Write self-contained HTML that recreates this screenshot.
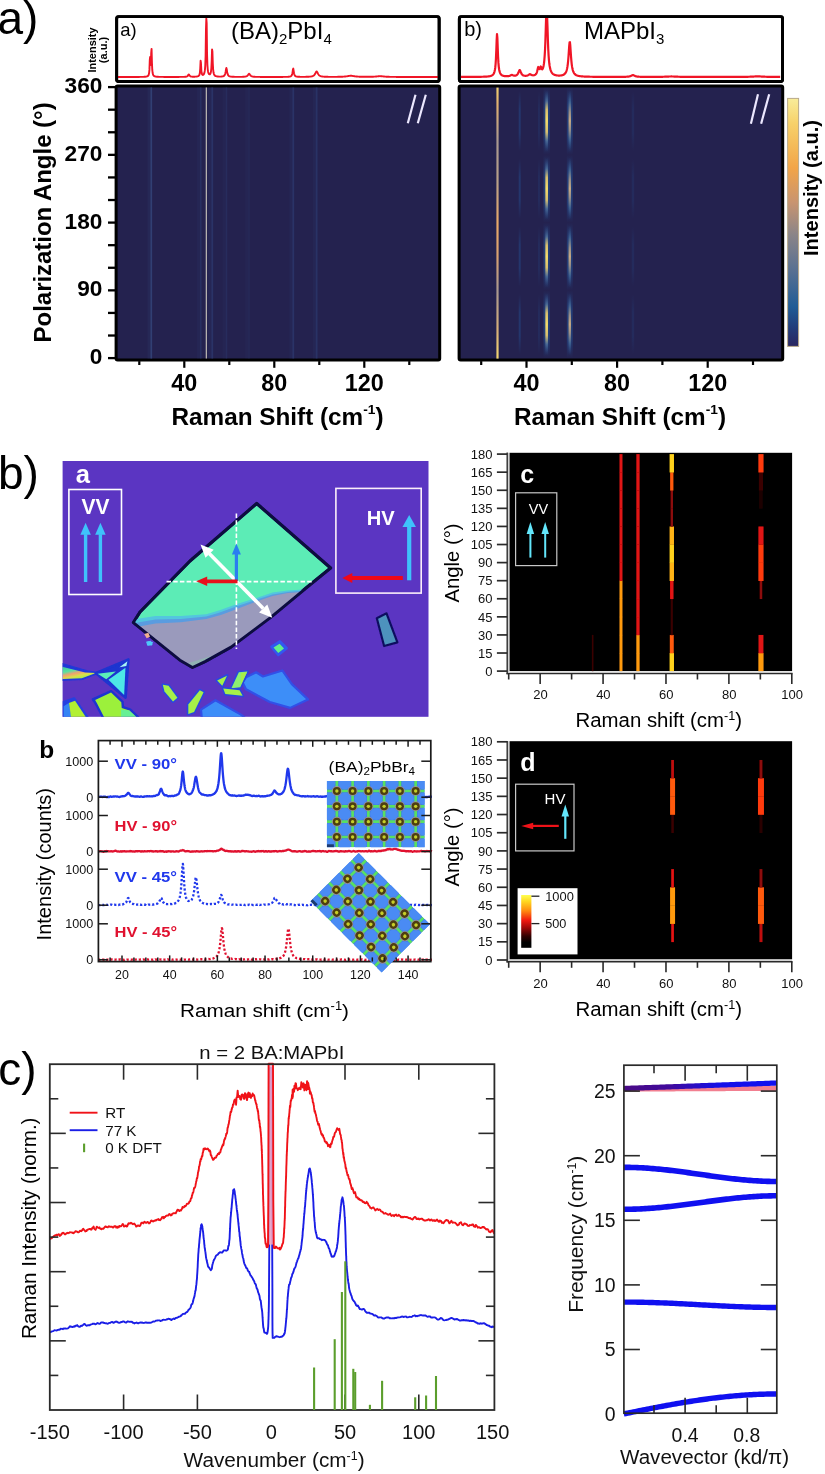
<!DOCTYPE html>
<html lang="en"><head><meta charset="utf-8"><title>Raman figure</title>
<style>
html,body{margin:0;padding:0;background:#fff;}
body{width:825px;height:1474px;overflow:hidden;}
svg{display:block;font-family:"Liberation Sans",sans-serif;}
</style></head><body>
<svg width="825" height="1474" viewBox="0 0 825 1474">
<rect x="0" y="0" width="825" height="1474" fill="#ffffff"/>
<defs>
<linearGradient id="cbA" x1="0" y1="0" x2="0" y2="1"><stop offset="0" stop-color="#f8ec9a"/><stop offset="0.10" stop-color="#f7d16a"/><stop offset="0.28" stop-color="#f2a548"/><stop offset="0.42" stop-color="#c89470"/><stop offset="0.55" stop-color="#8a8488"/><stop offset="0.70" stop-color="#566f92"/><stop offset="0.84" stop-color="#205c96"/><stop offset="0.93" stop-color="#233b78"/><stop offset="1" stop-color="#2a2560"/></linearGradient>
<linearGradient id="segY" x1="0" y1="0" x2="0" y2="1"><stop offset="0" stop-color="#2a4a86" stop-opacity="0"/><stop offset="0.18" stop-color="#4a6a96"/><stop offset="0.32" stop-color="#d8c070"/><stop offset="0.5" stop-color="#f4dc6c"/><stop offset="0.68" stop-color="#d8c070"/><stop offset="0.82" stop-color="#4a6a96"/><stop offset="1" stop-color="#2a4a86" stop-opacity="0"/></linearGradient>
<linearGradient id="segT" x1="0" y1="0" x2="0" y2="1"><stop offset="0" stop-color="#2a4a86" stop-opacity="0"/><stop offset="0.2" stop-color="#3f6392"/><stop offset="0.36" stop-color="#9a9088"/><stop offset="0.5" stop-color="#c8aa84"/><stop offset="0.64" stop-color="#9a9088"/><stop offset="0.8" stop-color="#3f6392"/><stop offset="1" stop-color="#2a4a86" stop-opacity="0"/></linearGradient>
<linearGradient id="segH" x1="0" y1="0" x2="0" y2="1"><stop offset="0" stop-color="#234a8a" stop-opacity="0"/><stop offset="0.3" stop-color="#234a8a" stop-opacity="0.9"/><stop offset="0.7" stop-color="#234a8a" stop-opacity="0.9"/><stop offset="1" stop-color="#234a8a" stop-opacity="0"/></linearGradient>
<linearGradient id="lineA" x1="0" y1="0" x2="0" y2="1"><stop offset="0" stop-color="#f0d070"/><stop offset="0.06" stop-color="#e0b070"/><stop offset="0.2" stop-color="#a89890"/><stop offset="0.35" stop-color="#b8a088"/><stop offset="0.5" stop-color="#e8a868"/><stop offset="0.62" stop-color="#d8a070"/><stop offset="0.75" stop-color="#a89890"/><stop offset="0.9" stop-color="#d8b078"/><stop offset="1" stop-color="#f4d870"/></linearGradient>
</defs>
<text x="-2.5" y="33.8" font-size="46" font-weight="normal" text-anchor="start" fill="#000">a)</text>
<rect x="116.1" y="86.1" width="323.6" height="274" fill="#24224f" stroke="#000" stroke-width="3" rx="1.5"/>
<line x1="150.03" y1="87.6" x2="150.03" y2="358.6" stroke="#2b3466" stroke-width="5" opacity="0.3375"/>
<line x1="151.23" y1="87.6" x2="151.23" y2="358.6" stroke="#364a80" stroke-width="1.4" opacity="0.75"/>
<line x1="199.53" y1="87.6" x2="199.53" y2="358.6" stroke="#2b3466" stroke-width="5" opacity="0.225"/>
<line x1="200.72" y1="87.6" x2="200.72" y2="358.6" stroke="#2c3c74" stroke-width="1.2" opacity="0.5"/>
<line x1="211" y1="87.6" x2="211" y2="358.6" stroke="#2b3466" stroke-width="5" opacity="0.27"/>
<line x1="212.2" y1="87.6" x2="212.2" y2="358.6" stroke="#303f78" stroke-width="1.4" opacity="0.6"/>
<line x1="225.18" y1="87.6" x2="225.18" y2="358.6" stroke="#2b3466" stroke-width="5" opacity="0.2025"/>
<line x1="226.38" y1="87.6" x2="226.38" y2="358.6" stroke="#2a376c" stroke-width="1.2" opacity="0.45"/>
<line x1="247.68" y1="87.6" x2="247.68" y2="358.6" stroke="#2b3466" stroke-width="5" opacity="0.18000000000000002"/>
<line x1="248.88" y1="87.6" x2="248.88" y2="358.6" stroke="#28305f" stroke-width="1.2" opacity="0.4"/>
<line x1="292" y1="87.6" x2="292" y2="358.6" stroke="#2b3466" stroke-width="5" opacity="0.27"/>
<line x1="293.2" y1="87.6" x2="293.2" y2="358.6" stroke="#303f78" stroke-width="1.4" opacity="0.6"/>
<line x1="315.4" y1="87.6" x2="315.4" y2="358.6" stroke="#2b3466" stroke-width="5" opacity="0.24750000000000003"/>
<line x1="316.6" y1="87.6" x2="316.6" y2="358.6" stroke="#2e3c74" stroke-width="1.6" opacity="0.55"/>
<line x1="206.35" y1="87.6" x2="206.35" y2="358.6" stroke="#b4b0ae" stroke-width="1.3"/>
<line x1="415.5" y1="94.8" x2="407.8" y2="123.3" stroke="#ece8ff" stroke-width="2.2"/>
<line x1="425.8" y1="94.8" x2="417.8" y2="123.3" stroke="#ece8ff" stroke-width="2.2"/>
<rect x="116.65" y="16.65" width="322.5" height="64.9" fill="#fff" stroke="#000" stroke-width="2.9" rx="2"/>
<polyline points="117.93,76.99 118.28,76.99 118.64,76.99 119,76.99 119.36,76.99 119.71,76.99 120.07,76.99 120.43,76.98 120.79,76.98 121.15,76.98 121.5,76.98 121.86,76.98 122.22,76.98 122.58,76.98 122.94,76.98 123.29,76.98 123.65,76.98 124.01,76.98 124.37,76.98 124.73,76.98 125.08,76.98 125.44,76.98 125.8,76.98 126.16,76.98 126.51,76.98 126.87,76.98 127.23,76.98 127.59,76.98 127.95,76.98 128.3,76.98 128.66,76.98 129.02,76.98 129.38,76.97 129.74,76.97 130.09,76.97 130.45,76.97 130.81,76.97 131.17,76.97 131.53,76.97 131.88,76.97 132.24,76.97 132.6,76.97 132.96,76.97 133.31,76.96 133.67,76.96 134.03,76.96 134.39,76.96 134.75,76.96 135.1,76.96 135.46,76.96 135.82,76.95 136.18,76.95 136.54,76.95 136.89,76.95 137.25,76.95 137.61,76.94 137.97,76.94 138.33,76.94 138.68,76.93 139.04,76.93 139.4,76.93 139.76,76.92 140.11,76.92 140.47,76.91 140.83,76.91 141.19,76.9 141.55,76.89 141.9,76.89 142.26,76.88 142.62,76.87 142.98,76.86 143.34,76.84 143.69,76.83 144.05,76.81 144.41,76.79 144.77,76.76 145.13,76.73 145.48,76.7 145.84,76.65 146.2,76.6 146.56,76.53 146.91,76.43 147.27,76.31 147.63,76.14 147.99,75.88 148.35,75.47 148.7,74.77 149.06,73.36 149.42,69.89 149.78,60.09 150.14,56.84 150.49,65.01 150.85,63.55 151.21,52.83 151.57,48.85 151.93,62.61 152.28,69.96 152.64,73 153,74.45 153.36,75.23 153.71,75.7 154.07,76 154.43,76.21 154.79,76.36 155.15,76.46 155.5,76.55 155.86,76.61 156.22,76.66 156.58,76.7 156.94,76.74 157.29,76.76 157.65,76.79 158.01,76.81 158.37,76.82 158.73,76.84 159.08,76.85 159.44,76.86 159.8,76.87 160.16,76.88 160.51,76.89 160.87,76.89 161.23,76.9 161.59,76.9 161.95,76.91 162.3,76.91 162.66,76.92 163.02,76.92 163.38,76.92 163.74,76.93 164.09,76.93 164.45,76.93 164.81,76.93 165.17,76.93 165.53,76.94 165.88,76.94 166.24,76.94 166.6,76.94 166.96,76.94 167.31,76.94 167.67,76.94 168.03,76.94 168.39,76.94 168.75,76.94 169.1,76.95 169.46,76.95 169.82,76.95 170.18,76.95 170.54,76.95 170.89,76.95 171.25,76.95 171.61,76.95 171.97,76.95 172.33,76.95 172.68,76.95 173.04,76.95 173.4,76.95 173.76,76.94 174.11,76.94 174.47,76.94 174.83,76.94 175.19,76.94 175.55,76.94 175.9,76.94 176.26,76.94 176.62,76.94 176.98,76.94 177.34,76.94 177.69,76.93 178.05,76.93 178.41,76.93 178.77,76.93 179.13,76.93 179.48,76.92 179.84,76.92 180.2,76.92 180.56,76.91 180.91,76.91 181.27,76.91 181.63,76.9 181.99,76.9 182.35,76.89 182.7,76.88 183.06,76.88 183.42,76.87 183.78,76.86 184.14,76.84 184.49,76.83 184.85,76.8 185.21,76.78 185.57,76.74 185.93,76.7 186.28,76.64 186.64,76.55 187,76.41 187.36,76.21 187.72,75.89 188.07,75.39 188.43,74.76 188.79,74.4 189.15,74.72 189.5,75.34 189.86,75.84 190.22,76.16 190.58,76.36 190.94,76.49 191.29,76.57 191.65,76.63 192.01,76.66 192.37,76.69 192.73,76.7 193.08,76.71 193.44,76.72 193.8,76.72 194.16,76.71 194.52,76.7 194.87,76.69 195.23,76.67 195.59,76.65 195.95,76.63 196.3,76.59 196.66,76.55 197.02,76.5 197.38,76.43 197.74,76.34 198.09,76.22 198.45,76.04 198.81,75.77 199.17,75.32 199.53,74.5 199.88,72.78 200.24,68.62 200.6,60.69 200.96,62.97 201.32,70.07 201.67,73.1 202.03,74.3 202.39,74.79 202.75,74.95 203.1,74.9 203.46,74.67 203.82,74.25 204.18,73.53 204.54,72.32 204.89,70.15 205.25,65.85 205.61,55.89 205.97,29.02 206.33,18.5 206.68,22.98 207.04,53.58 207.4,64.86 207.76,69.59 208.12,71.9 208.47,73.15 208.83,73.85 209.19,74.22 209.55,74.34 209.9,74.25 210.26,73.88 210.62,73.09 210.98,71.5 211.34,68.19 211.69,60.97 212.05,49.5 212.41,51.34 212.77,62.8 213.13,69.24 213.48,72.28 213.84,73.83 214.2,74.71 214.56,75.26 214.92,75.61 215.27,75.86 215.63,76.04 215.99,76.17 216.35,76.28 216.7,76.35 217.06,76.42 217.42,76.46 217.78,76.5 218.14,76.53 218.49,76.56 218.85,76.58 219.21,76.59 219.57,76.6 219.93,76.6 220.28,76.6 220.64,76.59 221,76.58 221.36,76.56 221.72,76.53 222.07,76.49 222.43,76.43 222.79,76.36 223.15,76.26 223.5,76.13 223.86,75.93 224.22,75.65 224.58,75.21 224.94,74.53 225.29,73.42 225.65,71.64 226.01,69.28 226.37,67.9 226.73,69.2 227.08,71.57 227.44,73.38 227.8,74.52 228.16,75.23 228.52,75.67 228.87,75.97 229.23,76.18 229.59,76.32 229.95,76.43 230.3,76.51 230.66,76.58 231.02,76.63 231.38,76.67 231.74,76.7 232.09,76.73 232.45,76.75 232.81,76.77 233.17,76.79 233.53,76.8 233.88,76.81 234.24,76.82 234.6,76.83 234.96,76.84 235.32,76.84 235.67,76.85 236.03,76.85 236.39,76.86 236.75,76.86 237.1,76.86 237.46,76.86 237.82,76.87 238.18,76.87 238.54,76.87 238.89,76.87 239.25,76.87 239.61,76.86 239.97,76.86 240.33,76.86 240.68,76.85 241.04,76.85 241.4,76.84 241.76,76.84 242.12,76.83 242.47,76.82 242.83,76.8 243.19,76.79 243.55,76.77 243.9,76.75 244.26,76.72 244.62,76.68 244.98,76.64 245.34,76.59 245.69,76.52 246.05,76.43 246.41,76.31 246.77,76.15 247.13,75.94 247.48,75.64 247.84,75.25 248.2,74.74 248.56,74.2 248.92,73.82 249.27,73.81 249.63,74.19 249.99,74.73 250.35,75.24 250.71,75.64 251.06,75.94 251.42,76.16 251.78,76.32 252.14,76.44 252.49,76.53 252.85,76.6 253.21,76.65 253.57,76.7 253.93,76.73 254.28,76.76 254.64,76.79 255,76.81 255.36,76.83 255.72,76.84 256.07,76.85 256.43,76.86 256.79,76.87 257.15,76.88 257.51,76.89 257.86,76.9 258.22,76.9 258.58,76.91 258.94,76.91 259.29,76.91 259.65,76.92 260.01,76.92 260.37,76.93 260.73,76.93 261.08,76.93 261.44,76.93 261.8,76.93 262.16,76.94 262.52,76.94 262.87,76.94 263.23,76.94 263.59,76.94 263.95,76.94 264.31,76.95 264.66,76.95 265.02,76.95 265.38,76.95 265.74,76.95 266.09,76.95 266.45,76.95 266.81,76.95 267.17,76.95 267.53,76.95 267.88,76.95 268.24,76.95 268.6,76.95 268.96,76.95 269.32,76.95 269.67,76.95 270.03,76.96 270.39,76.96 270.75,76.96 271.11,76.96 271.46,76.96 271.82,76.96 272.18,76.96 272.54,76.96 272.89,76.96 273.25,76.96 273.61,76.95 273.97,76.95 274.33,76.95 274.68,76.95 275.04,76.95 275.4,76.95 275.76,76.95 276.12,76.95 276.47,76.95 276.83,76.95 277.19,76.95 277.55,76.95 277.91,76.95 278.26,76.95 278.62,76.95 278.98,76.95 279.34,76.94 279.69,76.94 280.05,76.94 280.41,76.94 280.77,76.94 281.13,76.94 281.48,76.94 281.84,76.93 282.2,76.93 282.56,76.93 282.92,76.93 283.27,76.92 283.63,76.92 283.99,76.91 284.35,76.91 284.71,76.9 285.06,76.9 285.42,76.89 285.78,76.89 286.14,76.88 286.49,76.87 286.85,76.86 287.21,76.84 287.57,76.83 287.93,76.81 288.28,76.78 288.64,76.75 289,76.72 289.36,76.67 289.72,76.61 290.07,76.53 290.43,76.42 290.79,76.26 291.15,76.03 291.51,75.66 291.86,75.04 292.22,73.97 292.58,72.08 292.94,69.45 293.29,68.6 293.65,70.86 294.01,73.2 294.37,74.61 294.73,75.4 295.08,75.87 295.44,76.15 295.8,76.34 296.16,76.47 296.52,76.56 296.87,76.63 297.23,76.68 297.59,76.72 297.95,76.75 298.31,76.77 298.66,76.79 299.02,76.8 299.38,76.81 299.74,76.82 300.09,76.83 300.45,76.84 300.81,76.84 301.17,76.85 301.53,76.85 301.88,76.85 302.24,76.85 302.6,76.85 302.96,76.85 303.32,76.85 303.67,76.85 304.03,76.85 304.39,76.84 304.75,76.84 305.11,76.83 305.46,76.83 305.82,76.82 306.18,76.81 306.54,76.8 306.89,76.79 307.25,76.78 307.61,76.77 307.97,76.76 308.33,76.74 308.68,76.72 309.04,76.7 309.4,76.67 309.76,76.65 310.12,76.61 310.47,76.57 310.83,76.53 311.19,76.47 311.55,76.41 311.91,76.33 312.26,76.24 312.62,76.12 312.98,75.98 313.34,75.8 313.7,75.58 314.05,75.29 314.41,74.91 314.77,74.44 315.13,73.84 315.48,73.14 315.84,72.39 316.2,71.76 316.56,71.47 316.92,71.65 317.27,72.22 317.63,72.96 317.99,73.68 318.35,74.31 318.71,74.81 319.06,75.2 319.42,75.51 319.78,75.75 320.14,75.94 320.5,76.09 320.85,76.21 321.21,76.31 321.57,76.39 321.93,76.46 322.28,76.51 322.64,76.56 323,76.6 323.36,76.63 323.72,76.66 324.07,76.69 324.43,76.71 324.79,76.73 325.15,76.74 325.51,76.76 325.86,76.77 326.22,76.78 326.58,76.79 326.94,76.8 327.3,76.81 327.65,76.82 328.01,76.82 328.37,76.83 328.73,76.83 329.08,76.84 329.44,76.84 329.8,76.85 330.16,76.85 330.52,76.85 330.87,76.85 331.23,76.85 331.59,76.86 331.95,76.86 332.31,76.86 332.66,76.86 333.02,76.86 333.38,76.86 333.74,76.86 334.1,76.85 334.45,76.85 334.81,76.85 335.17,76.85 335.53,76.85 335.88,76.84 336.24,76.84 336.6,76.84 336.96,76.83 337.32,76.83 337.67,76.82 338.03,76.82 338.39,76.81 338.75,76.81 339.11,76.8 339.46,76.79 339.82,76.78 340.18,76.77 340.54,76.76 340.9,76.75 341.25,76.74 341.61,76.73 341.97,76.71 342.33,76.7 342.68,76.68 343.04,76.66 343.4,76.64 343.76,76.61 344.12,76.59 344.47,76.56 344.83,76.53 345.19,76.49 345.55,76.46 345.91,76.41 346.26,76.37 346.62,76.32 346.98,76.27 347.34,76.21 347.7,76.15 348.05,76.09 348.41,76.03 348.77,75.97 349.13,75.91 349.48,75.86 349.84,75.82 350.2,75.79 350.56,75.77 350.92,75.76 351.27,75.78 351.63,75.8 351.99,75.84 352.35,75.89 352.71,75.95 353.06,76.01 353.42,76.07 353.78,76.13 354.14,76.19 354.5,76.24 354.85,76.3 355.21,76.35 355.57,76.39 355.93,76.44 356.28,76.48 356.64,76.51 357,76.54 357.36,76.57 357.72,76.6 358.07,76.62 358.43,76.64 358.79,76.66 359.15,76.68 359.51,76.7 359.86,76.71 360.22,76.73 360.58,76.74 360.94,76.75 361.3,76.76 361.65,76.77 362.01,76.78 362.37,76.78 362.73,76.79 363.08,76.8 363.44,76.8 363.8,76.8 364.16,76.81 364.52,76.81 364.87,76.81 365.23,76.82 365.59,76.82 365.95,76.82 366.31,76.82 366.66,76.82 367.02,76.82 367.38,76.82 367.74,76.82 368.1,76.82 368.45,76.81 368.81,76.81 369.17,76.81 369.53,76.8 369.88,76.8 370.24,76.79 370.6,76.79 370.96,76.78 371.32,76.77 371.67,76.76 372.03,76.75 372.39,76.74 372.75,76.72 373.11,76.71 373.46,76.69 373.82,76.67 374.18,76.65 374.54,76.63 374.9,76.61 375.25,76.58 375.61,76.55 375.97,76.52 376.33,76.48 376.69,76.44 377.04,76.41 377.4,76.37 377.76,76.33 378.12,76.29 378.47,76.25 378.83,76.22 379.19,76.19 379.55,76.17 379.91,76.17 380.26,76.17 380.62,76.18 380.98,76.2 381.34,76.23 381.7,76.26 382.05,76.3 382.41,76.34 382.77,76.38 383.13,76.43 383.49,76.47 383.84,76.5 384.2,76.54 384.56,76.57 384.92,76.61 385.27,76.63 385.63,76.66 385.99,76.68 386.35,76.71 386.71,76.73 387.06,76.74 387.42,76.76 387.78,76.77 388.14,76.79 388.5,76.8 388.85,76.81 389.21,76.82 389.57,76.83 389.93,76.84 390.29,76.85 390.64,76.86 391,76.86 391.36,76.87 391.72,76.88 392.07,76.88 392.43,76.89 392.79,76.89 393.15,76.9 393.51,76.9 393.86,76.91 394.22,76.91 394.58,76.91 394.94,76.92 395.3,76.92 395.65,76.92 396.01,76.92 396.37,76.93 396.73,76.93 397.09,76.93 397.44,76.93 397.8,76.94 398.16,76.94 398.52,76.94 398.87,76.94 399.23,76.94 399.59,76.95 399.95,76.95 400.31,76.95 400.66,76.95 401.02,76.95 401.38,76.95 401.74,76.95 402.1,76.95 402.45,76.96 402.81,76.96 403.17,76.96 403.53,76.96 403.89,76.96 404.24,76.96 404.6,76.96 404.96,76.96 405.32,76.96 405.67,76.96 406.03,76.97 406.39,76.97 406.75,76.97 407.11,76.97 407.46,76.97 407.82,76.97 408.18,76.97 408.54,76.97 408.9,76.97 409.25,76.97 409.61,76.97 409.97,76.97 410.33,76.97 410.69,76.97 411.04,76.97 411.4,76.97 411.76,76.97 412.12,76.97 412.47,76.98 412.83,76.98 413.19,76.98 413.55,76.98 413.91,76.98 414.26,76.98 414.62,76.98 414.98,76.98 415.34,76.98 415.7,76.98 416.05,76.98 416.41,76.98 416.77,76.98 417.13,76.98 417.49,76.98 417.84,76.98 418.2,76.98 418.56,76.98 418.92,76.98 419.27,76.98 419.63,76.98 419.99,76.98 420.35,76.98 420.71,76.98 421.06,76.98 421.42,76.98 421.78,76.98 422.14,76.98 422.5,76.98 422.85,76.98 423.21,76.98 423.57,76.98 423.93,76.98 424.29,76.98 424.64,76.98 425,76.99 425.36,76.99 425.72,76.99 426.07,76.99 426.43,76.99 426.79,76.99 427.15,76.99 427.51,76.99 427.86,76.99 428.22,76.99 428.58,76.99 428.94,76.99 429.3,76.99 429.65,76.99 430.01,76.99 430.37,76.99 430.73,76.99 431.09,76.99 431.44,76.99 431.8,76.99 432.16,76.99 432.52,76.99 432.87,76.99 433.23,76.99 433.59,76.99 433.95,76.99 434.31,76.99 434.66,76.99 435.02,76.99 435.38,76.99 435.74,76.99 436.1,76.99 436.45,76.99 436.81,76.99 437.17,76.99 437.53,76.99 437.89,76.99 438.24,76.99 438.6,76.99 438.96,76.99 439.32,76.99 439.68,76.99" fill="none" stroke="#f01526" stroke-width="1.9" stroke-linejoin="round"/>
<rect x="116.65" y="16.65" width="322.5" height="64.9" fill="none" stroke="#000" stroke-width="2.9" rx="2"/>
<text x="120.3" y="36" font-size="18.5" font-weight="normal" text-anchor="start" fill="#000">a)</text>
<text x="231" y="39.2" font-size="24">(BA)<tspan font-size="15" dy="4.8">2</tspan><tspan dy="-4.8">PbI</tspan><tspan font-size="15" dy="4.8">4</tspan></text>
<text transform="translate(95.8 50) rotate(-90)" font-size="11" font-weight="bold" text-anchor="middle">Intensity</text>
<text transform="translate(106.6 50) rotate(-90)" font-size="11" font-weight="bold" text-anchor="middle">(a.u.)</text>
<line x1="108" y1="358.1" x2="115.1" y2="358.1" stroke="#000" stroke-width="2.3"/>
<line x1="108" y1="335.52" x2="115.1" y2="335.52" stroke="#000" stroke-width="2.3"/>
<line x1="108" y1="312.93" x2="115.1" y2="312.93" stroke="#000" stroke-width="2.3"/>
<line x1="108" y1="290.35" x2="115.1" y2="290.35" stroke="#000" stroke-width="2.3"/>
<line x1="108" y1="267.77" x2="115.1" y2="267.77" stroke="#000" stroke-width="2.3"/>
<line x1="108" y1="245.18" x2="115.1" y2="245.18" stroke="#000" stroke-width="2.3"/>
<line x1="108" y1="222.6" x2="115.1" y2="222.6" stroke="#000" stroke-width="2.3"/>
<line x1="108" y1="200.02" x2="115.1" y2="200.02" stroke="#000" stroke-width="2.3"/>
<line x1="108" y1="177.43" x2="115.1" y2="177.43" stroke="#000" stroke-width="2.3"/>
<line x1="108" y1="154.85" x2="115.1" y2="154.85" stroke="#000" stroke-width="2.3"/>
<line x1="108" y1="132.27" x2="115.1" y2="132.27" stroke="#000" stroke-width="2.3"/>
<line x1="108" y1="109.68" x2="115.1" y2="109.68" stroke="#000" stroke-width="2.3"/>
<line x1="108" y1="87.1" x2="115.1" y2="87.1" stroke="#000" stroke-width="2.3"/>
<text x="102.4" y="364.1" font-size="22.5" font-weight="bold" text-anchor="end" fill="#000" textLength="12.6" lengthAdjust="spacingAndGlyphs">0</text>
<text x="102.4" y="296.35" font-size="22.5" font-weight="bold" text-anchor="end" fill="#000" textLength="25.2" lengthAdjust="spacingAndGlyphs">90</text>
<text x="102.4" y="228.6" font-size="22.5" font-weight="bold" text-anchor="end" fill="#000" textLength="37.8" lengthAdjust="spacingAndGlyphs">180</text>
<text x="102.4" y="160.85" font-size="22.5" font-weight="bold" text-anchor="end" fill="#000" textLength="37.8" lengthAdjust="spacingAndGlyphs">270</text>
<text x="102.4" y="93.1" font-size="22.5" font-weight="bold" text-anchor="end" fill="#000" textLength="37.8" lengthAdjust="spacingAndGlyphs">360</text>
<text transform="translate(50.8 222.4) rotate(-90)" font-size="23" font-weight="bold" text-anchor="middle" fill="#000" textLength="240" lengthAdjust="spacingAndGlyphs">Polarization Angle (°)</text>
<line x1="139.3" y1="361.1" x2="139.3" y2="365" stroke="#000" stroke-width="2.2"/>
<line x1="184.3" y1="361.1" x2="184.3" y2="367.8" stroke="#000" stroke-width="2.2"/>
<line x1="229.3" y1="361.1" x2="229.3" y2="365" stroke="#000" stroke-width="2.2"/>
<line x1="274.3" y1="361.1" x2="274.3" y2="367.8" stroke="#000" stroke-width="2.2"/>
<line x1="319.3" y1="361.1" x2="319.3" y2="365" stroke="#000" stroke-width="2.2"/>
<line x1="364.3" y1="361.1" x2="364.3" y2="367.8" stroke="#000" stroke-width="2.2"/>
<line x1="409.3" y1="361.1" x2="409.3" y2="365" stroke="#000" stroke-width="2.2"/>
<text x="184.3" y="391.4" font-size="23" font-weight="bold" text-anchor="middle" fill="#000" textLength="26" lengthAdjust="spacingAndGlyphs">40</text>
<text x="274.3" y="391.4" font-size="23" font-weight="bold" text-anchor="middle" fill="#000" textLength="26" lengthAdjust="spacingAndGlyphs">80</text>
<text x="364.3" y="391.4" font-size="23" font-weight="bold" text-anchor="middle" fill="#000" textLength="39" lengthAdjust="spacingAndGlyphs">120</text>
<text x="171.5" y="425.3" font-size="23" font-weight="bold" textLength="212" lengthAdjust="spacingAndGlyphs">Raman Shift (cm<tspan font-size="13" dy="-11">-1</tspan><tspan dy="11">)</tspan></text>
<rect x="459.1" y="86.1" width="323.6" height="274" fill="#24224f" stroke="#000" stroke-width="3" rx="1.5"/>
<rect x="496.41" y="87.6" width="2.2" height="271" fill="url(#lineA)" stroke="none" stroke-width="1"/>
<rect x="518.71" y="294.23" width="2" height="60" fill="url(#segH)" stroke="none" stroke-width="1" opacity="0.55"/>
<rect x="518.71" y="226.48" width="2" height="60" fill="url(#segH)" stroke="none" stroke-width="1" opacity="0.55"/>
<rect x="518.71" y="158.73" width="2" height="60" fill="url(#segH)" stroke="none" stroke-width="1" opacity="0.55"/>
<rect x="518.71" y="90.98" width="2" height="60" fill="url(#segH)" stroke="none" stroke-width="1" opacity="0.55"/>
<rect x="631.75" y="294.23" width="2.4" height="60" fill="url(#segH)" stroke="none" stroke-width="1" opacity="0.25"/>
<rect x="631.75" y="226.48" width="2.4" height="60" fill="url(#segH)" stroke="none" stroke-width="1" opacity="0.25"/>
<rect x="631.75" y="158.73" width="2.4" height="60" fill="url(#segH)" stroke="none" stroke-width="1" opacity="0.25"/>
<rect x="631.75" y="90.98" width="2.4" height="60" fill="url(#segH)" stroke="none" stroke-width="1" opacity="0.25"/>
<rect x="538.16" y="294.23" width="1.6" height="60" fill="url(#segH)" stroke="none" stroke-width="1" opacity="0.3"/>
<rect x="538.16" y="226.48" width="1.6" height="60" fill="url(#segH)" stroke="none" stroke-width="1" opacity="0.3"/>
<rect x="538.16" y="158.73" width="1.6" height="60" fill="url(#segH)" stroke="none" stroke-width="1" opacity="0.3"/>
<rect x="538.16" y="90.98" width="1.6" height="60" fill="url(#segH)" stroke="none" stroke-width="1" opacity="0.3"/>
<rect x="543.56" y="290.23" width="6.2" height="68" fill="url(#segH)" stroke="none" stroke-width="1" opacity="0.8"/>
<rect x="545.36" y="293.23" width="2.6" height="62" fill="url(#segY)" stroke="none" stroke-width="1"/>
<rect x="566.86" y="290.23" width="5.8" height="68" fill="url(#segH)" stroke="none" stroke-width="1" opacity="0.75"/>
<rect x="568.56" y="293.23" width="2.4" height="62" fill="url(#segT)" stroke="none" stroke-width="1"/>
<rect x="543.56" y="222.48" width="6.2" height="68" fill="url(#segH)" stroke="none" stroke-width="1" opacity="0.8"/>
<rect x="545.36" y="225.48" width="2.6" height="62" fill="url(#segY)" stroke="none" stroke-width="1"/>
<rect x="566.86" y="222.48" width="5.8" height="68" fill="url(#segH)" stroke="none" stroke-width="1" opacity="0.75"/>
<rect x="568.56" y="225.48" width="2.4" height="62" fill="url(#segT)" stroke="none" stroke-width="1"/>
<rect x="543.56" y="154.73" width="6.2" height="68" fill="url(#segH)" stroke="none" stroke-width="1" opacity="0.8"/>
<rect x="545.36" y="157.73" width="2.6" height="62" fill="url(#segY)" stroke="none" stroke-width="1"/>
<rect x="566.86" y="154.73" width="5.8" height="68" fill="url(#segH)" stroke="none" stroke-width="1" opacity="0.75"/>
<rect x="568.56" y="157.73" width="2.4" height="62" fill="url(#segT)" stroke="none" stroke-width="1"/>
<rect x="543.56" y="86.98" width="6.2" height="68" fill="url(#segH)" stroke="none" stroke-width="1" opacity="0.8"/>
<rect x="545.36" y="89.98" width="2.6" height="62" fill="url(#segY)" stroke="none" stroke-width="1"/>
<rect x="566.86" y="86.98" width="5.8" height="68" fill="url(#segH)" stroke="none" stroke-width="1" opacity="0.75"/>
<rect x="568.56" y="89.98" width="2.4" height="62" fill="url(#segT)" stroke="none" stroke-width="1"/>
<line x1="758" y1="94.3" x2="750.9" y2="123.8" stroke="#ece8ff" stroke-width="2.2"/>
<line x1="769.2" y1="94.3" x2="761.1" y2="123.8" stroke="#ece8ff" stroke-width="2.2"/>
<rect x="459.35" y="16.65" width="323.2" height="64.9" fill="#fff" stroke="#000" stroke-width="2.9" rx="2"/>
<polyline points="460.36,76.94 460.72,76.94 461.07,76.94 461.43,76.94 461.78,76.93 462.14,76.93 462.5,76.93 462.85,76.93 463.21,76.93 463.56,76.93 463.92,76.93 464.28,76.93 464.63,76.93 464.99,76.93 465.34,76.92 465.7,76.92 466.05,76.92 466.41,76.92 466.77,76.92 467.12,76.92 467.48,76.92 467.83,76.91 468.19,76.91 468.54,76.91 468.9,76.91 469.26,76.91 469.61,76.91 469.97,76.9 470.32,76.9 470.68,76.9 471.03,76.9 471.39,76.9 471.75,76.89 472.1,76.89 472.46,76.89 472.81,76.89 473.17,76.89 473.52,76.88 473.88,76.88 474.24,76.88 474.59,76.87 474.95,76.87 475.3,76.87 475.66,76.87 476.01,76.86 476.37,76.86 476.73,76.85 477.08,76.85 477.44,76.85 477.79,76.84 478.15,76.84 478.51,76.83 478.86,76.83 479.22,76.82 479.57,76.82 479.93,76.81 480.28,76.8 480.64,76.8 481,76.79 481.35,76.78 481.71,76.77 482.06,76.77 482.42,76.76 482.77,76.75 483.13,76.74 483.49,76.72 483.84,76.71 484.2,76.7 484.55,76.68 484.91,76.67 485.26,76.65 485.62,76.63 485.98,76.61 486.33,76.59 486.69,76.57 487.04,76.54 487.4,76.51 487.75,76.48 488.11,76.44 488.47,76.4 488.82,76.35 489.18,76.3 489.53,76.24 489.89,76.17 490.24,76.09 490.6,76 490.96,75.89 491.31,75.76 491.67,75.6 492.02,75.42 492.38,75.19 492.74,74.91 493.09,74.56 493.45,74.1 493.8,73.51 494.16,72.71 494.51,71.6 494.87,70.04 495.23,67.73 495.58,64.24 495.94,58.82 496.29,50.69 496.65,40.52 497,33.99 497.36,37.87 497.72,47.85 498.07,56.78 498.43,62.9 498.78,66.85 499.14,69.43 499.49,71.17 499.85,72.38 500.21,73.24 500.56,73.88 500.92,74.37 501.27,74.74 501.63,75.03 501.98,75.26 502.34,75.45 502.7,75.6 503.05,75.73 503.41,75.83 503.76,75.91 504.12,75.99 504.47,76.04 504.83,76.09 505.19,76.13 505.54,76.16 505.9,76.18 506.25,76.2 506.61,76.2 506.97,76.2 507.32,76.2 507.68,76.18 508.03,76.15 508.39,76.11 508.74,76.06 509.1,75.99 509.46,75.89 509.81,75.77 510.17,75.62 510.52,75.44 510.88,75.24 511.23,75.06 511.59,74.94 511.95,74.92 512.3,75 512.66,75.15 513.01,75.31 513.37,75.45 513.72,75.56 514.08,75.63 514.44,75.67 514.79,75.68 515.15,75.65 515.5,75.59 515.86,75.49 516.21,75.36 516.57,75.17 516.93,74.92 517.28,74.58 517.64,74.13 517.99,73.55 518.35,72.8 518.7,71.91 519.06,70.99 519.42,70.27 519.77,70.08 520.13,70.49 520.48,71.32 520.84,72.25 521.2,73.09 521.55,73.78 521.91,74.31 522.26,74.71 522.62,75.01 522.97,75.25 523.33,75.42 523.69,75.55 524.04,75.65 524.4,75.72 524.75,75.77 525.11,75.8 525.46,75.81 525.82,75.81 526.18,75.78 526.53,75.74 526.89,75.67 527.24,75.58 527.6,75.46 527.95,75.3 528.31,75.09 528.67,74.85 529.02,74.59 529.38,74.35 529.73,74.2 530.09,74.18 530.44,74.31 530.8,74.51 531.16,74.73 531.51,74.93 531.87,75.08 532.22,75.19 532.58,75.26 532.93,75.29 533.29,75.29 533.65,75.27 534,75.21 534.36,75.11 534.71,74.99 535.07,74.81 535.42,74.58 535.78,74.26 536.14,73.83 536.49,73.22 536.85,72.38 537.2,71.19 537.56,69.62 537.92,67.96 538.27,67 538.63,67.31 538.98,68.29 539.34,69.03 539.69,69.13 540.05,68.46 540.41,67.22 540.76,66.42 541.12,67.07 541.47,68.29 541.83,69.08 542.18,69.29 542.54,69.02 542.9,68.34 543.25,67.23 543.61,65.64 543.96,63.4 544.32,60.28 544.67,55.91 545.03,49.75 545.39,41.16 545.74,29.73 546.1,18 546.45,18 546.81,18 547.16,18 547.52,27.87 547.88,39.76 548.23,48.85 548.59,55.41 548.94,60.11 549.3,63.51 549.65,66.01 550.01,67.89 550.37,69.32 550.72,70.44 551.08,71.33 551.43,72.04 551.79,72.62 552.15,73.09 552.5,73.49 552.86,73.82 553.21,74.09 553.57,74.33 553.92,74.53 554.28,74.71 554.64,74.85 554.99,74.98 555.35,75.09 555.7,75.19 556.06,75.27 556.41,75.34 556.77,75.39 557.13,75.44 557.48,75.48 557.84,75.51 558.19,75.54 558.55,75.55 558.9,75.56 559.26,75.56 559.62,75.55 559.97,75.53 560.33,75.51 560.68,75.48 561.04,75.43 561.39,75.38 561.75,75.31 562.11,75.23 562.46,75.13 562.82,75.01 563.17,74.87 563.53,74.71 563.88,74.51 564.24,74.26 564.6,73.97 564.95,73.62 565.31,73.18 565.66,72.64 566.02,71.96 566.38,71.1 566.73,70 567.09,68.55 567.44,66.64 567.8,64.11 568.15,60.75 568.51,56.41 568.87,51.19 569.22,45.9 569.58,42.29 569.93,42.22 570.29,45.73 570.64,51.02 571,56.28 571.36,60.67 571.71,64.08 572.07,66.65 572.42,68.59 572.78,70.07 573.13,71.2 573.49,72.09 573.85,72.79 574.2,73.35 574.56,73.81 574.91,74.18 575.27,74.5 575.62,74.76 575.98,74.98 576.34,75.17 576.69,75.33 577.05,75.47 577.4,75.6 577.76,75.71 578.11,75.8 578.47,75.89 578.83,75.96 579.18,76.03 579.54,76.09 579.89,76.15 580.25,76.2 580.61,76.24 580.96,76.28 581.32,76.32 581.67,76.35 582.03,76.39 582.38,76.41 582.74,76.44 583.1,76.47 583.45,76.49 583.81,76.51 584.16,76.53 584.52,76.55 584.87,76.57 585.23,76.58 585.59,76.6 585.94,76.61 586.3,76.63 586.65,76.64 587.01,76.65 587.36,76.66 587.72,76.67 588.08,76.68 588.43,76.69 588.79,76.7 589.14,76.71 589.5,76.72 589.85,76.73 590.21,76.74 590.57,76.74 590.92,76.75 591.28,76.76 591.63,76.76 591.99,76.77 592.34,76.77 592.7,76.78 593.06,76.78 593.41,76.79 593.77,76.79 594.12,76.8 594.48,76.8 594.83,76.81 595.19,76.81 595.55,76.81 595.9,76.82 596.26,76.82 596.61,76.82 596.97,76.83 597.33,76.83 597.68,76.83 598.04,76.84 598.39,76.84 598.75,76.84 599.1,76.85 599.46,76.85 599.82,76.85 600.17,76.85 600.53,76.86 600.88,76.86 601.24,76.86 601.59,76.86 601.95,76.86 602.31,76.87 602.66,76.87 603.02,76.87 603.37,76.87 603.73,76.87 604.08,76.87 604.44,76.88 604.8,76.88 605.15,76.88 605.51,76.88 605.86,76.88 606.22,76.88 606.57,76.88 606.93,76.88 607.29,76.89 607.64,76.89 608,76.89 608.35,76.89 608.71,76.89 609.06,76.89 609.42,76.89 609.78,76.89 610.13,76.89 610.49,76.89 610.84,76.89 611.2,76.89 611.56,76.89 611.91,76.89 612.27,76.89 612.62,76.89 612.98,76.89 613.33,76.89 613.69,76.89 614.05,76.89 614.4,76.89 614.76,76.89 615.11,76.89 615.47,76.89 615.82,76.89 616.18,76.89 616.54,76.89 616.89,76.89 617.25,76.89 617.6,76.89 617.96,76.89 618.31,76.89 618.67,76.89 619.03,76.88 619.38,76.88 619.74,76.88 620.09,76.88 620.45,76.88 620.8,76.87 621.16,76.87 621.52,76.87 621.87,76.86 622.23,76.86 622.58,76.85 622.94,76.85 623.29,76.84 623.65,76.84 624.01,76.83 624.36,76.82 624.72,76.81 625.07,76.8 625.43,76.79 625.79,76.78 626.14,76.76 626.5,76.74 626.85,76.72 627.21,76.7 627.56,76.67 627.92,76.64 628.28,76.6 628.63,76.55 628.99,76.5 629.34,76.43 629.7,76.35 630.05,76.26 630.41,76.15 630.77,76.01 631.12,75.86 631.48,75.68 631.83,75.5 632.19,75.33 632.54,75.2 632.9,75.14 633.26,75.17 633.61,75.28 633.97,75.44 634.32,75.62 634.68,75.8 635.03,75.97 635.39,76.11 635.75,76.23 636.1,76.33 636.46,76.41 636.81,76.48 637.17,76.54 637.52,76.59 637.88,76.63 638.24,76.66 638.59,76.69 638.95,76.72 639.3,76.74 639.66,76.76 640.02,76.77 640.37,76.79 640.73,76.8 641.08,76.81 641.44,76.82 641.79,76.83 642.15,76.84 642.51,76.84 642.86,76.85 643.22,76.86 643.57,76.86 643.93,76.87 644.28,76.87 644.64,76.87 645,76.88 645.35,76.88 645.71,76.88 646.06,76.88 646.42,76.89 646.77,76.89 647.13,76.89 647.49,76.89 647.84,76.89 648.2,76.89 648.55,76.89 648.91,76.89 649.26,76.89 649.62,76.89 649.98,76.89 650.33,76.89 650.69,76.89 651.04,76.89 651.4,76.89 651.75,76.89 652.11,76.89 652.47,76.89 652.82,76.89 653.18,76.89 653.53,76.89 653.89,76.89 654.24,76.89 654.6,76.88 654.96,76.88 655.31,76.88 655.67,76.88 656.02,76.88 656.38,76.87 656.74,76.87 657.09,76.87 657.45,76.86 657.8,76.86 658.16,76.86 658.51,76.85 658.87,76.85 659.23,76.84 659.58,76.84 659.94,76.83 660.29,76.83 660.65,76.82 661,76.82 661.36,76.81 661.72,76.8 662.07,76.79 662.43,76.78 662.78,76.78 663.14,76.77 663.49,76.76 663.85,76.75 664.21,76.73 664.56,76.72 664.92,76.71 665.27,76.69 665.63,76.68 665.98,76.67 666.34,76.65 666.7,76.63 667.05,76.62 667.41,76.6 667.76,76.58 668.12,76.57 668.47,76.55 668.83,76.54 669.19,76.52 669.54,76.51 669.9,76.5 670.25,76.49 670.61,76.48 670.97,76.47 671.32,76.47 671.68,76.47 672.03,76.48 672.39,76.48 672.74,76.49 673.1,76.5 673.46,76.51 673.81,76.53 674.17,76.54 674.52,76.56 674.88,76.57 675.23,76.59 675.59,76.61 675.95,76.63 676.3,76.64 676.66,76.66 677.01,76.67 677.37,76.69 677.72,76.7 678.08,76.72 678.44,76.73 678.79,76.74 679.15,76.76 679.5,76.77 679.86,76.78 680.21,76.79 680.57,76.8 680.93,76.81 681.28,76.81 681.64,76.82 681.99,76.83 682.35,76.84 682.7,76.84 683.06,76.85 683.42,76.85 683.77,76.86 684.13,76.87 684.48,76.87 684.84,76.87 685.2,76.88 685.55,76.88 685.91,76.89 686.26,76.89 686.62,76.89 686.97,76.9 687.33,76.9 687.69,76.9 688.04,76.91 688.4,76.91 688.75,76.91 689.11,76.91 689.46,76.92 689.82,76.92 690.18,76.92 690.53,76.92 690.89,76.92 691.24,76.93 691.6,76.93 691.95,76.93 692.31,76.93 692.67,76.93 693.02,76.93 693.38,76.93 693.73,76.94 694.09,76.94 694.44,76.94 694.8,76.94 695.16,76.94 695.51,76.94 695.87,76.94 696.22,76.94 696.58,76.94 696.93,76.94 697.29,76.95 697.65,76.95 698,76.95 698.36,76.95 698.71,76.95 699.07,76.95 699.43,76.95 699.78,76.95 700.14,76.95 700.49,76.95 700.85,76.95 701.2,76.95 701.56,76.95 701.92,76.95 702.27,76.95 702.63,76.96 702.98,76.96 703.34,76.96 703.69,76.96 704.05,76.96 704.41,76.96 704.76,76.96 705.12,76.96 705.47,76.96 705.83,76.96 706.18,76.96 706.54,76.96 706.9,76.96 707.25,76.96 707.61,76.96 707.96,76.96 708.32,76.96 708.67,76.96 709.03,76.96 709.39,76.96 709.74,76.96 710.1,76.96 710.45,76.96 710.81,76.96 711.16,76.96 711.52,76.96 711.88,76.96 712.23,76.96 712.59,76.96 712.94,76.96 713.3,76.96 713.66,76.96 714.01,76.96 714.37,76.96 714.72,76.96 715.08,76.96 715.43,76.96 715.79,76.96 716.15,76.96 716.5,76.96 716.86,76.96 717.21,76.96 717.57,76.96 717.92,76.96 718.28,76.96 718.64,76.96 718.99,76.96 719.35,76.96 719.7,76.96 720.06,76.96 720.41,76.96 720.77,76.96 721.13,76.96 721.48,76.96 721.84,76.96 722.19,76.96 722.55,76.96 722.9,76.96 723.26,76.96 723.62,76.96 723.97,76.96 724.33,76.96 724.68,76.96 725.04,76.96 725.39,76.96 725.75,76.96 726.11,76.96 726.46,76.96 726.82,76.96 727.17,76.95 727.53,76.95 727.88,76.95 728.24,76.95 728.6,76.95 728.95,76.95 729.31,76.95 729.66,76.95 730.02,76.95 730.38,76.95 730.73,76.95 731.09,76.95 731.44,76.95 731.8,76.95 732.15,76.94 732.51,76.94 732.87,76.94 733.22,76.94 733.58,76.94 733.93,76.94 734.29,76.94 734.64,76.94 735,76.94 735.36,76.93 735.71,76.93 736.07,76.93 736.42,76.93 736.78,76.93 737.13,76.93 737.49,76.92 737.85,76.92 738.2,76.92 738.56,76.92 738.91,76.92 739.27,76.91 739.62,76.91 739.98,76.91 740.34,76.91 740.69,76.9 741.05,76.9 741.4,76.9 741.76,76.89 742.11,76.89 742.47,76.89 742.83,76.88 743.18,76.88 743.54,76.87 743.89,76.87 744.25,76.86 744.61,76.86 744.96,76.85 745.32,76.85 745.67,76.84 746.03,76.83 746.38,76.83 746.74,76.82 747.1,76.81 747.45,76.8 747.81,76.79 748.16,76.78 748.52,76.77 748.87,76.76 749.23,76.75 749.59,76.74 749.94,76.72 750.3,76.71 750.65,76.69 751.01,76.68 751.36,76.66 751.72,76.64 752.08,76.62 752.43,76.61 752.79,76.59 753.14,76.57 753.5,76.55 753.85,76.53 754.21,76.51 754.57,76.49 754.92,76.47 755.28,76.45 755.63,76.43 755.99,76.42 756.34,76.41 756.7,76.4 757.06,76.39 757.41,76.39 757.77,76.39 758.12,76.39 758.48,76.4 758.84,76.41 759.19,76.42 759.55,76.44 759.9,76.46 760.26,76.47 760.61,76.49 760.97,76.51 761.33,76.53 761.68,76.55 762.04,76.57 762.39,76.59 762.75,76.61 763.1,76.63 763.46,76.65 763.82,76.67 764.17,76.68 764.53,76.7 764.88,76.71 765.24,76.73 765.59,76.74 765.95,76.75 766.31,76.77 766.66,76.78 767.02,76.79 767.37,76.8 767.73,76.81 768.08,76.82 768.44,76.82 768.8,76.83 769.15,76.84 769.51,76.85 769.86,76.85 770.22,76.86 770.57,76.86 770.93,76.87 771.29,76.87 771.64,76.88 772,76.88 772.35,76.89 772.71,76.89 773.07,76.9 773.42,76.9 773.78,76.9 774.13,76.91 774.49,76.91 774.84,76.91 775.2,76.91 775.56,76.92 775.91,76.92 776.27,76.92 776.62,76.92 776.98,76.93 777.33,76.93 777.69,76.93 778.05,76.93 778.4,76.94 778.76,76.94 779.11,76.94 779.47,76.94 779.82,76.94 780.18,76.94" fill="none" stroke="#f01526" stroke-width="2.2" stroke-linejoin="round"/>
<rect x="459.35" y="16.65" width="323.2" height="64.9" fill="none" stroke="#000" stroke-width="2.9" rx="2"/>
<text x="464.2" y="36" font-size="20" font-weight="normal" text-anchor="start" fill="#000">b)</text>
<text x="584" y="39.2" font-size="24">MAPbI<tspan font-size="15" dy="4.8">3</tspan></text>
<line x1="481.2" y1="361.1" x2="481.2" y2="365" stroke="#000" stroke-width="2.2"/>
<line x1="526.5" y1="361.1" x2="526.5" y2="367.8" stroke="#000" stroke-width="2.2"/>
<line x1="571.8" y1="361.1" x2="571.8" y2="365" stroke="#000" stroke-width="2.2"/>
<line x1="617.1" y1="361.1" x2="617.1" y2="367.8" stroke="#000" stroke-width="2.2"/>
<line x1="662.4" y1="361.1" x2="662.4" y2="365" stroke="#000" stroke-width="2.2"/>
<line x1="707.7" y1="361.1" x2="707.7" y2="367.8" stroke="#000" stroke-width="2.2"/>
<line x1="753" y1="361.1" x2="753" y2="365" stroke="#000" stroke-width="2.2"/>
<text x="526.5" y="391.4" font-size="23" font-weight="bold" text-anchor="middle" fill="#000" textLength="26" lengthAdjust="spacingAndGlyphs">40</text>
<text x="617.1" y="391.4" font-size="23" font-weight="bold" text-anchor="middle" fill="#000" textLength="26" lengthAdjust="spacingAndGlyphs">80</text>
<text x="707.7" y="391.4" font-size="23" font-weight="bold" text-anchor="middle" fill="#000" textLength="39" lengthAdjust="spacingAndGlyphs">120</text>
<text x="514" y="425.3" font-size="23" font-weight="bold" textLength="212" lengthAdjust="spacingAndGlyphs">Raman Shift (cm<tspan font-size="13" dy="-11">-1</tspan><tspan dy="11">)</tspan></text>
<rect x="787.6" y="98.4" width="11" height="248" fill="url(#cbA)" stroke="#b9a98a" stroke-width="1"/>
<text transform="translate(818.2 188) rotate(-90)" font-size="19.5" font-weight="bold" text-anchor="middle" fill="#000" textLength="136" lengthAdjust="spacingAndGlyphs">Intensity (a.u.)</text>
<text x="-2" y="489.4" font-size="46" font-weight="normal" text-anchor="start" fill="#000">b)</text>
<defs><clipPath id="clipPhoto"><rect x="62.6" y="461" width="365.9" height="255.8"/></clipPath>
<linearGradient id="flakeG" x1="0" y1="0" x2="1" y2="0"><stop offset="0" stop-color="#62f0b4"/><stop offset="1" stop-color="#5ae6bc"/></linearGradient>
<clipPath id="clipFlake"><polygon points="256.7,503.5 330.6,568 306,588 271,617 231,647 205,661.5 192.5,667.4 180,660 133.4,622.5 140,612 190,561"/></clipPath>
<linearGradient id="streak" x1="0" y1="0" x2="0.6" y2="1"><stop offset="0" stop-color="#40c8a0"/><stop offset="0.35" stop-color="#58e0a0"/><stop offset="0.55" stop-color="#f0a070"/><stop offset="0.75" stop-color="#d8e048"/><stop offset="1" stop-color="#90f050"/></linearGradient>
<filter id="soft" x="-5%" y="-5%" width="110%" height="110%"><feGaussianBlur stdDeviation="0.7"/></filter>
</defs>
<rect x="62.6" y="461" width="365.9" height="255.8" fill="#5b35c2" stroke="none" stroke-width="1"/>
<g clip-path="url(#clipPhoto)"><g filter="url(#soft)">
<polygon points="256.7,503.5 330.6,568 306,588 271,617 231,647 205,661.5 192.5,667.4 180,660 133.4,622.5 140,612 190,561" fill="#5cecb6" stroke="#0c0c40" stroke-width="3.2" stroke-linejoin="round"/>
<g clip-path="url(#clipFlake)">
<polygon points="120,621 135,619.3 155.4,616 180.9,616 206.3,614.2 219,610.4 236.9,604 257.2,597.7 272.5,592.6 287.8,590.5 303,589.5 340,588 340,700 120,700" fill="#52c6de" stroke="none" stroke-width="0" stroke-linejoin="round"/>
<polygon points="120,625 135,623 155.4,619.6 180.9,619 206.3,616.6 219,612.8 236.9,606.3 257.2,599.5 272.5,594.4 287.8,591.9 303,590.8 340,589.5 340,700 120,700" fill="#5a9ce0" stroke="none" stroke-width="0" stroke-linejoin="round"/>
<polygon points="120,630 137.6,626.7 155.4,623.6 180.9,622.3 206.3,619 221.6,614.7 236.9,608.9 257.2,601.2 272.5,596.1 287.8,593.1 305.6,591.8 340,590.5 340,700 120,700" fill="#9a9abc" stroke="none" stroke-width="0" stroke-linejoin="round"/>
<polygon points="178.18,666.18 216,654.55 242.18,642.91 242.18,654.55 195.64,672" fill="#8fb8b0" stroke="none" stroke-width="0" stroke-linejoin="round" opacity="0.8"/>
</g>
<polygon points="256.7,503.5 330.6,568 306,588 271,617 231,647 205,661.5 192.5,667.4 180,660 133.4,622.5 140,612 190,561" fill="none" stroke="#0c0c40" stroke-width="2.6" stroke-linejoin="round"/>
<polygon points="144.21,633.94 148.33,632.73 150.03,636.85 146.64,638.3" fill="#f0b090" stroke="none" stroke-width="0" stroke-linejoin="round"/>
<polygon points="145.91,641.7 150.76,640.73 152.45,644.85 147.61,646.06" fill="#50b8f8" stroke="none" stroke-width="0" stroke-linejoin="round"/>
<polygon points="376.82,618.18 386.52,613.33 397.42,642.42 384.09,646.06" fill="#4d92bd" stroke="#101060" stroke-width="2.2" stroke-linejoin="round"/>
<polygon points="271.45,646.79 279.94,641.36 286.72,648.15 278.24,654.93" fill="#3058f0" stroke="#3058f0" stroke-width="2.5" stroke-linejoin="round"/>
<polygon points="273.49,647.47 279.6,643.73 284.01,648.48 278.24,652.9" fill="#64f088" stroke="none" stroke-width="0" stroke-linejoin="round"/>
<polygon points="246,677.33 256.18,672.24 262.97,676.48 282.48,670.54 291.82,684.12 307.94,699.39 290.12,707.88 269.76,701.94 246,689.21 242.6,682.42" fill="#3e8ef8" stroke="#3050e8" stroke-width="2.2" stroke-linejoin="round"/>
<polygon points="201.03,709.57 215.45,700.24 240.91,714.66 247.7,719.76 201.88,719.76" fill="#3e8ef8" stroke="#3050e8" stroke-width="2.2" stroke-linejoin="round"/>
<polygon points="217.15,680.39 226.99,675.64 222.24,685.82" fill="#a6f048" stroke="#2848e0" stroke-width="3" stroke-linejoin="round" paint-order="stroke"/>
<polygon points="238.87,672.24 247.36,671.56 240.23,687.17 231.41,688.19" fill="#8cf070" stroke="#2848e0" stroke-width="3" stroke-linejoin="round" paint-order="stroke"/>
<polygon points="240.91,673.26 247.02,672.24 240.91,684.46" fill="#a6f048" stroke="none" stroke-width="0" stroke-linejoin="round"/>
<polygon points="223.26,688.53 239.55,690.23 242.6,695.66 225.3,693.96" fill="#a6f048" stroke="#2848e0" stroke-width="3" stroke-linejoin="round" paint-order="stroke"/>
<polygon points="188.3,704.48 199.84,690.23 203.58,692.27 194.07,711.95 188.3,713.99" fill="#a6f048" stroke="#2848e0" stroke-width="3" stroke-linejoin="round" paint-order="stroke"/>
<polygon points="162.83,684.8 168.6,685.82 177.43,697.7 173.02,701.43 164.53,691.59" fill="#a6f048" stroke="#2848e0" stroke-width="3" stroke-linejoin="round" paint-order="stroke"/>
<polygon points="147.56,641.36 152.99,642.04 151.97,645.43 146.88,645.09" fill="#50c8f8" stroke="none" stroke-width="0" stroke-linejoin="round"/>
<polygon points="62.18,663.73 87.27,670.93 96.54,672.45 96.54,673.76 82.36,679.22 62.18,680.31" fill="#2038d8" stroke="#2038d8" stroke-width="1.5" stroke-linejoin="round"/>
<polygon points="62.18,666.78 85.09,672.45 96,673.11 81.82,678.13 62.18,679" fill="url(#streak)" stroke="none" stroke-width="0" stroke-linejoin="round"/>
<polygon points="95.56,673.11 128.51,659.36 125.67,697.76" fill="#1c34d0" stroke="#1c34d0" stroke-width="2.4" stroke-linejoin="round"/>
<polygon points="97.63,673.76 115.85,671.58 106.25,679.22" fill="#5cf0b8" stroke="none" stroke-width="0" stroke-linejoin="round"/>
<polygon points="108.43,679.65 125.45,667.65 124.14,694.93" fill="#4ee8e6" stroke="none" stroke-width="0" stroke-linejoin="round"/>
<polygon points="119.45,667.22 127.42,661.33 126.32,665.91" fill="#a8f4f4" stroke="none" stroke-width="0" stroke-linejoin="round"/>
<polygon points="92.73,699.29 111.27,691 122.62,701.69 123.05,707.14 130.03,709.33 140.72,719.36 103.85,719.36 95.56,703.43" fill="#1c34d0" stroke="#1c34d0" stroke-width="2.2" stroke-linejoin="round"/>
<polygon points="95.13,699.94 111.05,692.53 121.31,702.34 121.74,708.02 129.38,710.42 138.54,719.36 105.16,719.36 97.09,703.43" fill="#9cf03a" stroke="none" stroke-width="0" stroke-linejoin="round"/>
<polygon points="121.09,709.54 129.38,710.42 138.54,719.36 121.09,719.36" fill="#66f094" stroke="none" stroke-width="0" stroke-linejoin="round"/>
<polygon points="63.27,701.91 74.18,698.2 89.24,719.36 63.27,719.36" fill="#2840e0" stroke="#2840e0" stroke-width="2" stroke-linejoin="round"/>
<polygon points="63.71,706.27 68.73,703 72,719.36 63.71,719.36" fill="#3484f4" stroke="none" stroke-width="0" stroke-linejoin="round"/>
<polygon points="68.95,703 75.05,700.82 87.27,719.36 71.35,719.36" fill="#b2f030" stroke="none" stroke-width="0" stroke-linejoin="round"/>
</g>
<line x1="236.4" y1="513.5" x2="236.4" y2="649" stroke="#fff" stroke-width="1.6" stroke-dasharray="4.5 2.2"/>
<line x1="166.5" y1="581.6" x2="312" y2="581.6" stroke="#fff" stroke-width="1.6" stroke-dasharray="4.5 2.2"/>
<line x1="263.2" y1="608.42" x2="209.25" y2="553.42" stroke="#fff" stroke-width="3.6"/>
<polygon points="200.5,544.5 213.71,549.75 205.5,557.81" fill="#fff"/>
<polygon points="272.3,617.7 267.3,604.39 259.09,612.45" fill="#fff"/>
<line x1="236.4" y1="581" x2="236.4" y2="554" stroke="#2a7ef0" stroke-width="3.2"/>
<polygon points="236.4,543.5 240.9,554.5 231.9,554.5" fill="#2a7ef0"/>
<line x1="237.5" y1="581.3" x2="206.7" y2="581.3" stroke="#e8101c" stroke-width="3.8"/>
<polygon points="196.2,581.3 207.2,576.55 207.2,586.05" fill="#e8101c"/>
</g>
<rect x="68.9" y="489.5" width="52.6" height="105" fill="none" stroke="#fff" stroke-width="1.6"/>
<text x="95.5" y="514.2" font-size="21.5" font-weight="bold" text-anchor="middle" fill="#fff" textLength="28" lengthAdjust="spacingAndGlyphs">VV</text>
<line x1="85.6" y1="582" x2="85.6" y2="534.2" stroke="#3fc2fb" stroke-width="3.4"/>
<polygon points="85.6,522.7 90.85,534.7 80.35,534.7" fill="#3fc2fb"/>
<line x1="100.4" y1="582" x2="100.4" y2="534.2" stroke="#3fc2fb" stroke-width="3.4"/>
<polygon points="100.4,522.7 105.65,534.7 95.15,534.7" fill="#3fc2fb"/>
<text x="75.7" y="482.7" font-size="25.5" font-weight="bold" text-anchor="start" fill="#fff">a</text>
<rect x="335.9" y="488.4" width="85.3" height="104.7" fill="none" stroke="#fbeefa" stroke-width="1.6"/>
<text x="380.7" y="525.3" font-size="21" font-weight="bold" text-anchor="middle" fill="#fff" textLength="28" lengthAdjust="spacingAndGlyphs">HV</text>
<line x1="409.2" y1="580.3" x2="409.2" y2="526.5" stroke="#3fc2fb" stroke-width="4.2"/>
<polygon points="409.2,515 415.95,527 402.45,527" fill="#3fc2fb"/>
<line x1="402.8" y1="578" x2="351.8" y2="578" stroke="#f00818" stroke-width="3.9"/>
<polygon points="342.3,578 352.3,573 352.3,583" fill="#f00818"/>
<polyline points="98.16,796.67 98.4,796.69 98.64,796.72 98.88,796.72 99.11,796.9 99.35,796.93 99.59,796.97 99.83,796.93 100.07,796.85 100.31,796.76 100.55,796.63 100.78,796.58 101.02,796.6 101.26,796.61 101.5,796.63 101.74,796.62 101.98,796.76 102.22,796.97 102.45,796.99 102.69,796.85 102.93,796.79 103.17,796.75 103.41,796.88 103.65,796.75 103.89,796.68 104.12,796.72 104.36,796.84 104.6,796.8 104.84,796.59 105.08,796.62 105.32,796.71 105.56,796.76 105.79,796.88 106.03,796.93 106.27,797.05 106.51,797.11 106.75,797.03 106.99,797.1 107.23,797 107.46,796.85 107.7,796.91 107.94,796.88 108.18,797 108.42,797.05 108.66,796.93 108.9,797.14 109.13,797.13 109.37,796.93 109.61,796.83 109.85,796.7 110.09,796.56 110.33,796.45 110.57,796.37 110.8,796.29 111.04,796.49 111.28,796.6 111.52,796.81 111.76,796.82 112,796.83 112.24,796.76 112.47,796.69 112.71,796.6 112.95,796.55 113.19,796.4 113.43,796.55 113.67,796.61 113.91,796.45 114.14,796.65 114.38,796.54 114.62,796.56 114.86,796.44 115.1,796.32 115.34,796.3 115.58,796.39 115.81,796.3 116.05,796.46 116.29,796.35 116.53,796.57 116.77,796.58 117.01,796.59 117.25,796.69 117.48,796.69 117.72,796.5 117.96,796.6 118.2,796.56 118.44,796.78 118.68,796.89 118.92,796.86 119.15,796.91 119.39,797.05 119.63,797.01 119.87,796.98 120.11,796.77 120.35,796.64 120.59,796.65 120.82,796.62 121.06,796.39 121.3,796.34 121.54,796.37 121.78,796.35 122.02,796.34 122.26,796.17 122.49,796.12 122.73,796.28 122.97,796.37 123.21,796.2 123.45,796.13 123.69,796.17 123.93,796.22 124.16,796.21 124.4,796.06 124.64,795.98 124.88,795.9 125.12,795.77 125.36,795.58 125.6,795.48 125.83,795.19 126.07,795.1 126.31,794.79 126.55,794.61 126.79,794.49 127.03,794.17 127.27,793.72 127.5,793.47 127.74,793.09 127.98,792.96 128.22,792.89 128.46,792.87 128.7,792.98 128.94,793.26 129.17,793.65 129.41,794 129.65,794.32 129.89,794.6 130.13,794.78 130.37,795.18 130.61,795.54 130.84,795.73 131.08,795.9 131.32,795.97 131.56,795.94 131.8,796.13 132.04,796.11 132.28,796.02 132.51,796.02 132.75,796.01 132.99,796.03 133.23,796.21 133.47,796.11 133.71,796.28 133.95,796.33 134.18,796.34 134.42,796.39 134.66,796.5 134.9,796.45 135.14,796.55 135.38,796.4 135.62,796.48 135.85,796.48 136.09,796.54 136.33,796.59 136.57,796.4 136.81,796.4 137.05,796.59 137.29,796.44 137.52,796.52 137.76,796.48 138,796.33 138.24,796.57 138.48,796.6 138.72,796.54 138.96,796.65 139.19,796.69 139.43,796.81 139.67,796.88 139.91,796.76 140.15,796.69 140.39,796.53 140.63,796.47 140.86,796.39 141.1,796.31 141.34,796.45 141.58,796.59 141.82,796.71 142.06,796.81 142.3,796.82 142.53,796.82 142.77,796.85 143.01,796.82 143.25,796.76 143.49,796.66 143.73,796.65 143.97,796.75 144.2,796.57 144.44,796.44 144.68,796.33 144.92,796.36 145.16,796.4 145.4,796.41 145.64,796.36 145.87,796.46 146.11,796.49 146.35,796.38 146.59,796.26 146.83,796.24 147.07,796.22 147.31,796.24 147.54,796.31 147.78,796.23 148.02,796.35 148.26,796.29 148.5,796.3 148.74,796.3 148.98,796.19 149.21,796.14 149.45,796.24 149.69,796.22 149.93,796.39 150.17,796.37 150.41,796.43 150.65,796.38 150.88,796.38 151.12,796.28 151.36,796.44 151.6,796.4 151.84,796.33 152.08,796.29 152.32,796.32 152.55,796.24 152.79,796.37 153.03,796.13 153.27,795.91 153.51,795.91 153.75,795.84 153.99,795.93 154.22,795.93 154.46,795.98 154.7,795.99 154.94,795.98 155.18,795.88 155.42,795.81 155.66,795.64 155.89,795.46 156.13,795.26 156.37,795.03 156.61,795.04 156.85,795.01 157.09,794.83 157.33,794.95 157.56,794.99 157.8,794.84 158.04,794.86 158.28,794.72 158.52,794.51 158.76,794.36 159,793.62 159.23,793.09 159.47,792.59 159.71,791.84 159.95,791.18 160.19,790.37 160.43,789.62 160.67,789.11 160.9,788.88 161.14,788.73 161.38,789.01 161.62,789.54 161.86,790.15 162.1,790.93 162.34,791.61 162.57,792.11 162.81,792.67 163.05,793.16 163.29,793.42 163.53,793.98 163.77,794.2 164.01,794.61 164.24,794.83 164.48,795.06 164.72,795.17 164.96,795.43 165.2,795.27 165.44,795.2 165.68,795.25 165.91,795.34 166.15,795.38 166.39,795.39 166.63,795.23 166.87,795.49 167.11,795.74 167.35,795.83 167.58,795.93 167.82,796.09 168.06,796.18 168.3,796.41 168.54,796.23 168.78,796.13 169.02,796.13 169.25,796.13 169.49,796.06 169.73,795.99 169.97,795.97 170.21,796.18 170.45,796.25 170.69,796.14 170.92,796.11 171.16,795.94 171.4,796.01 171.64,795.91 171.88,795.85 172.12,795.83 172.36,795.85 172.59,795.95 172.83,796.02 173.07,796.15 173.31,796.15 173.55,796.17 173.79,795.99 174.03,795.92 174.26,795.66 174.5,795.57 174.74,795.49 174.98,795.61 175.22,795.47 175.46,795.49 175.7,795.45 175.93,795.38 176.17,795.3 176.41,795.22 176.65,794.94 176.89,794.67 177.13,794.65 177.37,794.67 177.6,794.59 177.84,794.52 178.08,794.18 178.32,794.04 178.56,793.92 178.8,793.74 179.04,793.19 179.27,792.65 179.51,792.05 179.75,791.63 179.99,790.88 180.23,790.3 180.47,789.16 180.71,788.07 180.94,786.85 181.18,785.24 181.42,783.12 181.66,780.76 181.9,777.99 182.14,775.41 182.38,773.28 182.61,771.81 182.85,771.54 183.09,772.45 183.33,774.43 183.57,776.78 183.81,779.43 184.05,781.72 184.28,783.74 184.52,785.53 184.76,787.02 185,788.3 185.24,789.32 185.48,790.12 185.72,790.71 185.95,791.3 186.19,791.65 186.43,792.18 186.67,792.43 186.91,792.84 187.15,793.02 187.39,793.2 187.62,793.44 187.86,793.76 188.1,793.83 188.34,793.92 188.58,794.08 188.82,794.12 189.06,794.31 189.29,794.3 189.53,794.21 189.77,794.06 190.01,794.06 190.25,793.88 190.49,793.78 190.73,793.58 190.96,793.54 191.2,793.36 191.44,793.16 191.68,792.78 191.92,792.3 192.16,791.9 192.4,791.46 192.63,790.87 192.87,790.27 193.11,789.57 193.35,788.8 193.59,788.13 193.83,787.15 194.07,785.92 194.3,784.4 194.54,782.93 194.78,781.48 195.02,780.07 195.26,778.6 195.5,777.52 195.74,776.83 195.97,776.77 196.21,777.21 196.45,778.08 196.69,779.41 196.93,780.89 197.17,782.45 197.41,784.02 197.64,785.41 197.88,786.71 198.12,788.03 198.36,788.97 198.6,789.87 198.84,790.66 199.08,791.34 199.31,791.89 199.55,792.23 199.79,792.53 200.03,792.78 200.27,792.95 200.51,793.19 200.75,793.37 200.98,793.65 201.22,793.94 201.46,794.18 201.7,794.42 201.94,794.56 202.18,794.5 202.42,794.47 202.65,794.58 202.89,794.54 203.13,794.45 203.37,794.59 203.61,794.67 203.85,794.84 204.09,794.98 204.32,795.01 204.56,795.1 204.8,795.16 205.04,795.11 205.28,795.12 205.52,795.1 205.76,795.18 205.99,795.1 206.23,795.23 206.47,795.3 206.71,795.33 206.95,795.51 207.19,795.57 207.43,795.4 207.66,795.56 207.9,795.52 208.14,795.55 208.38,795.54 208.62,795.31 208.86,795.19 209.1,795.35 209.33,795.26 209.57,795.3 209.81,795.24 210.05,795.23 210.29,795.37 210.53,795.38 210.77,795.25 211,795.16 211.24,795.07 211.48,795.05 211.72,794.93 211.96,794.86 212.2,794.75 212.44,794.67 212.67,794.57 212.91,794.48 213.15,794.41 213.39,794.22 213.63,793.94 213.87,793.97 214.11,793.85 214.34,793.65 214.58,793.52 214.82,793.05 215.06,792.92 215.3,792.83 215.54,792.34 215.78,792.01 216.01,791.78 216.25,791.23 216.49,791.04 216.73,790.36 216.97,789.75 217.21,789.15 217.45,788.41 217.68,787.42 217.92,786.37 218.16,785.06 218.4,783.7 218.64,781.98 218.88,780.09 219.12,777.78 219.35,775.23 219.59,772.3 219.83,768.77 220.07,765.16 220.31,761.3 220.55,757.72 220.79,754.97 221.02,753.37 221.26,753.16 221.5,754.52 221.74,757.06 221.98,760.57 222.22,764.25 222.46,768.03 222.69,771.48 222.93,774.57 223.17,777.19 223.41,779.55 223.65,781.61 223.89,783.4 224.13,784.72 224.36,785.85 224.6,786.98 224.84,788.15 225.08,788.99 225.32,789.6 225.56,790.15 225.8,790.59 226.03,791.19 226.27,791.62 226.51,791.94 226.75,792.3 226.99,792.6 227.23,792.95 227.47,793.32 227.7,793.38 227.94,793.56 228.18,793.8 228.42,794.06 228.66,794.32 228.9,794.56 229.14,794.84 229.37,795 229.61,795.08 229.85,795.13 230.09,795.18 230.33,795.3 230.57,795.36 230.81,795.17 231.04,795.44 231.28,795.5 231.52,795.48 231.76,795.45 232,795.41 232.24,795.34 232.48,795.59 232.71,795.43 232.95,795.38 233.19,795.54 233.43,795.64 233.67,795.64 233.91,795.65 234.15,795.5 234.38,795.52 234.62,795.69 234.86,795.72 235.1,795.66 235.34,795.66 235.58,795.83 235.82,795.94 236.05,795.98 236.29,795.87 236.53,795.87 236.77,795.86 237.01,795.98 237.25,795.94 237.49,795.96 237.72,795.88 237.96,795.72 238.2,795.64 238.44,795.64 238.68,795.49 238.92,795.56 239.16,795.49 239.39,795.69 239.63,795.81 239.87,795.72 240.11,795.71 240.35,795.83 240.59,795.6 240.83,795.63 241.06,795.52 241.3,795.58 241.54,795.79 241.78,795.78 242.02,795.62 242.26,795.7 242.5,795.68 242.73,795.72 242.97,795.69 243.21,795.51 243.45,795.5 243.69,795.57 243.93,795.49 244.17,795.36 244.4,795.22 244.64,795.14 244.88,795 245.12,794.83 245.36,794.71 245.6,794.73 245.84,794.78 246.07,794.75 246.31,794.72 246.55,794.7 246.79,794.8 247.03,794.78 247.27,794.81 247.51,794.68 247.74,794.71 247.98,794.74 248.22,794.88 248.46,794.91 248.7,795.02 248.94,794.88 249.18,795 249.41,795.05 249.65,795.21 249.89,795.27 250.13,795.27 250.37,795.17 250.61,795.46 250.85,795.61 251.08,795.67 251.32,795.7 251.56,795.83 251.8,795.92 252.04,796.03 252.28,796.08 252.52,796.04 252.75,795.99 252.99,795.91 253.23,795.85 253.47,795.71 253.71,795.75 253.95,795.72 254.19,795.69 254.42,795.86 254.66,795.89 254.9,795.97 255.14,796.09 255.38,796.19 255.62,796.06 255.86,796.09 256.09,795.99 256.33,796.06 256.57,795.9 256.81,796.1 257.05,796.03 257.29,796.09 257.53,796.11 257.76,796.09 258,795.83 258.24,795.91 258.48,795.72 258.72,795.75 258.96,795.66 259.2,795.85 259.43,795.79 259.67,796.11 259.91,796.28 260.15,796.42 260.39,796.44 260.63,796.54 260.87,796.39 261.1,796.46 261.34,796.41 261.58,796.24 261.82,796.32 262.06,796.27 262.3,796.2 262.54,796.22 262.77,796.41 263.01,796.5 263.25,796.37 263.49,796.25 263.73,796.32 263.97,796.45 264.21,796.36 264.44,796.25 264.68,796.21 264.92,796.42 265.16,796.37 265.4,796.24 265.64,796.17 265.87,796.14 266.11,796.07 266.35,795.97 266.59,795.83 266.83,795.79 267.07,795.77 267.31,795.69 267.54,795.76 267.78,795.73 268.02,795.71 268.26,795.65 268.5,795.59 268.74,795.59 268.98,795.67 269.21,795.55 269.45,795.39 269.69,795.41 269.93,795.25 270.17,795.14 270.41,795.09 270.65,794.99 270.88,794.81 271.12,794.82 271.36,794.59 271.6,794.47 271.84,794.35 272.08,794.16 272.32,793.83 272.55,793.6 272.79,793.14 273.03,792.7 273.27,792.31 273.51,791.86 273.75,791.39 273.99,791.02 274.22,790.61 274.46,790.49 274.7,790.64 274.94,790.86 275.18,790.94 275.42,791.35 275.66,791.68 275.89,792.15 276.13,792.6 276.37,792.71 276.61,792.81 276.85,793.25 277.09,793.3 277.33,793.52 277.56,793.79 277.8,793.82 278.04,793.99 278.28,794.24 278.52,794.19 278.76,794.42 279,794.45 279.23,794.47 279.47,794.43 279.71,794.37 279.95,794.25 280.19,794.36 280.43,794.18 280.67,794.01 280.9,793.96 281.14,793.97 281.38,793.86 281.62,793.72 281.86,793.44 282.1,793.23 282.34,793.03 282.57,792.66 282.81,792.34 283.05,792.14 283.29,791.86 283.53,791.51 283.77,790.93 284.01,790.42 284.24,789.83 284.48,789.16 284.72,788.32 284.96,787.41 285.2,786.3 285.44,785.28 285.68,783.87 285.91,782.35 286.15,780.56 286.39,778.55 286.63,776.54 286.87,774.43 287.11,772.35 287.35,770.63 287.58,769.27 287.82,768.73 288.06,768.77 288.3,769.55 288.54,771.09 288.78,772.92 289.02,775.12 289.25,777.16 289.49,779.07 289.73,781.03 289.97,782.72 290.21,784.26 290.45,785.8 290.69,786.75 290.92,787.89 291.16,788.86 291.4,789.57 291.64,790.29 291.88,790.82 292.12,791.23 292.36,791.81 292.59,792.26 292.83,792.62 293.07,792.97 293.31,793.16 293.55,793.61 293.79,793.97 294.03,794.14 294.26,794.27 294.5,794.42 294.74,794.6 294.98,794.92 295.22,794.75 295.46,794.72 295.7,794.81 295.93,794.89 296.17,794.89 296.41,795.07 296.65,795.06 296.89,795.16 297.13,795.23 297.37,795.42 297.6,795.4 297.84,795.43 298.08,795.36 298.32,795.36 298.56,795.44 298.8,795.52 299.04,795.54 299.27,795.67 299.51,795.78 299.75,795.96 299.99,795.87 300.23,796.04 300.47,796.1 300.71,796.1 300.94,796.04 301.18,796.1 301.42,796.1 301.66,796.31 301.9,796.27 302.14,796.33 302.38,796.22 302.61,796.29 302.85,796.22 303.09,796.26 303.33,796.03 303.57,796.06 303.81,796.13 304.05,796.24 304.28,796.28 304.52,796.31 304.76,796.35 305,796.5 305.24,796.32 305.48,796.24 305.72,796.29 305.95,796.43 306.19,796.47 306.43,796.35 306.67,796.34 306.91,796.42 307.15,796.26 307.39,796.21 307.62,796.02 307.86,796.12 308.1,796.24 308.34,796.29 308.58,796.41 308.82,796.48 309.06,796.4 309.29,796.44 309.53,796.43 309.77,796.44 310.01,796.36 310.25,796.36 310.49,796.4 310.73,796.53 310.96,796.56 311.2,796.43 311.44,796.42 311.68,796.62 311.92,796.47 312.16,796.46 312.4,796.39 312.63,796.4 312.87,796.43 313.11,796.3 313.35,796.11 313.59,796.24 313.83,796.28 314.07,796.31 314.3,796.29 314.54,796.31 314.78,796.46 315.02,796.73 315.26,796.68 315.5,796.6 315.74,796.58 315.97,796.48 316.21,796.46 316.45,796.44 316.69,796.21 316.93,796.25 317.17,796.22 317.41,796.25 317.64,796.34 317.88,796.39 318.12,796.36 318.36,796.54 318.6,796.53 318.84,796.79 319.08,796.77 319.31,796.73 319.55,796.6 319.79,796.58 320.03,796.53 320.27,796.65 320.51,796.35 320.75,796.49 320.98,796.49 321.22,796.81 321.46,796.84 321.7,796.74 321.94,796.61 322.18,796.75 322.42,796.71 322.65,796.84 322.89,796.6 323.13,796.57 323.37,796.63 323.61,796.64 323.85,796.71 324.09,796.58 324.32,796.42 324.56,796.55 324.8,796.58 325.04,796.49 325.28,796.55 325.52,796.34 325.76,796.31 325.99,796.42 326.23,796.29 326.47,796.18 326.71,796.35 326.95,796.26 327.19,796.42 327.43,796.54 327.66,796.47 327.9,796.58 328.14,796.8 328.38,796.81 328.62,796.86 328.86,796.81 329.1,796.79 329.33,796.86 329.57,796.82 329.81,796.63 330.05,796.49 330.29,796.55 330.53,796.61 330.77,796.52 331,796.56 331.24,796.58 331.48,796.68 331.72,796.79 331.96,796.68 332.2,796.81 332.44,796.8 332.67,796.79 332.91,796.85 333.15,796.83 333.39,796.88 333.63,796.9 333.87,796.69 334.11,796.84 334.34,796.83 334.58,796.68 334.82,796.75 335.06,796.62 335.3,796.64 335.54,796.58 335.78,796.57 336.01,796.54 336.25,796.53 336.49,796.67 336.73,796.69 336.97,796.85 337.21,797.1 337.45,796.92 337.68,796.91 337.92,796.88 338.16,796.72 338.4,796.66 338.64,796.55 338.88,796.46 339.12,796.61 339.35,796.62 339.59,796.61 339.83,796.61 340.07,796.62 340.31,796.61 340.55,796.56 340.79,796.65 341.02,796.58 341.26,796.73 341.5,796.71 341.74,796.76 341.98,796.67 342.22,796.64 342.46,796.54 342.69,796.61 342.93,796.55 343.17,796.5 343.41,796.45 343.65,796.43 343.89,796.35 344.13,796.3 344.36,796.41 344.6,796.31 344.84,796.21 345.08,796.27 345.32,796.4 345.56,796.66 345.8,796.65 346.03,796.63 346.27,796.62 346.51,796.96 346.75,796.92 346.99,796.85 347.23,796.73 347.47,796.84 347.7,796.75 347.94,796.92 348.18,796.77 348.42,796.78 348.66,796.86 348.9,796.85 349.14,796.74 349.37,796.79 349.61,796.74 349.85,796.77 350.09,796.7 350.33,796.75 350.57,796.66 350.81,796.94 351.04,796.98 351.28,797.1 351.52,796.98 351.76,797.02 352,797.02 352.24,797.14 352.48,796.82 352.71,796.76 352.95,796.61 353.19,796.79 353.43,796.92 353.67,796.78 353.91,796.58 354.15,796.71 354.38,796.67 354.62,796.78 354.86,796.58 355.1,796.51 355.34,796.58 355.58,796.88 355.82,796.87 356.05,796.9 356.29,796.74 356.53,796.91 356.77,796.81 357.01,796.8 357.25,796.69 357.49,796.73 357.72,796.86 357.96,797.05 358.2,796.85 358.44,797.01 358.68,797.01 358.92,796.91 359.16,797 359.39,796.85 359.63,796.8 359.87,796.9 360.11,796.75 360.35,796.73 360.59,796.83 360.83,796.62 361.06,796.61 361.3,796.63 361.54,796.65 361.78,796.81 362.02,796.71 362.26,796.78 362.5,796.82 362.73,796.74 362.97,796.63 363.21,796.64 363.45,796.59 363.69,796.73 363.93,796.58 364.17,796.56 364.4,796.69 364.64,796.56 364.88,796.6 365.12,796.58 365.36,796.56 365.6,796.61 365.84,796.61 366.07,796.63 366.31,796.76 366.55,796.66 366.79,796.65 367.03,796.8 367.27,796.76 367.51,796.85 367.74,796.88 367.98,796.94 368.22,797.07 368.46,797.11 368.7,796.93 368.94,797.01 369.18,796.92 369.41,796.94 369.65,796.95 369.89,796.94 370.13,796.9 370.37,796.89 370.61,796.88 370.85,797.01 371.08,796.96 371.32,796.93 371.56,796.77 371.8,796.76 372.04,796.81 372.28,796.87 372.52,796.62 372.75,796.68 372.99,796.77 373.23,796.86 373.47,796.99 373.71,796.88 373.95,796.78 374.19,796.89 374.42,796.89 374.66,796.84 374.9,796.77 375.14,796.57 375.38,796.44 375.62,796.38 375.86,796.55 376.09,796.47 376.33,796.45 376.57,796.44 376.81,796.51 377.05,796.67 377.29,796.77 377.53,796.59 377.76,796.49 378,796.5 378.24,796.73 378.48,796.79 378.72,796.71 378.96,796.67 379.2,796.74 379.43,796.91 379.67,796.79 379.91,796.62 380.15,796.55 380.39,796.7 380.63,796.72 380.87,796.72 381.1,796.61 381.34,796.59 381.58,796.75 381.82,796.84 382.06,796.81 382.3,796.79 382.54,796.87 382.77,796.96 383.01,797.08 383.25,796.96 383.49,796.89 383.73,796.88 383.97,796.82 384.21,796.65 384.44,796.56 384.68,796.51 384.92,796.52 385.16,796.52 385.4,796.46 385.64,796.51 385.88,796.5 386.11,796.52 386.35,796.53 386.59,796.44 386.83,796.51 387.07,796.56 387.31,796.61 387.55,796.6 387.78,796.66 388.02,796.64 388.26,796.7 388.5,796.54 388.74,796.47 388.98,796.44 389.22,796.49 389.45,796.42 389.69,796.37 389.93,796.36 390.17,796.38 390.41,796.46 390.65,796.5 390.89,796.49 391.12,796.47 391.36,796.58 391.6,796.43 391.84,796.49 392.08,796.4 392.32,796.3 392.56,796.43 392.79,796.46 393.03,796.51 393.27,796.63 393.51,796.53 393.75,796.45 393.99,796.42 394.23,796.41 394.46,796.43 394.7,796.21 394.94,796.2 395.18,796.12 395.42,796.31 395.66,796.41 395.9,796.41 396.13,796.42 396.37,796.44 396.61,796.53 396.85,796.6 397.09,796.52 397.33,796.43 397.57,796.36 397.8,796.34 398.04,796.29 398.28,796.32 398.52,796.33 398.76,796.26 399,796.29 399.24,796.16 399.47,796.39 399.71,796.57 399.95,796.57 400.19,796.66 400.43,796.79 400.67,796.79 400.91,796.98 401.14,796.71 401.38,796.81 401.62,796.66 401.86,796.65 402.1,796.78 402.34,796.95 402.58,797.02 402.81,797.16 403.05,797.05 403.29,797.03 403.53,796.96 403.77,796.93 404.01,796.97 404.25,796.87 404.48,796.91 404.72,796.93 404.96,797.08 405.2,796.96 405.44,796.99 405.68,796.8 405.92,796.65 406.15,796.58 406.39,796.63 406.63,796.46 406.87,796.8 407.11,796.81 407.35,796.92 407.59,797.03 407.82,796.95 408.06,796.9 408.3,796.87 408.54,796.73 408.78,796.61 409.02,796.54 409.26,796.48 409.49,796.54 409.73,796.56 409.97,796.6 410.21,796.49 410.45,796.41 410.69,796.48 410.93,796.65 411.16,796.67 411.4,796.66 411.64,796.81 411.88,796.92 412.12,796.94 412.36,796.92 412.6,796.83 412.83,796.84 413.07,796.86 413.31,796.84 413.55,796.77 413.79,796.8 414.03,796.78 414.27,796.78 414.5,796.74 414.74,796.67 414.98,796.67 415.22,796.65 415.46,796.64 415.7,796.67 415.94,796.78 416.17,796.89 416.41,796.89 416.65,796.92 416.89,797.02 417.13,797.05 417.37,796.88 417.61,796.63 417.84,796.53 418.08,796.42 418.32,796.33 418.56,796.21 418.8,796.23 419.04,796.41 419.28,796.53 419.51,796.43 419.75,796.68 419.99,796.73 420.23,796.8 420.47,796.74 420.71,796.72 420.95,796.8 421.18,796.83 421.42,796.58 421.66,796.57 421.9,796.52 422.14,796.55 422.38,796.44 422.62,796.43 422.85,796.51 423.09,796.68 423.33,796.68 423.57,796.68 423.81,796.67 424.05,796.66 424.29,796.68 424.52,796.61 424.76,796.8 425,796.91 425.24,797.01 425.48,797.16 425.72,797.16 425.96,797.1 426.19,797.22 426.43,796.99 426.67,796.99 426.91,797.04 427.15,796.93 427.39,797.09 427.63,797.03 427.86,797.01 428.1,796.94 428.34,796.85 428.58,796.76 428.82,796.8 429.06,796.7 429.3,796.81 429.53,796.74 429.77,796.72 430.01,796.75 430.25,796.78 430.49,796.69 430.73,796.61 430.97,796.58 431.2,796.63 431.44,796.73 431.68,796.69 431.92,796.68" fill="none" stroke="#2038ec" stroke-width="2.3" stroke-linejoin="round"/>
<polyline points="98.16,851.41 98.4,851.43 98.64,851.38 98.88,851.38 99.11,851.38 99.35,851.33 99.59,851.3 99.83,851.2 100.07,851.13 100.31,851.22 100.55,851.2 100.78,851.13 101.02,851.18 101.26,851.35 101.5,851.4 101.74,851.42 101.98,851.36 102.22,851.39 102.45,851.42 102.69,851.55 102.93,851.54 103.17,851.75 103.41,851.79 103.65,851.71 103.89,851.56 104.12,851.64 104.36,851.47 104.6,851.27 104.84,851.08 105.08,851.2 105.32,851.22 105.56,851.37 105.79,851.31 106.03,851.24 106.27,851.3 106.51,851.21 106.75,850.95 106.99,851.07 107.23,851.11 107.46,851.03 107.7,851.15 107.94,851.13 108.18,851.16 108.42,851.33 108.66,851.31 108.9,851.26 109.13,851.34 109.37,851.34 109.61,851.37 109.85,851.38 110.09,851.41 110.33,851.37 110.57,851.45 110.8,851.27 111.04,851.32 111.28,851.35 111.52,851.27 111.76,851.19 112,851.33 112.24,851.33 112.47,851.47 112.71,851.38 112.95,851.32 113.19,851.39 113.43,851.41 113.67,851.29 113.91,851.08 114.14,851.16 114.38,850.93 114.62,851.02 114.86,850.95 115.1,850.78 115.34,850.75 115.58,850.83 115.81,850.72 116.05,850.88 116.29,851.04 116.53,851.1 116.77,851.27 117.01,851.38 117.25,851.4 117.48,851.43 117.72,851.5 117.96,851.35 118.2,851.3 118.44,851.42 118.68,851.44 118.92,851.54 119.15,851.55 119.39,851.62 119.63,851.54 119.87,851.68 120.11,851.44 120.35,851.32 120.59,851.27 120.82,851.4 121.06,851.45 121.3,851.6 121.54,851.46 121.78,851.5 122.02,851.64 122.26,851.47 122.49,851.37 122.73,851.44 122.97,851.25 123.21,851.25 123.45,851.3 123.69,851.28 123.93,851.32 124.16,851.34 124.4,851.18 124.64,851.22 124.88,851.29 125.12,851.33 125.36,851.34 125.6,851.37 125.83,851.5 126.07,851.47 126.31,851.48 126.55,851.47 126.79,851.46 127.03,851.37 127.27,851.37 127.5,851.28 127.74,851.3 127.98,851.3 128.22,851.42 128.46,851.47 128.7,851.37 128.94,851.35 129.17,851.33 129.41,851.28 129.65,851.28 129.89,851.09 130.13,850.93 130.37,851.22 130.61,851.32 130.84,851.17 131.08,851.1 131.32,851.17 131.56,851.36 131.8,851.43 132.04,851.3 132.28,851.28 132.51,851.46 132.75,851.53 132.99,851.44 133.23,851.32 133.47,851.42 133.71,851.49 133.95,851.58 134.18,851.46 134.42,851.65 134.66,851.64 134.9,851.55 135.14,851.51 135.38,851.4 135.62,851.24 135.85,851.21 136.09,851.13 136.33,851.19 136.57,851.3 136.81,851.28 137.05,851.22 137.29,851.27 137.52,851.24 137.76,851.32 138,851.22 138.24,851.17 138.48,851.16 138.72,851.17 138.96,851.13 139.19,851.2 139.43,851.09 139.67,851.16 139.91,851.27 140.15,851.35 140.39,851.44 140.63,851.57 140.86,851.58 141.1,851.5 141.34,851.5 141.58,851.35 141.82,851.26 142.06,851.24 142.3,851.24 142.53,851.32 142.77,851.4 143.01,851.32 143.25,851.53 143.49,851.48 143.73,851.43 143.97,851.32 144.2,851.29 144.44,851.21 144.68,851.35 144.92,851.2 145.16,851.37 145.4,851.34 145.64,851.34 145.87,851.42 146.11,851.41 146.35,851.46 146.59,851.43 146.83,851.29 147.07,851.27 147.31,851.3 147.54,851.27 147.78,851.22 148.02,851.05 148.26,851.19 148.5,851.15 148.74,851.16 148.98,851.24 149.21,851.23 149.45,851.24 149.69,851.36 149.93,851.22 150.17,851.12 150.41,851.12 150.65,851.14 150.88,850.99 151.12,851.18 151.36,851.22 151.6,851.07 151.84,851.26 152.08,851.27 152.32,851.28 152.55,851.36 152.79,851.25 153.03,851.38 153.27,851.63 153.51,851.53 153.75,851.49 153.99,851.39 154.22,851.45 154.46,851.44 154.7,851.28 154.94,851.29 155.18,851.34 155.42,851.24 155.66,851.33 155.89,851.18 156.13,851.19 156.37,851.27 156.61,851.28 156.85,851.29 157.09,851.49 157.33,851.4 157.56,851.55 157.8,851.64 158.04,851.46 158.28,851.4 158.52,851.45 158.76,851.41 159,851.3 159.23,851.27 159.47,851.31 159.71,851.31 159.95,851.17 160.19,851.02 160.43,851.11 160.67,851.39 160.9,851.26 161.14,851.17 161.38,851.2 161.62,851.35 161.86,851.32 162.1,851.22 162.34,851.1 162.57,851.18 162.81,851.26 163.05,851.28 163.29,851.27 163.53,851.55 163.77,851.64 164.01,851.71 164.24,851.83 164.48,851.72 164.72,851.65 164.96,851.62 165.2,851.58 165.44,851.62 165.68,851.48 165.91,851.39 166.15,851.42 166.39,851.6 166.63,851.77 166.87,851.5 167.11,851.42 167.35,851.49 167.58,851.55 167.82,851.43 168.06,851.36 168.3,851.23 168.54,851.39 168.78,851.34 169.02,851.23 169.25,851.28 169.49,851.34 169.73,851.36 169.97,851.38 170.21,851.43 170.45,851.39 170.69,851.59 170.92,851.5 171.16,851.5 171.4,851.5 171.64,851.5 171.88,851.43 172.12,851.45 172.36,851.38 172.59,851.34 172.83,851.44 173.07,851.34 173.31,851.38 173.55,851.52 173.79,851.5 174.03,851.57 174.26,851.64 174.5,851.59 174.74,851.59 174.98,851.55 175.22,851.46 175.46,851.52 175.7,851.4 175.93,851.36 176.17,851.32 176.41,851.27 176.65,851.25 176.89,851.24 177.13,851.27 177.37,851.34 177.6,851.38 177.84,851.47 178.08,851.6 178.32,851.55 178.56,851.47 178.8,851.42 179.04,851.32 179.27,851.3 179.51,851.04 179.75,850.79 179.99,850.79 180.23,850.74 180.47,850.65 180.71,850.55 180.94,850.43 181.18,850.6 181.42,850.62 181.66,850.58 181.9,850.48 182.14,850.44 182.38,850.45 182.61,850.28 182.85,850.04 183.09,850.15 183.33,850.18 183.57,850.29 183.81,850.37 184.05,850.56 184.28,850.74 184.52,851.1 184.76,851.14 185,851.22 185.24,851.28 185.48,851.4 185.72,851.37 185.95,851.36 186.19,851.13 186.43,851.13 186.67,851.09 186.91,851.2 187.15,851.07 187.39,851.02 187.62,851.1 187.86,851.11 188.1,851.24 188.34,851.15 188.58,851.12 188.82,851.22 189.06,851.24 189.29,851.32 189.53,851.45 189.77,851.4 190.01,851.65 190.25,851.66 190.49,851.72 190.73,851.75 190.96,851.57 191.2,851.57 191.44,851.6 191.68,851.46 191.92,851.48 192.16,851.37 192.4,851.37 192.63,851.5 192.87,851.6 193.11,851.63 193.35,851.57 193.59,851.41 193.83,851.45 194.07,851.41 194.3,851.39 194.54,851.35 194.78,851.43 195.02,851.38 195.26,851.54 195.5,851.51 195.74,851.4 195.97,851.4 196.21,851.33 196.45,851.18 196.69,851.33 196.93,851.24 197.17,851.27 197.41,851.3 197.64,851.24 197.88,851.31 198.12,851.43 198.36,851.44 198.6,851.51 198.84,851.53 199.08,851.55 199.31,851.63 199.55,851.58 199.79,851.47 200.03,851.57 200.27,851.49 200.51,851.4 200.75,851.36 200.98,851.38 201.22,851.38 201.46,851.37 201.7,851.25 201.94,851.39 202.18,851.36 202.42,851.48 202.65,851.39 202.89,851.43 203.13,851.37 203.37,851.37 203.61,851.32 203.85,851.33 204.09,851.22 204.32,851.32 204.56,851.17 204.8,851.12 205.04,851.07 205.28,851.12 205.52,851.13 205.76,851.14 205.99,851.14 206.23,851.09 206.47,851.22 206.71,851.25 206.95,851.06 207.19,851.09 207.43,851.07 207.66,851 207.9,851.09 208.14,851.07 208.38,851.04 208.62,851.08 208.86,851.06 209.1,851.16 209.33,851.09 209.57,851.13 209.81,851.04 210.05,851.01 210.29,851.05 210.53,851.14 210.77,851.11 211,851.07 211.24,851.05 211.48,851.06 211.72,851.11 211.96,851.12 212.2,851.11 212.44,851.25 212.67,851.32 212.91,851.32 213.15,851.39 213.39,851.32 213.63,851.36 213.87,851.18 214.11,851.14 214.34,851.13 214.58,851.21 214.82,851.21 215.06,851.17 215.3,851.19 215.54,851.28 215.78,851.15 216.01,851.13 216.25,851 216.49,850.9 216.73,850.91 216.97,850.74 217.21,850.65 217.45,850.57 217.68,850.53 217.92,850.58 218.16,850.51 218.4,850.49 218.64,850.31 218.88,850.3 219.12,850.31 219.35,850.07 219.59,849.87 219.83,849.85 220.07,849.54 220.31,849.54 220.55,849.19 220.79,848.98 221.02,848.87 221.26,848.71 221.5,848.72 221.74,848.88 221.98,848.95 222.22,849.22 222.46,849.33 222.69,849.46 222.93,849.71 223.17,849.78 223.41,849.79 223.65,849.86 223.89,849.95 224.13,850.21 224.36,850.52 224.6,850.63 224.84,850.71 225.08,850.89 225.32,850.8 225.56,850.99 225.8,850.95 226.03,850.84 226.27,850.82 226.51,850.75 226.75,850.83 226.99,851.12 227.23,850.9 227.47,850.86 227.7,851 227.94,851.06 228.18,851.16 228.42,851.26 228.66,851.15 228.9,851.3 229.14,851.37 229.37,851.34 229.61,851.21 229.85,851.22 230.09,851.17 230.33,851.38 230.57,851.48 230.81,851.41 231.04,851.26 231.28,851.47 231.52,851.61 231.76,851.56 232,851.42 232.24,851.29 232.48,851.39 232.71,851.49 232.95,851.55 233.19,851.49 233.43,851.54 233.67,851.57 233.91,851.59 234.15,851.46 234.38,851.57 234.62,851.32 234.86,851.28 235.1,851.28 235.34,851.17 235.58,851.38 235.82,851.57 236.05,851.53 236.29,851.65 236.53,851.52 236.77,851.41 237.01,851.55 237.25,851.33 237.49,851.25 237.72,851.09 237.96,851.11 238.2,851.12 238.44,851.27 238.68,851.15 238.92,851.3 239.16,851.26 239.39,851.49 239.63,851.48 239.87,851.61 240.11,851.61 240.35,851.65 240.59,851.49 240.83,851.49 241.06,851.35 241.3,851.29 241.54,851.15 241.78,851 242.02,850.99 242.26,850.9 242.5,850.95 242.73,850.91 242.97,851.05 243.21,850.97 243.45,851.06 243.69,851.08 243.93,851.12 244.17,851.1 244.4,851.22 244.64,851.27 244.88,851.46 245.12,851.3 245.36,851.3 245.6,851.27 245.84,851.2 246.07,851.17 246.31,851.14 246.55,851.13 246.79,851.24 247.03,851.27 247.27,851.38 247.51,851.4 247.74,851.39 247.98,851.4 248.22,851.41 248.46,851.41 248.7,851.46 248.94,851.55 249.18,851.66 249.41,851.65 249.65,851.56 249.89,851.54 250.13,851.68 250.37,851.62 250.61,851.59 250.85,851.58 251.08,851.7 251.32,851.77 251.56,851.81 251.8,851.71 252.04,851.69 252.28,851.64 252.52,851.55 252.75,851.5 252.99,851.37 253.23,851.26 253.47,851.22 253.71,851.29 253.95,851.3 254.19,851.35 254.42,851.36 254.66,851.44 254.9,851.61 255.14,851.79 255.38,851.71 255.62,851.67 255.86,851.57 256.09,851.51 256.33,851.48 256.57,851.33 256.81,851.23 257.05,851.42 257.29,851.29 257.53,851.26 257.76,851.14 258,851.14 258.24,851.23 258.48,851.2 258.72,851.03 258.96,851.29 259.2,851.41 259.43,851.46 259.67,851.35 259.91,851.25 260.15,851.28 260.39,851.4 260.63,851.15 260.87,851.11 261.1,851.09 261.34,851.19 261.58,851.33 261.82,851.15 262.06,851.01 262.3,851.06 262.54,851.13 262.77,851.18 263.01,851.09 263.25,851.02 263.49,851.23 263.73,851.35 263.97,851.54 264.21,851.42 264.44,851.43 264.68,851.65 264.92,851.52 265.16,851.37 265.4,851.21 265.64,851.24 265.87,851.3 266.11,851.2 266.35,851.14 266.59,851.31 266.83,851.42 267.07,851.65 267.31,851.5 267.54,851.43 267.78,851.48 268.02,851.3 268.26,851.23 268.5,851.22 268.74,851.08 268.98,851.15 269.21,851.3 269.45,851.4 269.69,851.51 269.93,851.56 270.17,851.55 270.41,851.53 270.65,851.43 270.88,851.39 271.12,851.49 271.36,851.55 271.6,851.37 271.84,851.32 272.08,851.36 272.32,851.42 272.55,851.39 272.79,851.27 273.03,851.19 273.27,851.27 273.51,851.24 273.75,851.23 273.99,851.24 274.22,851.26 274.46,851.22 274.7,851.16 274.94,851.26 275.18,851.19 275.42,851.12 275.66,851.02 275.89,851.05 276.13,851.08 276.37,851.19 276.61,851.14 276.85,851.44 277.09,851.44 277.33,851.64 277.56,851.55 277.8,851.44 278.04,851.4 278.28,851.42 278.52,851.28 278.76,851.33 279,851.18 279.23,851.14 279.47,851.16 279.71,851.04 279.95,851.01 280.19,851.03 280.43,851.04 280.67,851.14 280.9,851.23 281.14,851.31 281.38,851.27 281.62,851.23 281.86,851.05 282.1,851.15 282.34,851.02 282.57,850.9 282.81,850.82 283.05,850.96 283.29,850.97 283.53,851.07 283.77,850.9 284.01,850.87 284.24,850.84 284.48,850.81 284.72,850.71 284.96,850.67 285.2,850.59 285.44,850.58 285.68,850.48 285.91,850.48 286.15,850.33 286.39,850.28 286.63,850.15 286.87,850.07 287.11,849.96 287.35,849.81 287.58,849.67 287.82,849.68 288.06,849.56 288.3,849.63 288.54,849.71 288.78,849.67 289.02,849.7 289.25,849.85 289.49,849.86 289.73,850.05 289.97,850.19 290.21,850.24 290.45,850.3 290.69,850.53 290.92,850.56 291.16,850.8 291.4,851.02 291.64,850.98 291.88,851.16 292.12,851.28 292.36,851.37 292.59,851.42 292.83,851.31 293.07,851.29 293.31,851.34 293.55,851.27 293.79,851.18 294.03,851.15 294.26,851.23 294.5,851.34 294.74,851.11 294.98,851.17 295.22,851.16 295.46,851.24 295.7,851.34 295.93,851.34 296.17,851.45 296.41,851.65 296.65,851.54 296.89,851.53 297.13,851.69 297.37,851.51 297.6,851.55 297.84,851.48 298.08,851.3 298.32,851.31 298.56,851.34 298.8,851.1 299.04,851.21 299.27,851.09 299.51,851.06 299.75,851.19 299.99,851.23 300.23,851.14 300.47,851.3 300.71,851.31 300.94,851.49 301.18,851.57 301.42,851.51 301.66,851.54 301.9,851.64 302.14,851.56 302.38,851.57 302.61,851.41 302.85,851.31 303.09,851.5 303.33,851.43 303.57,851.3 303.81,851.26 304.05,851.24 304.28,851.23 304.52,851.18 304.76,850.93 305,850.89 305.24,851.02 305.48,851.12 305.72,851.14 305.95,851.2 306.19,851.27 306.43,851.39 306.67,851.65 306.91,851.6 307.15,851.63 307.39,851.7 307.62,851.68 307.86,851.69 308.1,851.6 308.34,851.51 308.58,851.53 308.82,851.47 309.06,851.45 309.29,851.52 309.53,851.44 309.77,851.56 310.01,851.55 310.25,851.65 310.49,851.64 310.73,851.47 310.96,851.42 311.2,851.41 311.44,851.3 311.68,851.16 311.92,851.1 312.16,851.11 312.4,851.16 312.63,850.94 312.87,850.96 313.11,850.97 313.35,850.98 313.59,850.89 313.83,850.99 314.07,851.02 314.3,851.09 314.54,851.12 314.78,851.18 315.02,851.29 315.26,851.31 315.5,851.22 315.74,851.19 315.97,851.32 316.21,851.32 316.45,851.38 316.69,851.3 316.93,851.31 317.17,851.18 317.41,851.27 317.64,851.19 317.88,851.2 318.12,851.19 318.36,851.14 318.6,851.12 318.84,851.24 319.08,851.29 319.31,851.16 319.55,850.97 319.79,850.99 320.03,851.16 320.27,851.24 320.51,851.26 320.75,851.23 320.98,851.39 321.22,851.58 321.46,851.34 321.7,851.26 321.94,851.25 322.18,851.12 322.42,851.03 322.65,851.05 322.89,851.01 323.13,851.16 323.37,851.18 323.61,851.14 323.85,851.32 324.09,851.43 324.32,851.46 324.56,851.44 324.8,851.37 325.04,851.32 325.28,851.36 325.52,851.31 325.76,851.17 325.99,851.31 326.23,851.35 326.47,851.61 326.71,851.75 326.95,851.78 327.19,851.79 327.43,851.83 327.66,851.67 327.9,851.55 328.14,851.36 328.38,851.21 328.62,851.19 328.86,851.04 329.1,850.95 329.33,851 329.57,851.13 329.81,851.11 330.05,851.07 330.29,851.06 330.53,851.12 330.77,851.29 331,851.26 331.24,851.15 331.48,851.24 331.72,851.3 331.96,851.28 332.2,851.38 332.44,851.42 332.67,851.44 332.91,851.49 333.15,851.44 333.39,851.4 333.63,851.33 333.87,851.33 334.11,851.22 334.34,851.08 334.58,851.03 334.82,851.04 335.06,851.1 335.3,851.09 335.54,850.99 335.78,850.98 336.01,851.07 336.25,851.13 336.49,851.13 336.73,850.98 336.97,851.15 337.21,851.17 337.45,851.23 337.68,851.31 337.92,851.26 338.16,851.35 338.4,851.54 338.64,851.53 338.88,851.63 339.12,851.54 339.35,851.41 339.59,851.51 339.83,851.36 340.07,851.37 340.31,851.15 340.55,851.14 340.79,851.19 341.02,851.26 341.26,851.21 341.5,851.29 341.74,851.32 341.98,851.42 342.22,851.34 342.46,851.33 342.69,851.44 342.93,851.43 343.17,851.34 343.41,851.34 343.65,851.48 343.89,851.53 344.13,851.56 344.36,851.5 344.6,851.53 344.84,851.55 345.08,851.37 345.32,851.23 345.56,851.17 345.8,851.15 346.03,851.3 346.27,851.27 346.51,851.29 346.75,851.32 346.99,851.43 347.23,851.36 347.47,851.43 347.7,851.21 347.94,851.19 348.18,851.15 348.42,851.08 348.66,851 348.9,851.11 349.14,851.01 349.37,851.02 349.61,851.03 349.85,851.04 350.09,851.22 350.33,851.36 350.57,851.38 350.81,851.32 351.04,851.48 351.28,851.58 351.52,851.66 351.76,851.56 352,851.43 352.24,851.36 352.48,851.41 352.71,851.27 352.95,851.11 353.19,851.1 353.43,850.96 353.67,851.01 353.91,851.07 354.15,851.19 354.38,851.23 354.62,851.35 354.86,851.38 355.1,851.51 355.34,851.56 355.58,851.56 355.82,851.56 356.05,851.59 356.29,851.46 356.53,851.4 356.77,851.38 357.01,851.37 357.25,851.47 357.49,851.24 357.72,851.13 357.96,851.16 358.2,851.17 358.44,851.13 358.68,851.1 358.92,850.96 359.16,851.01 359.39,851.14 359.63,851.1 359.87,851.09 360.11,851.11 360.35,851.19 360.59,851.32 360.83,851.39 361.06,851.3 361.3,851.31 361.54,851.29 361.78,851.36 362.02,851.21 362.26,851.14 362.5,851.1 362.73,851.11 362.97,851.24 363.21,851.23 363.45,851.32 363.69,851.42 363.93,851.36 364.17,851.41 364.4,851.41 364.64,851.34 364.88,851.38 365.12,851.17 365.36,851.08 365.6,851.17 365.84,851.16 366.07,851.18 366.31,851.3 366.55,851.2 366.79,851.31 367.03,851.47 367.27,851.49 367.51,851.36 367.74,851.35 367.98,851.09 368.22,851.17 368.46,851.13 368.7,850.87 368.94,850.65 369.18,850.81 369.41,850.76 369.65,850.99 369.89,851.02 370.13,851.17 370.37,851.26 370.61,851.48 370.85,851.47 371.08,851.39 371.32,851.25 371.56,851.23 371.8,851.23 372.04,851.25 372.28,851.33 372.52,851.34 372.75,851.42 372.99,851.43 373.23,851.4 373.47,851.21 373.71,851.22 373.95,851.1 374.19,851.03 374.42,850.95 374.66,851.01 374.9,850.99 375.14,851.01 375.38,851.11 375.62,851.12 375.86,851.23 376.09,851.32 376.33,851.33 376.57,851.43 376.81,851.55 377.05,851.4 377.29,851.26 377.53,851.11 377.76,851.12 378,851.05 378.24,850.96 378.48,850.83 378.72,850.9 378.96,851.02 379.2,851.09 379.43,851.06 379.67,850.96 379.91,851.01 380.15,851.1 380.39,851 380.63,850.86 380.87,850.84 381.1,850.88 381.34,851.02 381.58,850.91 381.82,850.59 382.06,850.67 382.3,850.67 382.54,850.62 382.77,850.54 383.01,850.43 383.25,850.4 383.49,850.64 383.73,850.62 383.97,850.53 384.21,850.42 384.44,850.37 384.68,850.3 384.92,850.31 385.16,850.08 385.4,850 385.64,850.07 385.88,850.08 386.11,850.02 386.35,849.79 386.59,849.64 386.83,849.61 387.07,849.35 387.31,849.21 387.55,849.16 387.78,849.11 388.02,849.24 388.26,849.29 388.5,849.28 388.74,849.33 388.98,849.13 389.22,848.96 389.45,848.9 389.69,848.92 389.93,848.87 390.17,849 390.41,849.05 390.65,849.39 390.89,849.49 391.12,849.42 391.36,849.44 391.6,849.38 391.84,849.34 392.08,849.47 392.32,849.3 392.56,849.3 392.79,849.37 393.03,849.32 393.27,849.28 393.51,849.22 393.75,849.01 393.99,848.92 394.23,848.9 394.46,848.92 394.7,848.82 394.94,848.81 395.18,848.78 395.42,848.92 395.66,849.03 395.9,848.92 396.13,848.97 396.37,849.12 396.61,849.3 396.85,849.37 397.09,849.36 397.33,849.41 397.57,849.66 397.8,849.81 398.04,849.75 398.28,849.77 398.52,849.92 398.76,850.02 399,850.09 399.24,850.05 399.47,850.02 399.71,850.26 399.95,850.3 400.19,850.39 400.43,850.5 400.67,850.5 400.91,850.61 401.14,850.68 401.38,850.74 401.62,850.89 401.86,850.81 402.1,850.78 402.34,850.77 402.58,850.88 402.81,850.9 403.05,850.9 403.29,850.91 403.53,850.82 403.77,850.75 404.01,850.88 404.25,850.93 404.48,850.93 404.72,850.89 404.96,850.88 405.2,851.14 405.44,851.12 405.68,851.24 405.92,851.08 406.15,851.16 406.39,851.23 406.63,851.13 406.87,851.1 407.11,851.26 407.35,851.18 407.59,851.18 407.82,851.07 408.06,851.04 408.3,851.21 408.54,851.05 408.78,851.06 409.02,851.04 409.26,851.26 409.49,851.35 409.73,851.33 409.97,851.27 410.21,851.32 410.45,851.2 410.69,851.11 410.93,851.03 411.16,851.12 411.4,851.34 411.64,851.34 411.88,851.5 412.12,851.56 412.36,851.83 412.6,851.72 412.83,851.61 413.07,851.55 413.31,851.51 413.55,851.36 413.79,851.36 414.03,851.22 414.27,851.25 414.5,851.22 414.74,851.14 414.98,851.15 415.22,851.29 415.46,851.28 415.7,851.37 415.94,851.43 416.17,851.55 416.41,851.47 416.65,851.46 416.89,851.45 417.13,851.48 417.37,851.41 417.61,851.35 417.84,851.27 418.08,851.35 418.32,851.38 418.56,851.42 418.8,851.41 419.04,851.34 419.28,851.46 419.51,851.43 419.75,851.35 419.99,851.27 420.23,851.06 420.47,851.03 420.71,851.11 420.95,850.89 421.18,850.91 421.42,851.03 421.66,850.99 421.9,851.13 422.14,851.12 422.38,851.15 422.62,851.21 422.85,851.12 423.09,851.11 423.33,851.17 423.57,851.07 423.81,851.14 424.05,851.04 424.29,851.13 424.52,851.27 424.76,851.3 425,851.32 425.24,851.33 425.48,851.27 425.72,851.27 425.96,851.21 426.19,851.19 426.43,851 426.67,851.07 426.91,851.05 427.15,851.12 427.39,851.17 427.63,851.07 427.86,851.01 428.1,851.21 428.34,851.12 428.58,851.21 428.82,851.06 429.06,851.1 429.3,851.24 429.53,851.31 429.77,851.27 430.01,851.25 430.25,851.14 430.49,851.18 430.73,851.13 430.97,851.18 431.2,851.1 431.44,851.07 431.68,851.12 431.92,851.21" fill="none" stroke="#e0112f" stroke-width="2.3" stroke-linejoin="round"/>
<polyline points="98.16,904.89 98.4,904.95 98.64,905 98.88,905.07 99.11,905.12 99.35,905.17 99.59,905.14 99.83,905.22 100.07,905.22 100.31,905.22 100.55,905.16 100.78,905.05 101.02,905.08 101.26,905.05 101.5,905 101.74,904.9 101.98,904.91 102.22,904.87 102.45,904.97 102.69,905.02 102.93,904.99 103.17,904.98 103.41,905.02 103.65,905.03 103.89,905.02 104.12,904.85 104.36,904.77 104.6,904.77 104.84,904.78 105.08,904.71 105.32,904.68 105.56,904.55 105.79,904.64 106.03,904.67 106.27,904.63 106.51,904.68 106.75,904.77 106.99,904.79 107.23,904.94 107.46,904.87 107.7,904.91 107.94,904.85 108.18,904.74 108.42,904.63 108.66,904.58 108.9,904.64 109.13,904.79 109.37,904.67 109.61,904.81 109.85,904.84 110.09,904.9 110.33,904.84 110.57,904.69 110.8,904.61 111.04,904.67 111.28,904.6 111.52,904.67 111.76,904.71 112,904.85 112.24,904.96 112.47,905.05 112.71,905.01 112.95,905.07 113.19,904.92 113.43,904.9 113.67,904.82 113.91,904.79 114.14,904.67 114.38,904.68 114.62,904.68 114.86,904.75 115.1,904.77 115.34,904.81 115.58,904.83 115.81,904.82 116.05,904.89 116.29,904.93 116.53,904.89 116.77,904.85 117.01,904.89 117.25,904.89 117.48,904.96 117.72,904.96 117.96,904.91 118.2,905.01 118.44,905.06 118.68,904.95 118.92,904.8 119.15,904.69 119.39,904.64 119.63,904.6 119.87,904.54 120.11,904.37 120.35,904.38 120.59,904.42 120.82,904.37 121.06,904.26 121.3,904.26 121.54,904.27 121.78,904.35 122.02,904.4 122.26,904.3 122.49,904.37 122.73,904.35 122.97,904.3 123.21,904.22 123.45,904.13 123.69,903.97 123.93,903.97 124.16,903.87 124.4,903.78 124.64,903.71 124.88,903.53 125.12,903.4 125.36,903.25 125.6,903 125.83,902.83 126.07,902.58 126.31,902.15 126.55,901.6 126.79,901.02 127.03,900.43 127.27,899.74 127.5,899 127.74,898.43 127.98,898.07 128.22,897.96 128.46,898.1 128.7,898.5 128.94,899.18 129.17,899.78 129.41,900.43 129.65,901.03 129.89,901.59 130.13,902.13 130.37,902.51 130.61,902.77 130.84,903.09 131.08,903.2 131.32,903.37 131.56,903.54 131.8,903.6 132.04,903.71 132.28,903.78 132.51,903.79 132.75,903.95 132.99,904.04 133.23,904.15 133.47,904.17 133.71,904.19 133.95,904.29 134.18,904.46 134.42,904.49 134.66,904.55 134.9,904.52 135.14,904.66 135.38,904.74 135.62,904.69 135.85,904.63 136.09,904.62 136.33,904.62 136.57,904.64 136.81,904.6 137.05,904.54 137.29,904.55 137.52,904.52 137.76,904.56 138,904.44 138.24,904.46 138.48,904.49 138.72,904.47 138.96,904.51 139.19,904.49 139.43,904.48 139.67,904.57 139.91,904.6 140.15,904.56 140.39,904.67 140.63,904.75 140.86,904.84 141.1,904.83 141.34,904.8 141.58,904.81 141.82,904.93 142.06,904.96 142.3,904.91 142.53,904.92 142.77,904.93 143.01,904.92 143.25,904.95 143.49,904.8 143.73,904.72 143.97,904.72 144.2,904.69 144.44,904.8 144.68,904.73 144.92,904.7 145.16,904.71 145.4,904.72 145.64,904.79 145.87,904.85 146.11,904.81 146.35,905.02 146.59,905.13 146.83,905.14 147.07,905.14 147.31,905.06 147.54,904.94 147.78,904.91 148.02,904.81 148.26,904.63 148.5,904.64 148.74,904.59 148.98,904.64 149.21,904.74 149.45,904.67 149.69,904.68 149.93,904.68 150.17,904.65 150.41,904.63 150.65,904.54 150.88,904.48 151.12,904.44 151.36,904.52 151.6,904.59 151.84,904.6 152.08,904.52 152.32,904.63 152.55,904.65 152.79,904.67 153.03,904.49 153.27,904.45 153.51,904.55 153.75,904.59 153.99,904.45 154.22,904.37 154.46,904.34 154.7,904.35 154.94,904.33 155.18,904.16 155.42,904.09 155.66,904.08 155.89,904.1 156.13,904.09 156.37,904.02 156.61,903.94 156.85,903.82 157.09,903.75 157.33,903.65 157.56,903.44 157.8,903.26 158.04,903.01 158.28,902.69 158.52,902.55 158.76,902.29 159,902.03 159.23,901.63 159.47,901.14 159.71,900.69 159.95,900.24 160.19,899.49 160.43,898.79 160.67,898.19 160.9,897.92 161.14,897.87 161.38,898.02 161.62,898.35 161.86,899 162.1,899.69 162.34,900.36 162.57,900.93 162.81,901.5 163.05,901.92 163.29,902.31 163.53,902.62 163.77,902.89 164.01,903.1 164.24,903.36 164.48,903.47 164.72,903.68 164.96,903.82 165.2,903.87 165.44,903.89 165.68,903.96 165.91,903.96 166.15,903.92 166.39,904.05 166.63,904.08 166.87,904.11 167.11,904.18 167.35,904.17 167.58,904.11 167.82,904.2 168.06,904.15 168.3,904.13 168.54,904.18 168.78,904.16 169.02,904.08 169.25,904.04 169.49,904.13 169.73,904.06 169.97,904.04 170.21,903.98 170.45,904.01 170.69,904.07 170.92,904.1 171.16,904.01 171.4,904.09 171.64,904.06 171.88,904.04 172.12,904.06 172.36,903.96 172.59,903.99 172.83,903.89 173.07,903.84 173.31,903.83 173.55,903.86 173.79,903.77 174.03,903.76 174.26,903.63 174.5,903.63 174.74,903.42 174.98,903.39 175.22,903.35 175.46,903.25 175.7,903.07 175.93,903.02 176.17,902.92 176.41,902.89 176.65,902.69 176.89,902.41 177.13,902.19 177.37,902.02 177.6,901.66 177.84,901.31 178.08,900.95 178.32,900.62 178.56,900.23 178.8,899.72 179.04,899.22 179.27,898.74 179.51,897.96 179.75,897.03 179.99,895.97 180.23,894.64 180.47,893.13 180.71,891.37 180.94,889.1 181.18,886.48 181.42,883.32 181.66,879.55 181.9,875.38 182.14,871.02 182.38,867.16 182.61,864.52 182.85,863.9 183.09,865.44 183.33,868.73 183.57,873.05 183.81,877.43 184.05,881.34 184.28,884.86 184.52,887.81 184.76,890.34 185,892.37 185.24,893.93 185.48,895.31 185.72,896.43 185.95,897.34 186.19,898.05 186.43,898.6 186.67,899.09 186.91,899.45 187.15,899.77 187.39,900.13 187.62,900.35 187.86,900.61 188.1,900.8 188.34,900.86 188.58,900.97 188.82,901.01 189.06,900.9 189.29,900.91 189.53,900.85 189.77,900.81 190.01,900.91 190.25,900.97 190.49,900.94 190.73,900.77 190.96,900.66 191.2,900.5 191.44,900.21 191.68,899.74 191.92,899.22 192.16,898.7 192.4,898.28 192.63,897.68 192.87,896.95 193.11,896.24 193.35,895.29 193.59,894.12 193.83,892.74 194.07,891.09 194.3,889.27 194.54,887.2 194.78,884.77 195.02,882.51 195.26,880.3 195.5,878.53 195.74,877.47 195.97,877.26 196.21,877.94 196.45,879.6 196.69,881.58 196.93,883.94 197.17,886.32 197.41,888.56 197.64,890.46 197.88,892.31 198.12,893.79 198.36,895.2 198.6,896.28 198.84,897.18 199.08,898.06 199.31,898.84 199.55,899.46 199.79,899.97 200.03,900.32 200.27,900.79 200.51,901.18 200.75,901.53 200.98,901.7 201.22,901.95 201.46,902.16 201.7,902.43 201.94,902.52 202.18,902.69 202.42,902.76 202.65,903.04 202.89,903.04 203.13,903.24 203.37,903.24 203.61,903.31 203.85,903.29 204.09,903.39 204.32,903.42 204.56,903.54 204.8,903.45 205.04,903.63 205.28,903.68 205.52,903.87 205.76,903.83 205.99,903.83 206.23,903.86 206.47,903.95 206.71,903.9 206.95,904.07 207.19,903.99 207.43,904.08 207.66,904.11 207.9,904.18 208.14,904.17 208.38,904.2 208.62,904.14 208.86,904.26 209.1,904.15 209.33,904.16 209.57,904.1 209.81,904.16 210.05,904.13 210.29,904.05 210.53,903.96 210.77,903.97 211,903.87 211.24,904 211.48,904.02 211.72,904.13 211.96,904.16 212.2,904.19 212.44,904.33 212.67,904.32 212.91,904.19 213.15,904.07 213.39,904.02 213.63,903.99 213.87,903.92 214.11,903.86 214.34,903.89 214.58,903.87 214.82,903.93 215.06,903.85 215.3,903.94 215.54,903.92 215.78,903.84 216.01,903.85 216.25,903.74 216.49,903.73 216.73,903.71 216.97,903.44 217.21,903.31 217.45,903.19 217.68,902.88 217.92,902.72 218.16,902.38 218.4,902.02 218.64,901.7 218.88,901.28 219.12,900.81 219.35,900.32 219.59,899.59 219.83,898.75 220.07,897.89 220.31,896.98 220.55,896.11 220.79,895.41 221.02,894.98 221.26,894.85 221.5,895.26 221.74,895.88 221.98,896.82 222.22,897.61 222.46,898.47 222.69,899.23 222.93,900.02 223.17,900.7 223.41,901.27 223.65,901.59 223.89,902.15 224.13,902.38 224.36,902.7 224.6,902.89 224.84,902.89 225.08,903.11 225.32,903.29 225.56,903.42 225.8,903.63 226.03,903.71 226.27,903.85 226.51,904.02 226.75,904.01 226.99,904.2 227.23,904.25 227.47,904.36 227.7,904.39 227.94,904.4 228.18,904.44 228.42,904.52 228.66,904.43 228.9,904.39 229.14,904.28 229.37,904.35 229.61,904.43 229.85,904.4 230.09,904.4 230.33,904.43 230.57,904.48 230.81,904.49 231.04,904.45 231.28,904.46 231.52,904.56 231.76,904.58 232,904.6 232.24,904.58 232.48,904.69 232.71,904.65 232.95,904.7 233.19,904.68 233.43,904.73 233.67,904.77 233.91,904.81 234.15,904.72 234.38,904.8 234.62,904.71 234.86,904.74 235.1,904.61 235.34,904.67 235.58,904.65 235.82,904.67 236.05,904.71 236.29,904.76 236.53,904.79 236.77,904.85 237.01,904.8 237.25,904.78 237.49,904.78 237.72,904.74 237.96,904.73 238.2,904.74 238.44,904.72 238.68,904.67 238.92,904.72 239.16,904.8 239.39,904.85 239.63,904.81 239.87,904.85 240.11,904.87 240.35,904.93 240.59,904.88 240.83,904.9 241.06,904.84 241.3,904.95 241.54,904.84 241.78,904.78 242.02,904.77 242.26,904.72 242.5,904.64 242.73,904.63 242.97,904.47 243.21,904.44 243.45,904.5 243.69,904.61 243.93,904.74 244.17,904.73 244.4,904.8 244.64,904.97 244.88,904.99 245.12,905.09 245.36,905.03 245.6,904.96 245.84,904.88 246.07,904.88 246.31,904.83 246.55,904.83 246.79,904.79 247.03,904.78 247.27,904.79 247.51,904.95 247.74,904.95 247.98,904.86 248.22,904.98 248.46,904.86 248.7,904.74 248.94,904.79 249.18,904.68 249.41,904.63 249.65,904.77 249.89,904.7 250.13,904.84 250.37,904.83 250.61,904.86 250.85,904.98 251.08,905.01 251.32,905 251.56,904.87 251.8,904.85 252.04,904.97 252.28,904.95 252.52,904.93 252.75,905.01 252.99,904.98 253.23,905.12 253.47,905.11 253.71,905.02 253.95,904.93 254.19,904.85 254.42,904.8 254.66,904.8 254.9,904.79 255.14,904.79 255.38,904.86 255.62,904.94 255.86,904.92 256.09,904.91 256.33,904.84 256.57,904.79 256.81,904.77 257.05,904.74 257.29,904.73 257.53,904.79 257.76,904.7 258,904.78 258.24,904.59 258.48,904.64 258.72,904.73 258.96,904.64 259.2,904.65 259.43,904.73 259.67,904.76 259.91,904.99 260.15,904.96 260.39,904.86 260.63,904.95 260.87,904.92 261.1,904.86 261.34,904.79 261.58,904.8 261.82,904.81 262.06,904.91 262.3,904.96 262.54,904.91 262.77,904.97 263.01,904.99 263.25,904.95 263.49,904.88 263.73,904.74 263.97,904.63 264.21,904.67 264.44,904.69 264.68,904.63 264.92,904.63 265.16,904.64 265.4,904.72 265.64,904.71 265.87,904.64 266.11,904.57 266.35,904.53 266.59,904.5 266.83,904.49 267.07,904.36 267.31,904.36 267.54,904.36 267.78,904.4 268.02,904.35 268.26,904.33 268.5,904.28 268.74,904.32 268.98,904.24 269.21,904.22 269.45,904.14 269.69,904.11 269.93,903.99 270.17,903.93 270.41,903.78 270.65,903.63 270.88,903.51 271.12,903.3 271.36,903.12 271.6,903.04 271.84,902.87 272.08,902.79 272.32,902.51 272.55,902.19 272.79,901.89 273.03,901.5 273.27,900.92 273.51,900.37 273.75,899.69 273.99,899.2 274.22,898.52 274.46,898.14 274.7,897.89 274.94,897.85 275.18,897.84 275.42,898.14 275.66,898.47 275.89,899.17 276.13,899.54 276.37,899.98 276.61,900.35 276.85,900.81 277.09,901.18 277.33,901.58 277.56,901.92 277.8,902.28 278.04,902.56 278.28,902.78 278.52,903.01 278.76,903.27 279,903.33 279.23,903.41 279.47,903.52 279.71,903.68 279.95,904.05 280.19,904.09 280.43,904.11 280.67,904.25 280.9,904.29 281.14,904.32 281.38,904.23 281.62,904.06 281.86,904.14 282.1,904.18 282.34,904.24 282.57,904.3 282.81,904.35 283.05,904.42 283.29,904.54 283.53,904.61 283.77,904.5 284.01,904.5 284.24,904.34 284.48,904.32 284.72,904.31 284.96,904.21 285.2,904.05 285.44,904.05 285.68,904.03 285.91,904.19 286.15,904.25 286.39,904.26 286.63,904.27 286.87,904.29 287.11,904.3 287.35,904.24 287.58,904.09 287.82,904 288.06,903.99 288.3,903.95 288.54,904.08 288.78,904.15 289.02,904.23 289.25,904.27 289.49,904.36 289.73,904.48 289.97,904.44 290.21,904.39 290.45,904.37 290.69,904.32 290.92,904.41 291.16,904.36 291.4,904.33 291.64,904.51 291.88,904.55 292.12,904.62 292.36,904.69 292.59,904.7 292.83,904.78 293.07,904.86 293.31,904.77 293.55,904.9 293.79,904.92 294.03,904.98 294.26,905 294.5,904.98 294.74,904.95 294.98,905.09 295.22,905.1 295.46,905.2 295.7,905.22 295.93,905.22 296.17,905.26 296.41,905.24 296.65,905.15 296.89,905.07 297.13,905.05 297.37,905.03 297.6,905.05 297.84,904.95 298.08,904.9 298.32,904.96 298.56,904.94 298.8,904.81 299.04,904.77 299.27,904.69 299.51,904.76 299.75,904.8 299.99,904.72 300.23,904.74 300.47,904.85 300.71,904.87 300.94,904.87 301.18,904.87 301.42,904.95 301.66,904.93 301.9,904.87 302.14,904.79 302.38,904.76 302.61,904.81 302.85,904.93 303.09,904.85 303.33,905 303.57,905.04 303.81,904.99 304.05,905 304.28,904.99 304.52,904.91 304.76,904.91 305,904.89 305.24,904.89 305.48,904.97 305.72,905 305.95,905.08 306.19,905.17 306.43,905.22 306.67,905.2 306.91,905.22 307.15,905.21 307.39,905.29 307.62,905.19 307.86,905.15 308.1,904.99 308.34,904.88 308.58,904.82 308.82,904.89 309.06,904.79 309.29,904.82 309.53,904.78 309.77,904.94 310.01,904.95 310.25,904.97 310.49,904.83 310.73,904.78 310.96,904.79 311.2,904.72 311.44,904.69 311.68,904.8 311.92,904.78 312.16,904.92 312.4,904.91 312.63,904.86 312.87,905.01 313.11,905.01 313.35,905 313.59,904.95 313.83,904.91 314.07,904.97 314.3,904.99 314.54,904.92 314.78,904.92 315.02,904.8 315.26,904.91 315.5,904.88 315.74,904.91 315.97,904.82 316.21,904.67 316.45,904.68 316.69,904.76 316.93,904.7 317.17,904.73 317.41,904.73 317.64,904.87 317.88,904.89 318.12,904.77 318.36,904.73 318.6,904.84 318.84,904.91 319.08,904.88 319.31,904.9 319.55,905.01 319.79,905.12 320.03,905.18 320.27,905.03 320.51,905.03 320.75,905.05 320.98,905.06 321.22,905.02 321.46,905.13 321.7,905.13 321.94,905.14 322.18,905.11 322.42,905.1 322.65,905.07 322.89,905.07 323.13,904.99 323.37,904.94 323.61,905.05 323.85,905.02 324.09,905 324.32,905.01 324.56,904.98 324.8,904.92 325.04,904.93 325.28,904.98 325.52,904.88 325.76,904.98 325.99,904.94 326.23,904.96 326.47,904.92 326.71,904.93 326.95,904.86 327.19,904.92 327.43,904.77 327.66,904.82 327.9,904.81 328.14,904.89 328.38,904.89 328.62,904.85 328.86,904.87 329.1,904.92 329.33,904.75 329.57,904.87 329.81,904.79 330.05,904.79 330.29,904.83 330.53,904.92 330.77,904.88 331,905.09 331.24,904.9 331.48,905.05 331.72,905.04 331.96,905.04 332.2,905.03 332.44,905.14 332.67,904.95 332.91,905.04 333.15,904.95 333.39,904.92 333.63,904.81 333.87,904.78 334.11,904.73 334.34,904.82 334.58,904.85 334.82,904.98 335.06,904.98 335.3,905 335.54,904.98 335.78,904.81 336.01,904.88 336.25,904.87 336.49,904.75 336.73,904.84 336.97,904.88 337.21,904.78 337.45,905.02 337.68,905.06 337.92,905.08 338.16,905.15 338.4,905.14 338.64,905.17 338.88,905.26 339.12,905.09 339.35,904.98 339.59,904.84 339.83,904.8 340.07,904.81 340.31,904.88 340.55,904.86 340.79,904.96 341.02,904.83 341.26,905.03 341.5,905.07 341.74,905.06 341.98,904.97 342.22,904.98 342.46,905.05 342.69,905.2 342.93,905.16 343.17,905.18 343.41,905.15 343.65,905.07 343.89,905.11 344.13,905.16 344.36,905.18 344.6,905.13 344.84,905.08 345.08,905.03 345.32,905.15 345.56,905.13 345.8,905.07 346.03,904.95 346.27,904.93 346.51,904.94 346.75,905.05 346.99,904.95 347.23,905.01 347.47,904.91 347.7,904.95 347.94,904.93 348.18,904.91 348.42,904.86 348.66,904.86 348.9,904.8 349.14,904.81 349.37,904.94 349.61,904.9 349.85,904.91 350.09,904.85 350.33,904.87 350.57,904.89 350.81,904.95 351.04,904.9 351.28,904.93 351.52,905 351.76,905.14 352,905.11 352.24,905.06 352.48,905.1 352.71,905.04 352.95,905.15 353.19,905.07 353.43,905.07 353.67,905.08 353.91,905.1 354.15,905.04 354.38,905.18 354.62,905.17 354.86,905.25 355.1,905.21 355.34,905.25 355.58,905.34 355.82,905.38 356.05,905.28 356.29,905.2 356.53,905.13 356.77,905.1 357.01,905.03 357.25,905.03 357.49,904.94 357.72,905.01 357.96,905.03 358.2,905.06 358.44,905.06 358.68,905.14 358.92,904.99 359.16,905.13 359.39,905 359.63,904.98 359.87,904.87 360.11,904.91 360.35,904.83 360.59,904.88 360.83,904.76 361.06,904.8 361.3,904.8 361.54,904.78 361.78,904.77 362.02,904.94 362.26,904.94 362.5,904.94 362.73,904.99 362.97,905.04 363.21,905.2 363.45,905.16 363.69,905.12 363.93,905.08 364.17,905.06 364.4,904.93 364.64,904.84 364.88,904.7 365.12,904.72 365.36,904.56 365.6,904.71 365.84,904.83 366.07,904.83 366.31,904.94 366.55,905.05 366.79,905.09 367.03,905.15 367.27,904.99 367.51,904.9 367.74,905.01 367.98,904.99 368.22,904.9 368.46,904.88 368.7,904.89 368.94,905.01 369.18,904.99 369.41,904.95 369.65,904.95 369.89,905.01 370.13,905.11 370.37,905.07 370.61,905.03 370.85,905.09 371.08,905.1 371.32,905.05 371.56,905.03 371.8,904.81 372.04,904.85 372.28,904.84 372.52,904.86 372.75,904.73 372.99,904.82 373.23,904.84 373.47,904.99 373.71,905.02 373.95,905.01 374.19,904.91 374.42,905.1 374.66,905.12 374.9,905.01 375.14,905.09 375.38,905.1 375.62,905.19 375.86,905.22 376.09,905.22 376.33,905.11 376.57,905.22 376.81,905.07 377.05,905.14 377.29,905.05 377.53,905.06 377.76,905.01 378,904.99 378.24,904.92 378.48,904.79 378.72,904.8 378.96,904.77 379.2,904.78 379.43,904.76 379.67,904.75 379.91,904.69 380.15,904.75 380.39,904.73 380.63,904.79 380.87,904.84 381.1,904.88 381.34,905.03 381.58,905.15 381.82,905.31 382.06,905.28 382.3,905.24 382.54,905.13 382.77,905.13 383.01,905.06 383.25,905.02 383.49,904.98 383.73,904.9 383.97,904.9 384.21,904.93 384.44,904.94 384.68,904.92 384.92,904.98 385.16,904.96 385.4,905.03 385.64,904.98 385.88,905.08 386.11,905.07 386.35,905.02 386.59,905.01 386.83,904.92 387.07,904.88 387.31,904.98 387.55,904.94 387.78,904.87 388.02,904.86 388.26,904.82 388.5,904.87 388.74,905.03 388.98,904.98 389.22,905.04 389.45,905.12 389.69,905.18 389.93,905.21 390.17,905.19 390.41,905.06 390.65,905.12 390.89,905.06 391.12,905 391.36,904.89 391.6,904.93 391.84,904.94 392.08,904.88 392.32,904.79 392.56,904.78 392.79,904.76 393.03,904.77 393.27,904.7 393.51,904.77 393.75,904.9 393.99,904.88 394.23,904.8 394.46,904.88 394.7,904.97 394.94,904.99 395.18,904.84 395.42,904.82 395.66,904.81 395.9,904.92 396.13,904.87 396.37,904.84 396.61,904.76 396.85,904.88 397.09,904.87 397.33,904.93 397.57,904.95 397.8,904.94 398.04,904.97 398.28,905.12 398.52,905.1 398.76,905.09 399,905.16 399.24,905.12 399.47,905.18 399.71,905.21 399.95,905.16 400.19,905.23 400.43,905.27 400.67,905.08 400.91,905.14 401.14,905.11 401.38,905.05 401.62,905.02 401.86,905.06 402.1,904.94 402.34,905.08 402.58,904.9 402.81,904.95 403.05,905.04 403.29,904.98 403.53,904.89 403.77,904.93 404.01,904.84 404.25,905.01 404.48,905.05 404.72,904.99 404.96,905 405.2,904.99 405.44,905.02 405.68,904.99 405.92,904.89 406.15,904.82 406.39,904.71 406.63,904.78 406.87,904.76 407.11,904.79 407.35,904.83 407.59,904.82 407.82,904.83 408.06,905.01 408.3,904.98 408.54,905 408.78,904.93 409.02,905.03 409.26,905.07 409.49,905.1 409.73,904.98 409.97,904.99 410.21,904.99 410.45,905.01 410.69,904.91 410.93,904.84 411.16,904.81 411.4,904.84 411.64,904.89 411.88,904.87 412.12,904.95 412.36,905 412.6,905.01 412.83,905 413.07,905.03 413.31,905.02 413.55,905.06 413.79,904.96 414.03,904.96 414.27,905.08 414.5,904.99 414.74,904.92 414.98,904.88 415.22,904.87 415.46,904.83 415.7,904.71 415.94,904.67 416.17,904.74 416.41,904.77 416.65,904.71 416.89,904.64 417.13,904.69 417.37,904.8 417.61,904.83 417.84,904.83 418.08,904.85 418.32,904.94 418.56,905.02 418.8,905.05 419.04,905.06 419.28,905.02 419.51,904.99 419.75,904.95 419.99,904.87 420.23,904.91 420.47,904.83 420.71,904.87 420.95,904.86 421.18,904.92 421.42,904.93 421.66,905.05 421.9,904.93 422.14,905.09 422.38,904.97 422.62,905.05 422.85,904.93 423.09,904.99 423.33,904.95 423.57,904.99 423.81,904.88 424.05,904.95 424.29,904.91 424.52,905.06 424.76,905.04 425,904.98 425.24,904.99 425.48,905.01 425.72,905.03 425.96,905.03 426.19,904.98 426.43,904.96 426.67,905.08 426.91,905.03 427.15,905.04 427.39,905 427.63,904.86 427.86,904.88 428.1,904.98 428.34,904.86 428.58,904.93 428.82,904.96 429.06,905 429.3,905.09 429.53,905.18 429.77,905.13 430.01,905.24 430.25,905.16 430.49,905.12 430.73,905.09 430.97,905.13 431.2,905.09 431.44,905.06 431.68,905.01 431.92,905.03" fill="none" stroke="#2038ec" stroke-width="2.3" stroke-dasharray="2.2 2.0" stroke-linejoin="round"/>
<polyline points="98.16,959.69 98.4,959.72 98.64,959.78 98.88,959.84 99.11,959.78 99.35,959.73 99.59,959.71 99.83,959.64 100.07,959.63 100.31,959.57 100.55,959.5 100.78,959.56 101.02,959.64 101.26,959.66 101.5,959.7 101.74,959.78 101.98,959.73 102.22,959.71 102.45,959.66 102.69,959.64 102.93,959.63 103.17,959.66 103.41,959.56 103.65,959.66 103.89,959.74 104.12,959.77 104.36,959.69 104.6,959.7 104.84,959.61 105.08,959.65 105.32,959.73 105.56,959.7 105.79,959.68 106.03,959.69 106.27,959.71 106.51,959.77 106.75,959.78 106.99,959.63 107.23,959.59 107.46,959.64 107.7,959.67 107.94,959.62 108.18,959.67 108.42,959.59 108.66,959.63 108.9,959.63 109.13,959.61 109.37,959.69 109.61,959.65 109.85,959.54 110.09,959.54 110.33,959.48 110.57,959.52 110.8,959.41 111.04,959.37 111.28,959.4 111.52,959.5 111.76,959.59 112,959.6 112.24,959.55 112.47,959.68 112.71,959.71 112.95,959.73 113.19,959.7 113.43,959.7 113.67,959.79 113.91,959.84 114.14,959.79 114.38,959.74 114.62,959.76 114.86,959.69 115.1,959.7 115.34,959.65 115.58,959.63 115.81,959.63 116.05,959.65 116.29,959.67 116.53,959.77 116.77,959.79 117.01,959.73 117.25,959.77 117.48,959.77 117.72,959.74 117.96,959.71 118.2,959.73 118.44,959.68 118.68,959.7 118.92,959.59 119.15,959.58 119.39,959.65 119.63,959.51 119.87,959.41 120.11,959.39 120.35,959.43 120.59,959.56 120.82,959.58 121.06,959.54 121.3,959.7 121.54,959.72 121.78,959.75 122.02,959.78 122.26,959.65 122.49,959.72 122.73,959.69 122.97,959.69 123.21,959.8 123.45,959.83 123.69,959.72 123.93,959.85 124.16,959.8 124.4,959.79 124.64,959.81 124.88,959.69 125.12,959.71 125.36,959.77 125.6,959.72 125.83,959.7 126.07,959.78 126.31,959.69 126.55,959.79 126.79,959.67 127.03,959.67 127.27,959.69 127.5,959.67 127.74,959.61 127.98,959.66 128.22,959.61 128.46,959.58 128.7,959.57 128.94,959.58 129.17,959.52 129.41,959.51 129.65,959.5 129.89,959.53 130.13,959.57 130.37,959.59 130.61,959.56 130.84,959.66 131.08,959.75 131.32,959.67 131.56,959.61 131.8,959.61 132.04,959.61 132.28,959.54 132.51,959.64 132.75,959.61 132.99,959.81 133.23,959.82 133.47,959.83 133.71,959.78 133.95,959.9 134.18,959.78 134.42,959.77 134.66,959.64 134.9,959.6 135.14,959.66 135.38,959.65 135.62,959.56 135.85,959.52 136.09,959.54 136.33,959.58 136.57,959.65 136.81,959.67 137.05,959.73 137.29,959.8 137.52,959.82 137.76,959.81 138,959.75 138.24,959.76 138.48,959.64 138.72,959.6 138.96,959.57 139.19,959.63 139.43,959.57 139.67,959.55 139.91,959.54 140.15,959.58 140.39,959.51 140.63,959.55 140.86,959.46 141.1,959.5 141.34,959.56 141.58,959.59 141.82,959.62 142.06,959.69 142.3,959.63 142.53,959.68 142.77,959.69 143.01,959.6 143.25,959.54 143.49,959.52 143.73,959.5 143.97,959.58 144.2,959.55 144.44,959.53 144.68,959.68 144.92,959.61 145.16,959.65 145.4,959.69 145.64,959.64 145.87,959.61 146.11,959.59 146.35,959.52 146.59,959.54 146.83,959.49 147.07,959.46 147.31,959.44 147.54,959.49 147.78,959.53 148.02,959.52 148.26,959.6 148.5,959.66 148.74,959.66 148.98,959.69 149.21,959.68 149.45,959.7 149.69,959.65 149.93,959.63 150.17,959.57 150.41,959.55 150.65,959.59 150.88,959.58 151.12,959.53 151.36,959.55 151.6,959.61 151.84,959.69 152.08,959.67 152.32,959.67 152.55,959.72 152.79,959.71 153.03,959.77 153.27,959.66 153.51,959.69 153.75,959.69 153.99,959.62 154.22,959.59 154.46,959.65 154.7,959.6 154.94,959.69 155.18,959.51 155.42,959.51 155.66,959.6 155.89,959.58 156.13,959.54 156.37,959.54 156.61,959.52 156.85,959.6 157.09,959.64 157.33,959.6 157.56,959.61 157.8,959.6 158.04,959.64 158.28,959.6 158.52,959.59 158.76,959.58 159,959.5 159.23,959.44 159.47,959.44 159.71,959.48 159.95,959.44 160.19,959.45 160.43,959.45 160.67,959.55 160.9,959.6 161.14,959.56 161.38,959.49 161.62,959.54 161.86,959.54 162.1,959.56 162.34,959.5 162.57,959.51 162.81,959.6 163.05,959.57 163.29,959.58 163.53,959.55 163.77,959.56 164.01,959.61 164.24,959.56 164.48,959.53 164.72,959.57 164.96,959.57 165.2,959.69 165.44,959.63 165.68,959.61 165.91,959.71 166.15,959.68 166.39,959.65 166.63,959.58 166.87,959.5 167.11,959.49 167.35,959.56 167.58,959.4 167.82,959.43 168.06,959.45 168.3,959.53 168.54,959.57 168.78,959.66 169.02,959.57 169.25,959.73 169.49,959.7 169.73,959.74 169.97,959.71 170.21,959.68 170.45,959.64 170.69,959.68 170.92,959.6 171.16,959.59 171.4,959.52 171.64,959.59 171.88,959.6 172.12,959.58 172.36,959.5 172.59,959.53 172.83,959.63 173.07,959.7 173.31,959.74 173.55,959.67 173.79,959.67 174.03,959.7 174.26,959.81 174.5,959.75 174.74,959.77 174.98,959.69 175.22,959.7 175.46,959.74 175.7,959.71 175.93,959.61 176.17,959.57 176.41,959.54 176.65,959.53 176.89,959.52 177.13,959.58 177.37,959.61 177.6,959.58 177.84,959.57 178.08,959.53 178.32,959.56 178.56,959.62 178.8,959.56 179.04,959.58 179.27,959.57 179.51,959.65 179.75,959.72 179.99,959.72 180.23,959.72 180.47,959.66 180.71,959.63 180.94,959.7 181.18,959.66 181.42,959.62 181.66,959.58 181.9,959.62 182.14,959.61 182.38,959.67 182.61,959.7 182.85,959.64 183.09,959.67 183.33,959.73 183.57,959.69 183.81,959.7 184.05,959.69 184.28,959.56 184.52,959.58 184.76,959.58 185,959.55 185.24,959.61 185.48,959.66 185.72,959.66 185.95,959.7 186.19,959.71 186.43,959.7 186.67,959.71 186.91,959.63 187.15,959.57 187.39,959.55 187.62,959.58 187.86,959.55 188.1,959.56 188.34,959.54 188.58,959.55 188.82,959.58 189.06,959.49 189.29,959.49 189.53,959.48 189.77,959.44 190.01,959.47 190.25,959.4 190.49,959.43 190.73,959.55 190.96,959.54 191.2,959.65 191.44,959.58 191.68,959.56 191.92,959.59 192.16,959.58 192.4,959.56 192.63,959.55 192.87,959.45 193.11,959.53 193.35,959.55 193.59,959.53 193.83,959.49 194.07,959.55 194.3,959.54 194.54,959.58 194.78,959.52 195.02,959.46 195.26,959.46 195.5,959.39 195.74,959.37 195.97,959.35 196.21,959.36 196.45,959.43 196.69,959.46 196.93,959.54 197.17,959.61 197.41,959.62 197.64,959.63 197.88,959.61 198.12,959.65 198.36,959.64 198.6,959.59 198.84,959.54 199.08,959.44 199.31,959.48 199.55,959.49 199.79,959.44 200.03,959.39 200.27,959.33 200.51,959.29 200.75,959.33 200.98,959.26 201.22,959.24 201.46,959.17 201.7,959.23 201.94,959.29 202.18,959.29 202.42,959.32 202.65,959.32 202.89,959.22 203.13,959.29 203.37,959.28 203.61,959.22 203.85,959.35 204.09,959.28 204.32,959.34 204.56,959.5 204.8,959.45 205.04,959.47 205.28,959.44 205.52,959.33 205.76,959.31 205.99,959.28 206.23,959.23 206.47,959.21 206.71,959.24 206.95,959.25 207.19,959.23 207.43,959.2 207.66,959.15 207.9,959.15 208.14,959.09 208.38,959.04 208.62,959.01 208.86,959.03 209.1,959.14 209.33,959.12 209.57,959.04 209.81,959.04 210.05,958.94 210.29,959 210.53,958.95 210.77,958.86 211,958.84 211.24,958.78 211.48,958.82 211.72,958.75 211.96,958.62 212.2,958.66 212.44,958.61 212.67,958.57 212.91,958.58 213.15,958.45 213.39,958.38 213.63,958.26 213.87,958.12 214.11,957.97 214.34,957.86 214.58,957.73 214.82,957.64 215.06,957.51 215.3,957.49 215.54,957.35 215.78,957.26 216.01,957.04 216.25,956.81 216.49,956.54 216.73,956.4 216.97,956.07 217.21,955.74 217.45,955.29 217.68,954.91 217.92,954.4 218.16,953.83 218.4,953.07 218.64,952.38 218.88,951.52 219.12,950.45 219.35,949.19 219.59,947.84 219.83,946.26 220.07,944.34 220.31,942.01 220.55,939.55 220.79,936.92 221.02,934.15 221.26,931.51 221.5,929.43 221.74,928.26 221.98,928.11 222.22,929.04 222.46,930.83 222.69,933.3 222.93,936.13 223.17,938.83 223.41,941.34 223.65,943.72 223.89,945.61 224.13,947.4 224.36,948.93 224.6,950.11 224.84,951.2 225.08,952.14 225.32,952.84 225.56,953.61 225.8,954.16 226.03,954.71 226.27,955.21 226.51,955.53 226.75,955.85 226.99,956.2 227.23,956.38 227.47,956.67 227.7,956.9 227.94,957.08 228.18,957.31 228.42,957.45 228.66,957.62 228.9,957.82 229.14,957.97 229.37,958.02 229.61,958.12 229.85,958.2 230.09,958.32 230.33,958.3 230.57,958.4 230.81,958.4 231.04,958.51 231.28,958.61 231.52,958.66 231.76,958.73 232,958.83 232.24,958.89 232.48,958.9 232.71,958.88 232.95,958.83 233.19,958.92 233.43,958.92 233.67,958.96 233.91,958.96 234.15,959.01 234.38,959.05 234.62,959.12 234.86,959.02 235.1,958.99 235.34,959.02 235.58,959.06 235.82,959.09 236.05,959.1 236.29,959.07 236.53,959.17 236.77,959.27 237.01,959.26 237.25,959.26 237.49,959.29 237.72,959.31 237.96,959.44 238.2,959.47 238.44,959.38 238.68,959.39 238.92,959.31 239.16,959.32 239.39,959.37 239.63,959.3 239.87,959.26 240.11,959.32 240.35,959.27 240.59,959.35 240.83,959.31 241.06,959.27 241.3,959.31 241.54,959.3 241.78,959.27 242.02,959.31 242.26,959.39 242.5,959.43 242.73,959.38 242.97,959.34 243.21,959.4 243.45,959.49 243.69,959.46 243.93,959.36 244.17,959.38 244.4,959.38 244.64,959.36 244.88,959.25 245.12,959.21 245.36,959.32 245.6,959.4 245.84,959.33 246.07,959.41 246.31,959.5 246.55,959.54 246.79,959.56 247.03,959.55 247.27,959.48 247.51,959.58 247.74,959.51 247.98,959.33 248.22,959.38 248.46,959.38 248.7,959.36 248.94,959.43 249.18,959.26 249.41,959.3 249.65,959.39 249.89,959.42 250.13,959.45 250.37,959.39 250.61,959.38 250.85,959.47 251.08,959.51 251.32,959.55 251.56,959.55 251.8,959.58 252.04,959.62 252.28,959.56 252.52,959.63 252.75,959.61 252.99,959.63 253.23,959.55 253.47,959.47 253.71,959.56 253.95,959.58 254.19,959.47 254.42,959.4 254.66,959.3 254.9,959.33 255.14,959.29 255.38,959.2 255.62,959.23 255.86,959.27 256.09,959.25 256.33,959.25 256.57,959.28 256.81,959.35 257.05,959.28 257.29,959.25 257.53,959.29 257.76,959.34 258,959.39 258.24,959.43 258.48,959.43 258.72,959.54 258.96,959.52 259.2,959.47 259.43,959.46 259.67,959.46 259.91,959.42 260.15,959.38 260.39,959.34 260.63,959.45 260.87,959.47 261.1,959.5 261.34,959.54 261.58,959.54 261.82,959.55 262.06,959.54 262.3,959.47 262.54,959.42 262.77,959.37 263.01,959.29 263.25,959.29 263.49,959.32 263.73,959.31 263.97,959.32 264.21,959.39 264.44,959.43 264.68,959.46 264.92,959.45 265.16,959.32 265.4,959.33 265.64,959.31 265.87,959.25 266.11,959.23 266.35,959.25 266.59,959.22 266.83,959.32 267.07,959.37 267.31,959.38 267.54,959.36 267.78,959.41 268.02,959.47 268.26,959.53 268.5,959.47 268.74,959.38 268.98,959.34 269.21,959.36 269.45,959.3 269.69,959.16 269.93,959.09 270.17,959.15 270.41,959.1 270.65,959.06 270.88,959.11 271.12,959.19 271.36,959.26 271.6,959.2 271.84,959.12 272.08,959.26 272.32,959.29 272.55,959.22 272.79,959.16 273.03,959.09 273.27,959.23 273.51,959.24 273.75,959.13 273.99,959.09 274.22,959.12 274.46,959.04 274.7,959.1 274.94,958.98 275.18,958.99 275.42,958.95 275.66,958.88 275.89,958.86 276.13,958.9 276.37,958.82 276.61,958.86 276.85,958.83 277.09,958.77 277.33,958.84 277.56,958.74 277.8,958.65 278.04,958.73 278.28,958.71 278.52,958.63 278.76,958.58 279,958.5 279.23,958.46 279.47,958.46 279.71,958.26 279.95,958.12 280.19,958 280.43,957.89 280.67,957.78 280.9,957.77 281.14,957.61 281.38,957.44 281.62,957.3 281.86,957.12 282.1,957.04 282.34,956.93 282.57,956.58 282.81,956.37 283.05,956.19 283.29,955.9 283.53,955.68 283.77,955.29 284.01,954.83 284.24,954.41 284.48,953.8 284.72,953.17 284.96,952.43 285.2,951.52 285.44,950.57 285.68,949.48 285.91,948.15 286.15,946.66 286.39,944.93 286.63,943.01 286.87,940.87 287.11,938.46 287.35,935.9 287.58,933.47 287.82,931.29 288.06,929.59 288.3,928.71 288.54,928.7 288.78,929.67 289.02,931.35 289.25,933.61 289.49,936.05 289.73,938.57 289.97,940.94 290.21,943.15 290.45,945.18 290.69,946.9 290.92,948.31 291.16,949.67 291.4,950.77 291.64,951.64 291.88,952.46 292.12,953.1 292.36,953.72 292.59,954.29 292.83,954.78 293.07,955.2 293.31,955.69 293.55,956.03 293.79,956.32 294.03,956.62 294.26,956.86 294.5,957.1 294.74,957.26 294.98,957.33 295.22,957.48 295.46,957.64 295.7,957.72 295.93,957.86 296.17,957.85 296.41,957.99 296.65,958.15 296.89,958.25 297.13,958.25 297.37,958.31 297.6,958.39 297.84,958.46 298.08,958.44 298.32,958.52 298.56,958.55 298.8,958.68 299.04,958.71 299.27,958.73 299.51,958.88 299.75,959 299.99,958.94 300.23,959 300.47,958.95 300.71,959.03 300.94,958.98 301.18,958.96 301.42,958.91 301.66,958.99 301.9,958.98 302.14,959.06 302.38,959.07 302.61,959.14 302.85,959.05 303.09,959.14 303.33,959.13 303.57,959.11 303.81,959.13 304.05,959.08 304.28,959.07 304.52,959.12 304.76,959.04 305,959.04 305.24,959.12 305.48,959.16 305.72,959.3 305.95,959.32 306.19,959.38 306.43,959.37 306.67,959.46 306.91,959.47 307.15,959.39 307.39,959.3 307.62,959.3 307.86,959.3 308.1,959.28 308.34,959.23 308.58,959.2 308.82,959.2 309.06,959.21 309.29,959.25 309.53,959.2 309.77,959.3 310.01,959.26 310.25,959.24 310.49,959.35 310.73,959.38 310.96,959.37 311.2,959.46 311.44,959.47 311.68,959.51 311.92,959.56 312.16,959.54 312.4,959.59 312.63,959.53 312.87,959.52 313.11,959.54 313.35,959.48 313.59,959.44 313.83,959.43 314.07,959.45 314.3,959.51 314.54,959.45 314.78,959.44 315.02,959.55 315.26,959.59 315.5,959.54 315.74,959.46 315.97,959.43 316.21,959.46 316.45,959.48 316.69,959.44 316.93,959.48 317.17,959.5 317.41,959.63 317.64,959.74 317.88,959.79 318.12,959.76 318.36,959.75 318.6,959.73 318.84,959.69 319.08,959.68 319.31,959.57 319.55,959.55 319.79,959.55 320.03,959.62 320.27,959.56 320.51,959.61 320.75,959.58 320.98,959.56 321.22,959.46 321.46,959.48 321.7,959.37 321.94,959.33 322.18,959.33 322.42,959.23 322.65,959.23 322.89,959.33 323.13,959.25 323.37,959.34 323.61,959.45 323.85,959.49 324.09,959.56 324.32,959.52 324.56,959.64 324.8,959.65 325.04,959.65 325.28,959.58 325.52,959.49 325.76,959.5 325.99,959.57 326.23,959.41 326.47,959.46 326.71,959.48 326.95,959.52 327.19,959.54 327.43,959.53 327.66,959.58 327.9,959.59 328.14,959.59 328.38,959.59 328.62,959.65 328.86,959.71 329.1,959.67 329.33,959.63 329.57,959.67 329.81,959.68 330.05,959.64 330.29,959.53 330.53,959.49 330.77,959.53 331,959.5 331.24,959.56 331.48,959.57 331.72,959.62 331.96,959.66 332.2,959.63 332.44,959.6 332.67,959.61 332.91,959.61 333.15,959.6 333.39,959.48 333.63,959.47 333.87,959.44 334.11,959.44 334.34,959.38 334.58,959.35 334.82,959.41 335.06,959.53 335.3,959.6 335.54,959.68 335.78,959.73 336.01,959.79 336.25,959.76 336.49,959.67 336.73,959.55 336.97,959.49 337.21,959.57 337.45,959.53 337.68,959.52 337.92,959.46 338.16,959.47 338.4,959.52 338.64,959.51 338.88,959.38 339.12,959.34 339.35,959.45 339.59,959.51 339.83,959.51 340.07,959.57 340.31,959.54 340.55,959.56 340.79,959.6 341.02,959.5 341.26,959.49 341.5,959.51 341.74,959.47 341.98,959.5 342.22,959.52 342.46,959.52 342.69,959.57 342.93,959.58 343.17,959.57 343.41,959.61 343.65,959.61 343.89,959.63 344.13,959.69 344.36,959.67 344.6,959.66 344.84,959.75 345.08,959.74 345.32,959.76 345.56,959.82 345.8,959.81 346.03,959.78 346.27,959.71 346.51,959.62 346.75,959.61 346.99,959.63 347.23,959.63 347.47,959.61 347.7,959.67 347.94,959.72 348.18,959.63 348.42,959.65 348.66,959.63 348.9,959.53 349.14,959.56 349.37,959.45 349.61,959.44 349.85,959.51 350.09,959.47 350.33,959.42 350.57,959.48 350.81,959.42 351.04,959.48 351.28,959.49 351.52,959.55 351.76,959.6 352,959.62 352.24,959.64 352.48,959.63 352.71,959.71 352.95,959.75 353.19,959.69 353.43,959.69 353.67,959.67 353.91,959.69 354.15,959.69 354.38,959.59 354.62,959.54 354.86,959.46 355.1,959.51 355.34,959.52 355.58,959.47 355.82,959.44 356.05,959.47 356.29,959.54 356.53,959.62 356.77,959.59 357.01,959.62 357.25,959.64 357.49,959.69 357.72,959.8 357.96,959.72 358.2,959.79 358.44,959.75 358.68,959.71 358.92,959.69 359.16,959.64 359.39,959.59 359.63,959.63 359.87,959.58 360.11,959.56 360.35,959.63 360.59,959.63 360.83,959.64 361.06,959.52 361.3,959.47 361.54,959.51 361.78,959.57 362.02,959.47 362.26,959.5 362.5,959.58 362.73,959.65 362.97,959.69 363.21,959.65 363.45,959.59 363.69,959.7 363.93,959.75 364.17,959.65 364.4,959.75 364.64,959.78 364.88,959.82 365.12,959.87 365.36,959.85 365.6,959.78 365.84,959.79 366.07,959.71 366.31,959.7 366.55,959.69 366.79,959.65 367.03,959.71 367.27,959.79 367.51,959.84 367.74,959.88 367.98,959.82 368.22,959.74 368.46,959.85 368.7,959.78 368.94,959.76 369.18,959.71 369.41,959.73 369.65,959.79 369.89,959.84 370.13,959.71 370.37,959.65 370.61,959.62 370.85,959.65 371.08,959.56 371.32,959.6 371.56,959.62 371.8,959.59 372.04,959.56 372.28,959.5 372.52,959.51 372.75,959.54 372.99,959.5 373.23,959.55 373.47,959.56 373.71,959.61 373.95,959.67 374.19,959.63 374.42,959.69 374.66,959.6 374.9,959.52 375.14,959.58 375.38,959.65 375.62,959.6 375.86,959.58 376.09,959.52 376.33,959.6 376.57,959.61 376.81,959.62 377.05,959.55 377.29,959.54 377.53,959.62 377.76,959.61 378,959.56 378.24,959.56 378.48,959.56 378.72,959.58 378.96,959.6 379.2,959.62 379.43,959.69 379.67,959.74 379.91,959.67 380.15,959.72 380.39,959.75 380.63,959.73 380.87,959.65 381.1,959.63 381.34,959.64 381.58,959.77 381.82,959.73 382.06,959.68 382.3,959.68 382.54,959.69 382.77,959.66 383.01,959.6 383.25,959.55 383.49,959.6 383.73,959.57 383.97,959.53 384.21,959.53 384.44,959.64 384.68,959.72 384.92,959.64 385.16,959.51 385.4,959.58 385.64,959.63 385.88,959.69 386.11,959.56 386.35,959.53 386.59,959.64 386.83,959.78 387.07,959.72 387.31,959.77 387.55,959.72 387.78,959.68 388.02,959.66 388.26,959.55 388.5,959.39 388.74,959.39 388.98,959.32 389.22,959.31 389.45,959.38 389.69,959.46 389.93,959.48 390.17,959.57 390.41,959.62 390.65,959.62 390.89,959.7 391.12,959.7 391.36,959.6 391.6,959.72 391.84,959.7 392.08,959.72 392.32,959.78 392.56,959.74 392.79,959.82 393.03,959.85 393.27,959.78 393.51,959.82 393.75,959.83 393.99,959.85 394.23,959.84 394.46,959.77 394.7,959.72 394.94,959.66 395.18,959.62 395.42,959.56 395.66,959.57 395.9,959.66 396.13,959.66 396.37,959.71 396.61,959.8 396.85,959.85 397.09,959.91 397.33,959.89 397.57,959.78 397.8,959.79 398.04,959.78 398.28,959.75 398.52,959.65 398.76,959.64 399,959.66 399.24,959.74 399.47,959.73 399.71,959.76 399.95,959.74 400.19,959.75 400.43,959.77 400.67,959.73 400.91,959.63 401.14,959.61 401.38,959.51 401.62,959.54 401.86,959.56 402.1,959.59 402.34,959.61 402.58,959.59 402.81,959.52 403.05,959.6 403.29,959.66 403.53,959.68 403.77,959.58 404.01,959.54 404.25,959.6 404.48,959.68 404.72,959.7 404.96,959.62 405.2,959.65 405.44,959.64 405.68,959.62 405.92,959.64 406.15,959.66 406.39,959.63 406.63,959.61 406.87,959.61 407.11,959.62 407.35,959.62 407.59,959.61 407.82,959.61 408.06,959.58 408.3,959.6 408.54,959.59 408.78,959.61 409.02,959.7 409.26,959.72 409.49,959.72 409.73,959.7 409.97,959.74 410.21,959.74 410.45,959.85 410.69,959.81 410.93,959.78 411.16,959.77 411.4,959.81 411.64,959.86 411.88,959.86 412.12,959.76 412.36,959.63 412.6,959.59 412.83,959.6 413.07,959.58 413.31,959.52 413.55,959.54 413.79,959.53 414.03,959.61 414.27,959.63 414.5,959.56 414.74,959.65 414.98,959.64 415.22,959.58 415.46,959.64 415.7,959.71 415.94,959.68 416.17,959.74 416.41,959.65 416.65,959.66 416.89,959.7 417.13,959.63 417.37,959.6 417.61,959.65 417.84,959.67 418.08,959.72 418.32,959.68 418.56,959.7 418.8,959.66 419.04,959.7 419.28,959.63 419.51,959.68 419.75,959.6 419.99,959.63 420.23,959.61 420.47,959.66 420.71,959.66 420.95,959.74 421.18,959.62 421.42,959.69 421.66,959.62 421.9,959.64 422.14,959.64 422.38,959.54 422.62,959.53 422.85,959.55 423.09,959.51 423.33,959.52 423.57,959.43 423.81,959.4 424.05,959.47 424.29,959.52 424.52,959.54 424.76,959.63 425,959.61 425.24,959.69 425.48,959.73 425.72,959.74 425.96,959.65 426.19,959.67 426.43,959.67 426.67,959.7 426.91,959.67 427.15,959.58 427.39,959.55 427.63,959.52 427.86,959.5 428.1,959.45 428.34,959.5 428.58,959.6 428.82,959.64 429.06,959.62 429.3,959.72 429.53,959.72 429.77,959.73 430.01,959.79 430.25,959.68 430.49,959.73 430.73,959.79 430.97,959.78 431.2,959.81 431.44,959.79 431.68,959.73 431.92,959.76" fill="none" stroke="#e0112f" stroke-width="2.3" stroke-dasharray="2.2 2.0" stroke-linejoin="round"/>
<defs><clipPath id="clipX"><rect x="-48.9" y="-33.2" width="97.8" height="66.4"/></clipPath><g id="xtal" clip-path="url(#clipX)">
<rect x="-48.9" y="-33.2" width="97.8" height="66.4" fill="#3f7ce4" stroke="none" stroke-width="1"/>
<circle cx="-46.83" cy="-30.77" r="6.1" fill="#4a8bf4"/>
<circle cx="-46.83" cy="-15.44" r="6.1" fill="#4a8bf4"/>
<circle cx="-46.83" cy="-0.11" r="6.1" fill="#4a8bf4"/>
<circle cx="-46.83" cy="15.22" r="6.1" fill="#4a8bf4"/>
<circle cx="-46.83" cy="30.55" r="6.1" fill="#4a8bf4"/>
<circle cx="-46.83" cy="45.88" r="6.1" fill="#4a8bf4"/>
<circle cx="-31.07" cy="-30.77" r="6.1" fill="#4a8bf4"/>
<circle cx="-31.07" cy="-15.44" r="6.1" fill="#4a8bf4"/>
<circle cx="-31.07" cy="-0.11" r="6.1" fill="#4a8bf4"/>
<circle cx="-31.07" cy="15.22" r="6.1" fill="#4a8bf4"/>
<circle cx="-31.07" cy="30.55" r="6.1" fill="#4a8bf4"/>
<circle cx="-31.07" cy="45.88" r="6.1" fill="#4a8bf4"/>
<circle cx="-15.31" cy="-30.77" r="6.1" fill="#4a8bf4"/>
<circle cx="-15.31" cy="-15.44" r="6.1" fill="#4a8bf4"/>
<circle cx="-15.31" cy="-0.11" r="6.1" fill="#4a8bf4"/>
<circle cx="-15.31" cy="15.22" r="6.1" fill="#4a8bf4"/>
<circle cx="-15.31" cy="30.55" r="6.1" fill="#4a8bf4"/>
<circle cx="-15.31" cy="45.88" r="6.1" fill="#4a8bf4"/>
<circle cx="0.45" cy="-30.77" r="6.1" fill="#4a8bf4"/>
<circle cx="0.45" cy="-15.44" r="6.1" fill="#4a8bf4"/>
<circle cx="0.45" cy="-0.11" r="6.1" fill="#4a8bf4"/>
<circle cx="0.45" cy="15.22" r="6.1" fill="#4a8bf4"/>
<circle cx="0.45" cy="30.55" r="6.1" fill="#4a8bf4"/>
<circle cx="0.45" cy="45.88" r="6.1" fill="#4a8bf4"/>
<circle cx="16.21" cy="-30.77" r="6.1" fill="#4a8bf4"/>
<circle cx="16.21" cy="-15.44" r="6.1" fill="#4a8bf4"/>
<circle cx="16.21" cy="-0.11" r="6.1" fill="#4a8bf4"/>
<circle cx="16.21" cy="15.22" r="6.1" fill="#4a8bf4"/>
<circle cx="16.21" cy="30.55" r="6.1" fill="#4a8bf4"/>
<circle cx="16.21" cy="45.88" r="6.1" fill="#4a8bf4"/>
<circle cx="31.97" cy="-30.77" r="6.1" fill="#4a8bf4"/>
<circle cx="31.97" cy="-15.44" r="6.1" fill="#4a8bf4"/>
<circle cx="31.97" cy="-0.11" r="6.1" fill="#4a8bf4"/>
<circle cx="31.97" cy="15.22" r="6.1" fill="#4a8bf4"/>
<circle cx="31.97" cy="30.55" r="6.1" fill="#4a8bf4"/>
<circle cx="31.97" cy="45.88" r="6.1" fill="#4a8bf4"/>
<circle cx="47.73" cy="-30.77" r="6.1" fill="#4a8bf4"/>
<circle cx="47.73" cy="-15.44" r="6.1" fill="#4a8bf4"/>
<circle cx="47.73" cy="-0.11" r="6.1" fill="#4a8bf4"/>
<circle cx="47.73" cy="15.22" r="6.1" fill="#4a8bf4"/>
<circle cx="47.73" cy="30.55" r="6.1" fill="#4a8bf4"/>
<circle cx="47.73" cy="45.88" r="6.1" fill="#4a8bf4"/>
<circle cx="63.49" cy="-30.77" r="6.1" fill="#4a8bf4"/>
<circle cx="63.49" cy="-15.44" r="6.1" fill="#4a8bf4"/>
<circle cx="63.49" cy="-0.11" r="6.1" fill="#4a8bf4"/>
<circle cx="63.49" cy="15.22" r="6.1" fill="#4a8bf4"/>
<circle cx="63.49" cy="30.55" r="6.1" fill="#4a8bf4"/>
<circle cx="63.49" cy="45.88" r="6.1" fill="#4a8bf4"/>
<line x1="-38.95" y1="-33.2" x2="-38.95" y2="33.2" stroke="#58e062" stroke-width="2.7"/>
<line x1="-23.19" y1="-33.2" x2="-23.19" y2="33.2" stroke="#58e062" stroke-width="2.7"/>
<line x1="-7.43" y1="-33.2" x2="-7.43" y2="33.2" stroke="#58e062" stroke-width="2.7"/>
<line x1="8.33" y1="-33.2" x2="8.33" y2="33.2" stroke="#58e062" stroke-width="2.7"/>
<line x1="24.09" y1="-33.2" x2="24.09" y2="33.2" stroke="#58e062" stroke-width="2.7"/>
<line x1="39.85" y1="-33.2" x2="39.85" y2="33.2" stroke="#58e062" stroke-width="2.7"/>
<line x1="-48.9" y1="-23.1" x2="48.9" y2="-23.1" stroke="#58e062" stroke-width="2.7"/>
<line x1="-48.9" y1="-7.77" x2="48.9" y2="-7.77" stroke="#58e062" stroke-width="2.7"/>
<line x1="-48.9" y1="7.56" x2="48.9" y2="7.56" stroke="#58e062" stroke-width="2.7"/>
<line x1="-48.9" y1="22.89" x2="48.9" y2="22.89" stroke="#58e062" stroke-width="2.7"/>
<circle cx="-38.95" cy="-23.1" r="5.0" fill="#a58c92" opacity="0.85"/>
<circle cx="-38.95" cy="-23.1" r="4.0" fill="#4c3e10"/>
<circle cx="-38.95" cy="-23.1" r="1.7" fill="#c6ce28"/>
<circle cx="-38.95" cy="-7.77" r="5.0" fill="#a58c92" opacity="0.85"/>
<circle cx="-38.95" cy="-7.77" r="4.0" fill="#4c3e10"/>
<circle cx="-38.95" cy="-7.77" r="1.7" fill="#c6ce28"/>
<circle cx="-38.95" cy="7.56" r="5.0" fill="#a58c92" opacity="0.85"/>
<circle cx="-38.95" cy="7.56" r="4.0" fill="#4c3e10"/>
<circle cx="-38.95" cy="7.56" r="1.7" fill="#c6ce28"/>
<circle cx="-38.95" cy="22.89" r="5.0" fill="#a58c92" opacity="0.85"/>
<circle cx="-38.95" cy="22.89" r="4.0" fill="#4c3e10"/>
<circle cx="-38.95" cy="22.89" r="1.7" fill="#c6ce28"/>
<circle cx="-23.19" cy="-23.1" r="5.0" fill="#a58c92" opacity="0.85"/>
<circle cx="-23.19" cy="-23.1" r="4.0" fill="#4c3e10"/>
<circle cx="-23.19" cy="-23.1" r="1.7" fill="#c6ce28"/>
<circle cx="-23.19" cy="-7.77" r="5.0" fill="#a58c92" opacity="0.85"/>
<circle cx="-23.19" cy="-7.77" r="4.0" fill="#4c3e10"/>
<circle cx="-23.19" cy="-7.77" r="1.7" fill="#c6ce28"/>
<circle cx="-23.19" cy="7.56" r="5.0" fill="#a58c92" opacity="0.85"/>
<circle cx="-23.19" cy="7.56" r="4.0" fill="#4c3e10"/>
<circle cx="-23.19" cy="7.56" r="1.7" fill="#c6ce28"/>
<circle cx="-23.19" cy="22.89" r="5.0" fill="#a58c92" opacity="0.85"/>
<circle cx="-23.19" cy="22.89" r="4.0" fill="#4c3e10"/>
<circle cx="-23.19" cy="22.89" r="1.7" fill="#c6ce28"/>
<circle cx="-7.43" cy="-23.1" r="5.0" fill="#a58c92" opacity="0.85"/>
<circle cx="-7.43" cy="-23.1" r="4.0" fill="#4c3e10"/>
<circle cx="-7.43" cy="-23.1" r="1.7" fill="#c6ce28"/>
<circle cx="-7.43" cy="-7.77" r="5.0" fill="#a58c92" opacity="0.85"/>
<circle cx="-7.43" cy="-7.77" r="4.0" fill="#4c3e10"/>
<circle cx="-7.43" cy="-7.77" r="1.7" fill="#c6ce28"/>
<circle cx="-7.43" cy="7.56" r="5.0" fill="#a58c92" opacity="0.85"/>
<circle cx="-7.43" cy="7.56" r="4.0" fill="#4c3e10"/>
<circle cx="-7.43" cy="7.56" r="1.7" fill="#c6ce28"/>
<circle cx="-7.43" cy="22.89" r="5.0" fill="#a58c92" opacity="0.85"/>
<circle cx="-7.43" cy="22.89" r="4.0" fill="#4c3e10"/>
<circle cx="-7.43" cy="22.89" r="1.7" fill="#c6ce28"/>
<circle cx="8.33" cy="-23.1" r="5.0" fill="#a58c92" opacity="0.85"/>
<circle cx="8.33" cy="-23.1" r="4.0" fill="#4c3e10"/>
<circle cx="8.33" cy="-23.1" r="1.7" fill="#c6ce28"/>
<circle cx="8.33" cy="-7.77" r="5.0" fill="#a58c92" opacity="0.85"/>
<circle cx="8.33" cy="-7.77" r="4.0" fill="#4c3e10"/>
<circle cx="8.33" cy="-7.77" r="1.7" fill="#c6ce28"/>
<circle cx="8.33" cy="7.56" r="5.0" fill="#a58c92" opacity="0.85"/>
<circle cx="8.33" cy="7.56" r="4.0" fill="#4c3e10"/>
<circle cx="8.33" cy="7.56" r="1.7" fill="#c6ce28"/>
<circle cx="8.33" cy="22.89" r="5.0" fill="#a58c92" opacity="0.85"/>
<circle cx="8.33" cy="22.89" r="4.0" fill="#4c3e10"/>
<circle cx="8.33" cy="22.89" r="1.7" fill="#c6ce28"/>
<circle cx="24.09" cy="-23.1" r="5.0" fill="#a58c92" opacity="0.85"/>
<circle cx="24.09" cy="-23.1" r="4.0" fill="#4c3e10"/>
<circle cx="24.09" cy="-23.1" r="1.7" fill="#c6ce28"/>
<circle cx="24.09" cy="-7.77" r="5.0" fill="#a58c92" opacity="0.85"/>
<circle cx="24.09" cy="-7.77" r="4.0" fill="#4c3e10"/>
<circle cx="24.09" cy="-7.77" r="1.7" fill="#c6ce28"/>
<circle cx="24.09" cy="7.56" r="5.0" fill="#a58c92" opacity="0.85"/>
<circle cx="24.09" cy="7.56" r="4.0" fill="#4c3e10"/>
<circle cx="24.09" cy="7.56" r="1.7" fill="#c6ce28"/>
<circle cx="24.09" cy="22.89" r="5.0" fill="#a58c92" opacity="0.85"/>
<circle cx="24.09" cy="22.89" r="4.0" fill="#4c3e10"/>
<circle cx="24.09" cy="22.89" r="1.7" fill="#c6ce28"/>
<circle cx="39.85" cy="-23.1" r="5.0" fill="#a58c92" opacity="0.85"/>
<circle cx="39.85" cy="-23.1" r="4.0" fill="#4c3e10"/>
<circle cx="39.85" cy="-23.1" r="1.7" fill="#c6ce28"/>
<circle cx="39.85" cy="-7.77" r="5.0" fill="#a58c92" opacity="0.85"/>
<circle cx="39.85" cy="-7.77" r="4.0" fill="#4c3e10"/>
<circle cx="39.85" cy="-7.77" r="1.7" fill="#c6ce28"/>
<circle cx="39.85" cy="7.56" r="5.0" fill="#a58c92" opacity="0.85"/>
<circle cx="39.85" cy="7.56" r="4.0" fill="#4c3e10"/>
<circle cx="39.85" cy="7.56" r="1.7" fill="#c6ce28"/>
<circle cx="39.85" cy="22.89" r="5.0" fill="#a58c92" opacity="0.85"/>
<circle cx="39.85" cy="22.89" r="4.0" fill="#4c3e10"/>
<circle cx="39.85" cy="22.89" r="1.7" fill="#c6ce28"/>
<rect x="-48.9" y="30.2" width="7" height="3" fill="#1c3a70"/>
</g></defs>
<rect x="98.4" y="740.6" width="332.4" height="221" fill="none" stroke="#1a1a1a" stroke-width="1.7"/>
<use href="#xtal" transform="translate(375.8 814.1)"/>
<use href="#xtal" transform="translate(370.2 912.8) rotate(45) scale(1.03)"/>
<line x1="110.08" y1="740.6" x2="110.08" y2="744.8" stroke="#1a1a1a" stroke-width="1.5"/>
<line x1="110.08" y1="961.6" x2="110.08" y2="957.4" stroke="#1a1a1a" stroke-width="1.5"/>
<line x1="122" y1="740.6" x2="122" y2="746.8" stroke="#1a1a1a" stroke-width="1.5"/>
<line x1="122" y1="961.6" x2="122" y2="955.4" stroke="#1a1a1a" stroke-width="1.5"/>
<line x1="133.92" y1="740.6" x2="133.92" y2="744.8" stroke="#1a1a1a" stroke-width="1.5"/>
<line x1="133.92" y1="961.6" x2="133.92" y2="957.4" stroke="#1a1a1a" stroke-width="1.5"/>
<line x1="145.84" y1="740.6" x2="145.84" y2="744.8" stroke="#1a1a1a" stroke-width="1.5"/>
<line x1="145.84" y1="961.6" x2="145.84" y2="957.4" stroke="#1a1a1a" stroke-width="1.5"/>
<line x1="157.76" y1="740.6" x2="157.76" y2="744.8" stroke="#1a1a1a" stroke-width="1.5"/>
<line x1="157.76" y1="961.6" x2="157.76" y2="957.4" stroke="#1a1a1a" stroke-width="1.5"/>
<line x1="169.68" y1="740.6" x2="169.68" y2="746.8" stroke="#1a1a1a" stroke-width="1.5"/>
<line x1="169.68" y1="961.6" x2="169.68" y2="955.4" stroke="#1a1a1a" stroke-width="1.5"/>
<line x1="181.6" y1="740.6" x2="181.6" y2="744.8" stroke="#1a1a1a" stroke-width="1.5"/>
<line x1="181.6" y1="961.6" x2="181.6" y2="957.4" stroke="#1a1a1a" stroke-width="1.5"/>
<line x1="193.52" y1="740.6" x2="193.52" y2="744.8" stroke="#1a1a1a" stroke-width="1.5"/>
<line x1="193.52" y1="961.6" x2="193.52" y2="957.4" stroke="#1a1a1a" stroke-width="1.5"/>
<line x1="205.44" y1="740.6" x2="205.44" y2="744.8" stroke="#1a1a1a" stroke-width="1.5"/>
<line x1="205.44" y1="961.6" x2="205.44" y2="957.4" stroke="#1a1a1a" stroke-width="1.5"/>
<line x1="217.36" y1="740.6" x2="217.36" y2="746.8" stroke="#1a1a1a" stroke-width="1.5"/>
<line x1="217.36" y1="961.6" x2="217.36" y2="955.4" stroke="#1a1a1a" stroke-width="1.5"/>
<line x1="229.28" y1="740.6" x2="229.28" y2="744.8" stroke="#1a1a1a" stroke-width="1.5"/>
<line x1="229.28" y1="961.6" x2="229.28" y2="957.4" stroke="#1a1a1a" stroke-width="1.5"/>
<line x1="241.2" y1="740.6" x2="241.2" y2="744.8" stroke="#1a1a1a" stroke-width="1.5"/>
<line x1="241.2" y1="961.6" x2="241.2" y2="957.4" stroke="#1a1a1a" stroke-width="1.5"/>
<line x1="253.12" y1="740.6" x2="253.12" y2="744.8" stroke="#1a1a1a" stroke-width="1.5"/>
<line x1="253.12" y1="961.6" x2="253.12" y2="957.4" stroke="#1a1a1a" stroke-width="1.5"/>
<line x1="265.04" y1="740.6" x2="265.04" y2="746.8" stroke="#1a1a1a" stroke-width="1.5"/>
<line x1="265.04" y1="961.6" x2="265.04" y2="955.4" stroke="#1a1a1a" stroke-width="1.5"/>
<line x1="276.96" y1="740.6" x2="276.96" y2="744.8" stroke="#1a1a1a" stroke-width="1.5"/>
<line x1="276.96" y1="961.6" x2="276.96" y2="957.4" stroke="#1a1a1a" stroke-width="1.5"/>
<line x1="288.88" y1="740.6" x2="288.88" y2="744.8" stroke="#1a1a1a" stroke-width="1.5"/>
<line x1="288.88" y1="961.6" x2="288.88" y2="957.4" stroke="#1a1a1a" stroke-width="1.5"/>
<line x1="300.8" y1="740.6" x2="300.8" y2="744.8" stroke="#1a1a1a" stroke-width="1.5"/>
<line x1="300.8" y1="961.6" x2="300.8" y2="957.4" stroke="#1a1a1a" stroke-width="1.5"/>
<line x1="312.72" y1="740.6" x2="312.72" y2="746.8" stroke="#1a1a1a" stroke-width="1.5"/>
<line x1="312.72" y1="961.6" x2="312.72" y2="955.4" stroke="#1a1a1a" stroke-width="1.5"/>
<line x1="324.64" y1="740.6" x2="324.64" y2="744.8" stroke="#1a1a1a" stroke-width="1.5"/>
<line x1="324.64" y1="961.6" x2="324.64" y2="957.4" stroke="#1a1a1a" stroke-width="1.5"/>
<line x1="336.56" y1="740.6" x2="336.56" y2="744.8" stroke="#1a1a1a" stroke-width="1.5"/>
<line x1="336.56" y1="961.6" x2="336.56" y2="957.4" stroke="#1a1a1a" stroke-width="1.5"/>
<line x1="348.48" y1="740.6" x2="348.48" y2="744.8" stroke="#1a1a1a" stroke-width="1.5"/>
<line x1="348.48" y1="961.6" x2="348.48" y2="957.4" stroke="#1a1a1a" stroke-width="1.5"/>
<line x1="360.4" y1="740.6" x2="360.4" y2="746.8" stroke="#1a1a1a" stroke-width="1.5"/>
<line x1="360.4" y1="961.6" x2="360.4" y2="955.4" stroke="#1a1a1a" stroke-width="1.5"/>
<line x1="372.32" y1="740.6" x2="372.32" y2="744.8" stroke="#1a1a1a" stroke-width="1.5"/>
<line x1="372.32" y1="961.6" x2="372.32" y2="957.4" stroke="#1a1a1a" stroke-width="1.5"/>
<line x1="384.24" y1="740.6" x2="384.24" y2="744.8" stroke="#1a1a1a" stroke-width="1.5"/>
<line x1="384.24" y1="961.6" x2="384.24" y2="957.4" stroke="#1a1a1a" stroke-width="1.5"/>
<line x1="396.16" y1="740.6" x2="396.16" y2="744.8" stroke="#1a1a1a" stroke-width="1.5"/>
<line x1="396.16" y1="961.6" x2="396.16" y2="957.4" stroke="#1a1a1a" stroke-width="1.5"/>
<line x1="408.08" y1="740.6" x2="408.08" y2="746.8" stroke="#1a1a1a" stroke-width="1.5"/>
<line x1="408.08" y1="961.6" x2="408.08" y2="955.4" stroke="#1a1a1a" stroke-width="1.5"/>
<line x1="420" y1="740.6" x2="420" y2="744.8" stroke="#1a1a1a" stroke-width="1.5"/>
<line x1="420" y1="961.6" x2="420" y2="957.4" stroke="#1a1a1a" stroke-width="1.5"/>
<line x1="98.4" y1="797.2" x2="107.9" y2="797.2" stroke="#1a1a1a" stroke-width="1.5"/>
<line x1="430.8" y1="797.2" x2="421.3" y2="797.2" stroke="#1a1a1a" stroke-width="1.5"/>
<text x="93.3" y="801.7" font-size="12.6" font-weight="normal" text-anchor="end" fill="#111">0</text>
<line x1="98.4" y1="761.2" x2="107.9" y2="761.2" stroke="#1a1a1a" stroke-width="1.5"/>
<line x1="430.8" y1="761.2" x2="421.3" y2="761.2" stroke="#1a1a1a" stroke-width="1.5"/>
<text x="93.3" y="765.7" font-size="12.6" font-weight="normal" text-anchor="end" fill="#111">1000</text>
<line x1="98.4" y1="851.5" x2="107.9" y2="851.5" stroke="#1a1a1a" stroke-width="1.5"/>
<line x1="430.8" y1="851.5" x2="421.3" y2="851.5" stroke="#1a1a1a" stroke-width="1.5"/>
<text x="93.3" y="856" font-size="12.6" font-weight="normal" text-anchor="end" fill="#111">0</text>
<line x1="98.4" y1="815.5" x2="107.9" y2="815.5" stroke="#1a1a1a" stroke-width="1.5"/>
<line x1="430.8" y1="815.5" x2="421.3" y2="815.5" stroke="#1a1a1a" stroke-width="1.5"/>
<text x="93.3" y="820" font-size="12.6" font-weight="normal" text-anchor="end" fill="#111">1000</text>
<line x1="98.4" y1="905.2" x2="107.9" y2="905.2" stroke="#1a1a1a" stroke-width="1.5"/>
<line x1="430.8" y1="905.2" x2="421.3" y2="905.2" stroke="#1a1a1a" stroke-width="1.5"/>
<text x="93.3" y="909.7" font-size="12.6" font-weight="normal" text-anchor="end" fill="#111">0</text>
<line x1="98.4" y1="869.2" x2="107.9" y2="869.2" stroke="#1a1a1a" stroke-width="1.5"/>
<line x1="430.8" y1="869.2" x2="421.3" y2="869.2" stroke="#1a1a1a" stroke-width="1.5"/>
<text x="93.3" y="873.7" font-size="12.6" font-weight="normal" text-anchor="end" fill="#111">1000</text>
<line x1="98.4" y1="959.8" x2="107.9" y2="959.8" stroke="#1a1a1a" stroke-width="1.5"/>
<line x1="430.8" y1="959.8" x2="421.3" y2="959.8" stroke="#1a1a1a" stroke-width="1.5"/>
<text x="93.3" y="964.3" font-size="12.6" font-weight="normal" text-anchor="end" fill="#111">0</text>
<line x1="98.4" y1="923.8" x2="107.9" y2="923.8" stroke="#1a1a1a" stroke-width="1.5"/>
<line x1="430.8" y1="923.8" x2="421.3" y2="923.8" stroke="#1a1a1a" stroke-width="1.5"/>
<text x="93.3" y="928.3" font-size="12.6" font-weight="normal" text-anchor="end" fill="#111">1000</text>
<text x="122" y="979.4" font-size="12.4" font-weight="normal" text-anchor="middle" fill="#111">20</text>
<text x="169.68" y="979.4" font-size="12.4" font-weight="normal" text-anchor="middle" fill="#111">40</text>
<text x="217.36" y="979.4" font-size="12.4" font-weight="normal" text-anchor="middle" fill="#111">60</text>
<text x="265.04" y="979.4" font-size="12.4" font-weight="normal" text-anchor="middle" fill="#111">80</text>
<text x="312.72" y="979.4" font-size="12.4" font-weight="normal" text-anchor="middle" fill="#111">100</text>
<text x="360.4" y="979.4" font-size="12.4" font-weight="normal" text-anchor="middle" fill="#111">120</text>
<text x="408.08" y="979.4" font-size="12.4" font-weight="normal" text-anchor="middle" fill="#111">140</text>
<text x="39.2" y="758" font-size="24.5" font-weight="bold" text-anchor="start" fill="#000">b</text>
<text x="114.5" y="769.3" font-size="14.6" font-weight="bold" text-anchor="start" fill="#2038ec" textLength="62.5" lengthAdjust="spacingAndGlyphs">VV - 90°</text>
<text x="114.5" y="831.2" font-size="14.6" font-weight="bold" text-anchor="start" fill="#e0112f" textLength="62.5" lengthAdjust="spacingAndGlyphs">HV - 90°</text>
<text x="114.5" y="882.4" font-size="14.6" font-weight="bold" text-anchor="start" fill="#2038ec" textLength="62.5" lengthAdjust="spacingAndGlyphs">VV - 45°</text>
<text x="114.5" y="937.2" font-size="14.6" font-weight="bold" text-anchor="start" fill="#e0112f" textLength="62.5" lengthAdjust="spacingAndGlyphs">HV - 45°</text>
<text x="328.6" y="771.5" font-size="15" textLength="86.5" lengthAdjust="spacingAndGlyphs">(BA)<tspan font-size="10" dy="3.2">2</tspan><tspan dy="-3.2">PbBr</tspan><tspan font-size="10" dy="3.2">4</tspan></text>
<text transform="translate(50.6 864.2) rotate(-90)" font-size="20.5" font-weight="normal" text-anchor="middle" fill="#000" textLength="152.4" lengthAdjust="spacingAndGlyphs">Intensity (counts)</text>
<text x="180" y="1016.6" font-size="19.2" textLength="169" lengthAdjust="spacingAndGlyphs">Raman shift (cm<tspan font-size="12" dy="-7">-1</tspan><tspan dy="7">)</tspan></text>
<defs><filter id="hblur" x="-2%" y="-2%" width="104%" height="104%"><feGaussianBlur stdDeviation="0.55 0.4"/></filter></defs>
<rect x="509.5" y="452.8" width="282.6" height="218.2" fill="#000" stroke="none" stroke-width="1"/>
<g filter="url(#hblur)">
<rect x="591.87" y="653.02" width="1.6" height="18.28" fill="#3a0404" stroke="none" stroke-width="1"/>
<rect x="591.87" y="634.93" width="1.6" height="18.38" fill="#3a0404" stroke="none" stroke-width="1"/>
<rect x="619.48" y="653.02" width="3" height="18.28" fill="#ff9a10" stroke="none" stroke-width="1"/>
<rect x="619.48" y="634.93" width="3" height="18.38" fill="#ff9a10" stroke="none" stroke-width="1"/>
<rect x="619.48" y="616.85" width="3" height="18.38" fill="#ff9a10" stroke="none" stroke-width="1"/>
<rect x="619.48" y="598.77" width="3" height="18.38" fill="#ff9a10" stroke="none" stroke-width="1"/>
<rect x="619.48" y="580.68" width="3" height="18.38" fill="#ff9a10" stroke="none" stroke-width="1"/>
<rect x="619.48" y="562.6" width="3" height="18.38" fill="#e01212" stroke="none" stroke-width="1"/>
<rect x="619.48" y="544.52" width="3" height="18.38" fill="#e01212" stroke="none" stroke-width="1"/>
<rect x="619.48" y="526.43" width="3" height="18.38" fill="#e01212" stroke="none" stroke-width="1"/>
<rect x="619.48" y="508.35" width="3" height="18.38" fill="#e01212" stroke="none" stroke-width="1"/>
<rect x="619.48" y="490.27" width="3" height="18.38" fill="#e01212" stroke="none" stroke-width="1"/>
<rect x="619.48" y="472.18" width="3" height="18.38" fill="#e01212" stroke="none" stroke-width="1"/>
<rect x="619.48" y="454.1" width="3" height="18.38" fill="#e01212" stroke="none" stroke-width="1"/>
<rect x="636.32" y="653.02" width="3.3" height="18.28" fill="#ff9a10" stroke="none" stroke-width="1"/>
<rect x="636.32" y="634.93" width="3.3" height="18.38" fill="#ff9a10" stroke="none" stroke-width="1"/>
<rect x="636.32" y="616.85" width="3.3" height="18.38" fill="#e01212" stroke="none" stroke-width="1"/>
<rect x="636.32" y="598.77" width="3.3" height="18.38" fill="#e01212" stroke="none" stroke-width="1"/>
<rect x="636.32" y="580.68" width="3.3" height="18.38" fill="#e01212" stroke="none" stroke-width="1"/>
<rect x="636.32" y="562.6" width="3.3" height="18.38" fill="#e01212" stroke="none" stroke-width="1"/>
<rect x="636.32" y="544.52" width="3.3" height="18.38" fill="#e01212" stroke="none" stroke-width="1"/>
<rect x="636.32" y="526.43" width="3.3" height="18.38" fill="#e01212" stroke="none" stroke-width="1"/>
<rect x="636.32" y="508.35" width="3.3" height="18.38" fill="#e01212" stroke="none" stroke-width="1"/>
<rect x="636.32" y="490.27" width="3.3" height="18.38" fill="#e01212" stroke="none" stroke-width="1"/>
<rect x="636.32" y="472.18" width="3.3" height="18.38" fill="#e01212" stroke="none" stroke-width="1"/>
<rect x="636.32" y="454.1" width="3.3" height="18.38" fill="#e01212" stroke="none" stroke-width="1"/>
<rect x="669.58" y="653.02" width="4.4" height="18.28" fill="#ffd21c" stroke="none" stroke-width="1"/>
<rect x="669.8" y="634.93" width="3.96" height="18.38" fill="#ff5a10" stroke="none" stroke-width="1"/>
<rect x="670.68" y="616.85" width="2.2" height="18.38" fill="#3a0404" stroke="none" stroke-width="1"/>
<rect x="670.68" y="598.77" width="2.2" height="18.38" fill="#3a0404" stroke="none" stroke-width="1"/>
<rect x="670.02" y="580.68" width="3.52" height="18.38" fill="#e01212" stroke="none" stroke-width="1"/>
<rect x="669.58" y="562.6" width="4.4" height="18.38" fill="#ffb418" stroke="none" stroke-width="1"/>
<rect x="669.58" y="544.52" width="4.4" height="18.38" fill="#ffd21c" stroke="none" stroke-width="1"/>
<rect x="669.58" y="526.43" width="4.4" height="18.38" fill="#ffb418" stroke="none" stroke-width="1"/>
<rect x="670.57" y="508.35" width="2.42" height="18.38" fill="#8c0a0a" stroke="none" stroke-width="1"/>
<rect x="670.57" y="490.27" width="2.42" height="18.38" fill="#8c0a0a" stroke="none" stroke-width="1"/>
<rect x="670.13" y="472.18" width="3.3" height="18.38" fill="#ff5a10" stroke="none" stroke-width="1"/>
<rect x="669.58" y="454.1" width="4.4" height="18.38" fill="#ffd21c" stroke="none" stroke-width="1"/>
<rect x="758.36" y="653.02" width="5.2" height="18.28" fill="#ff9a10" stroke="none" stroke-width="1"/>
<rect x="758.49" y="634.93" width="4.94" height="18.38" fill="#e01212" stroke="none" stroke-width="1"/>
<rect x="759.66" y="580.68" width="2.6" height="18.38" fill="#8c0a0a" stroke="none" stroke-width="1"/>
<rect x="758.36" y="562.6" width="5.2" height="18.38" fill="#ff3a10" stroke="none" stroke-width="1"/>
<rect x="758.36" y="544.52" width="5.2" height="18.38" fill="#ff3a10" stroke="none" stroke-width="1"/>
<rect x="758.36" y="526.43" width="5.2" height="18.38" fill="#e01212" stroke="none" stroke-width="1"/>
<rect x="759.14" y="490.27" width="3.64" height="18.38" fill="#1c0202" stroke="none" stroke-width="1"/>
<rect x="758.88" y="472.18" width="4.16" height="18.38" fill="#3a0404" stroke="none" stroke-width="1"/>
<rect x="758.36" y="454.1" width="5.2" height="18.38" fill="#ff3a10" stroke="none" stroke-width="1"/>
</g>
<line x1="507.2" y1="452.5" x2="507.2" y2="674.2" stroke="#2a2a2a" stroke-width="1.4"/>
<line x1="506.5" y1="673.5" x2="792.6" y2="673.5" stroke="#2a2a2a" stroke-width="1.4"/>
<line x1="508.7" y1="452.8" x2="508.7" y2="672.2" stroke="#c8c8c8" stroke-width="1"/>
<line x1="508.2" y1="672" x2="792.1" y2="672" stroke="#c8c8c8" stroke-width="1"/>
<line x1="496.9" y1="671.1" x2="507.2" y2="671.1" stroke="#2a2a2a" stroke-width="1.7"/>
<text x="492.4" y="675.75" font-size="13" font-weight="normal" text-anchor="end" fill="#111">0</text>
<line x1="496.9" y1="653.02" x2="507.2" y2="653.02" stroke="#2a2a2a" stroke-width="1.7"/>
<text x="492.4" y="657.67" font-size="13" font-weight="normal" text-anchor="end" fill="#111">15</text>
<line x1="496.9" y1="634.93" x2="507.2" y2="634.93" stroke="#2a2a2a" stroke-width="1.7"/>
<text x="492.4" y="639.58" font-size="13" font-weight="normal" text-anchor="end" fill="#111">30</text>
<line x1="496.9" y1="616.85" x2="507.2" y2="616.85" stroke="#2a2a2a" stroke-width="1.7"/>
<text x="492.4" y="621.5" font-size="13" font-weight="normal" text-anchor="end" fill="#111">45</text>
<line x1="496.9" y1="598.77" x2="507.2" y2="598.77" stroke="#2a2a2a" stroke-width="1.7"/>
<text x="492.4" y="603.42" font-size="13" font-weight="normal" text-anchor="end" fill="#111">60</text>
<line x1="496.9" y1="580.68" x2="507.2" y2="580.68" stroke="#2a2a2a" stroke-width="1.7"/>
<text x="492.4" y="585.33" font-size="13" font-weight="normal" text-anchor="end" fill="#111">75</text>
<line x1="496.9" y1="562.6" x2="507.2" y2="562.6" stroke="#2a2a2a" stroke-width="1.7"/>
<text x="492.4" y="567.25" font-size="13" font-weight="normal" text-anchor="end" fill="#111">90</text>
<line x1="496.9" y1="544.52" x2="507.2" y2="544.52" stroke="#2a2a2a" stroke-width="1.7"/>
<text x="492.4" y="549.17" font-size="13" font-weight="normal" text-anchor="end" fill="#111">105</text>
<line x1="496.9" y1="526.43" x2="507.2" y2="526.43" stroke="#2a2a2a" stroke-width="1.7"/>
<text x="492.4" y="531.08" font-size="13" font-weight="normal" text-anchor="end" fill="#111">120</text>
<line x1="496.9" y1="508.35" x2="507.2" y2="508.35" stroke="#2a2a2a" stroke-width="1.7"/>
<text x="492.4" y="513" font-size="13" font-weight="normal" text-anchor="end" fill="#111">135</text>
<line x1="496.9" y1="490.27" x2="507.2" y2="490.27" stroke="#2a2a2a" stroke-width="1.7"/>
<text x="492.4" y="494.92" font-size="13" font-weight="normal" text-anchor="end" fill="#111">150</text>
<line x1="496.9" y1="472.18" x2="507.2" y2="472.18" stroke="#2a2a2a" stroke-width="1.7"/>
<text x="492.4" y="476.83" font-size="13" font-weight="normal" text-anchor="end" fill="#111">165</text>
<line x1="496.9" y1="454.1" x2="507.2" y2="454.1" stroke="#2a2a2a" stroke-width="1.7"/>
<text x="492.4" y="458.75" font-size="13" font-weight="normal" text-anchor="end" fill="#111">180</text>
<line x1="508.7" y1="673.5" x2="508.7" y2="679.5" stroke="#2a2a2a" stroke-width="1.6"/>
<line x1="540.16" y1="673.5" x2="540.16" y2="684" stroke="#2a2a2a" stroke-width="1.6"/>
<line x1="571.61" y1="673.5" x2="571.61" y2="679.5" stroke="#2a2a2a" stroke-width="1.6"/>
<line x1="603.07" y1="673.5" x2="603.07" y2="684" stroke="#2a2a2a" stroke-width="1.6"/>
<line x1="634.52" y1="673.5" x2="634.52" y2="679.5" stroke="#2a2a2a" stroke-width="1.6"/>
<line x1="665.98" y1="673.5" x2="665.98" y2="684" stroke="#2a2a2a" stroke-width="1.6"/>
<line x1="697.44" y1="673.5" x2="697.44" y2="679.5" stroke="#2a2a2a" stroke-width="1.6"/>
<line x1="728.89" y1="673.5" x2="728.89" y2="684" stroke="#2a2a2a" stroke-width="1.6"/>
<line x1="760.35" y1="673.5" x2="760.35" y2="679.5" stroke="#2a2a2a" stroke-width="1.6"/>
<line x1="791.8" y1="673.5" x2="791.8" y2="684" stroke="#2a2a2a" stroke-width="1.6"/>
<text x="540.46" y="699.2" font-size="13" font-weight="normal" text-anchor="middle" fill="#111">20</text>
<text x="603.37" y="699.2" font-size="13" font-weight="normal" text-anchor="middle" fill="#111">40</text>
<text x="666.28" y="699.2" font-size="13" font-weight="normal" text-anchor="middle" fill="#111">60</text>
<text x="729.19" y="699.2" font-size="13" font-weight="normal" text-anchor="middle" fill="#111">80</text>
<text x="792.1" y="699.2" font-size="13" font-weight="normal" text-anchor="middle" fill="#111">100</text>
<text x="520.2" y="483" font-size="25" font-weight="bold" text-anchor="start" fill="#fff">c</text>
<rect x="509.5" y="741.2" width="282.6" height="218.1" fill="#000" stroke="none" stroke-width="1"/>
<g filter="url(#hblur)">
<rect x="671.2" y="923.63" width="2.75" height="18.48" fill="#e01212" stroke="none" stroke-width="1"/>
<rect x="670.07" y="905.45" width="5" height="18.48" fill="#ff9a10" stroke="none" stroke-width="1"/>
<rect x="670.07" y="887.27" width="5" height="18.48" fill="#ff9a10" stroke="none" stroke-width="1"/>
<rect x="671.2" y="869.08" width="2.75" height="18.48" fill="#e01212" stroke="none" stroke-width="1"/>
<rect x="671.32" y="814.53" width="2.5" height="18.48" fill="#3a0404" stroke="none" stroke-width="1"/>
<rect x="670.07" y="796.35" width="5" height="18.48" fill="#ff5a10" stroke="none" stroke-width="1"/>
<rect x="670.07" y="778.17" width="5" height="18.48" fill="#ff5a10" stroke="none" stroke-width="1"/>
<rect x="671.2" y="759.98" width="2.75" height="18.48" fill="#c01010" stroke="none" stroke-width="1"/>
<rect x="759.46" y="923.63" width="3" height="18.48" fill="#c01010" stroke="none" stroke-width="1"/>
<rect x="757.96" y="905.45" width="6" height="18.48" fill="#ff5a10" stroke="none" stroke-width="1"/>
<rect x="757.96" y="887.27" width="6" height="18.48" fill="#ff5a10" stroke="none" stroke-width="1"/>
<rect x="759.46" y="869.08" width="3" height="18.48" fill="#8c0a0a" stroke="none" stroke-width="1"/>
<rect x="759.46" y="814.53" width="3" height="18.48" fill="#2a0303" stroke="none" stroke-width="1"/>
<rect x="757.96" y="796.35" width="6" height="18.48" fill="#ff3a10" stroke="none" stroke-width="1"/>
<rect x="757.96" y="778.17" width="6" height="18.48" fill="#ff3a10" stroke="none" stroke-width="1"/>
<rect x="759.46" y="759.98" width="3" height="18.48" fill="#8c0a0a" stroke="none" stroke-width="1"/>
</g>
<line x1="507.2" y1="740.9" x2="507.2" y2="962.5" stroke="#2a2a2a" stroke-width="1.4"/>
<line x1="506.5" y1="961.8" x2="792.6" y2="961.8" stroke="#2a2a2a" stroke-width="1.4"/>
<line x1="508.7" y1="741.2" x2="508.7" y2="960.5" stroke="#c8c8c8" stroke-width="1"/>
<line x1="508.2" y1="960.3" x2="792.1" y2="960.3" stroke="#c8c8c8" stroke-width="1"/>
<line x1="496.9" y1="960" x2="507.2" y2="960" stroke="#2a2a2a" stroke-width="1.7"/>
<text x="492.4" y="964.65" font-size="13" font-weight="normal" text-anchor="end" fill="#111">0</text>
<line x1="496.9" y1="941.82" x2="507.2" y2="941.82" stroke="#2a2a2a" stroke-width="1.7"/>
<text x="492.4" y="946.47" font-size="13" font-weight="normal" text-anchor="end" fill="#111">15</text>
<line x1="496.9" y1="923.63" x2="507.2" y2="923.63" stroke="#2a2a2a" stroke-width="1.7"/>
<text x="492.4" y="928.28" font-size="13" font-weight="normal" text-anchor="end" fill="#111">30</text>
<line x1="496.9" y1="905.45" x2="507.2" y2="905.45" stroke="#2a2a2a" stroke-width="1.7"/>
<text x="492.4" y="910.1" font-size="13" font-weight="normal" text-anchor="end" fill="#111">45</text>
<line x1="496.9" y1="887.27" x2="507.2" y2="887.27" stroke="#2a2a2a" stroke-width="1.7"/>
<text x="492.4" y="891.92" font-size="13" font-weight="normal" text-anchor="end" fill="#111">60</text>
<line x1="496.9" y1="869.08" x2="507.2" y2="869.08" stroke="#2a2a2a" stroke-width="1.7"/>
<text x="492.4" y="873.73" font-size="13" font-weight="normal" text-anchor="end" fill="#111">75</text>
<line x1="496.9" y1="850.9" x2="507.2" y2="850.9" stroke="#2a2a2a" stroke-width="1.7"/>
<text x="492.4" y="855.55" font-size="13" font-weight="normal" text-anchor="end" fill="#111">90</text>
<line x1="496.9" y1="832.72" x2="507.2" y2="832.72" stroke="#2a2a2a" stroke-width="1.7"/>
<text x="492.4" y="837.37" font-size="13" font-weight="normal" text-anchor="end" fill="#111">105</text>
<line x1="496.9" y1="814.53" x2="507.2" y2="814.53" stroke="#2a2a2a" stroke-width="1.7"/>
<text x="492.4" y="819.18" font-size="13" font-weight="normal" text-anchor="end" fill="#111">120</text>
<line x1="496.9" y1="796.35" x2="507.2" y2="796.35" stroke="#2a2a2a" stroke-width="1.7"/>
<text x="492.4" y="801" font-size="13" font-weight="normal" text-anchor="end" fill="#111">135</text>
<line x1="496.9" y1="778.17" x2="507.2" y2="778.17" stroke="#2a2a2a" stroke-width="1.7"/>
<text x="492.4" y="782.82" font-size="13" font-weight="normal" text-anchor="end" fill="#111">150</text>
<line x1="496.9" y1="759.98" x2="507.2" y2="759.98" stroke="#2a2a2a" stroke-width="1.7"/>
<text x="492.4" y="764.63" font-size="13" font-weight="normal" text-anchor="end" fill="#111">165</text>
<line x1="496.9" y1="741.8" x2="507.2" y2="741.8" stroke="#2a2a2a" stroke-width="1.7"/>
<text x="492.4" y="746.45" font-size="13" font-weight="normal" text-anchor="end" fill="#111">180</text>
<line x1="508.7" y1="961.8" x2="508.7" y2="967.8" stroke="#2a2a2a" stroke-width="1.6"/>
<line x1="540.16" y1="961.8" x2="540.16" y2="972.3" stroke="#2a2a2a" stroke-width="1.6"/>
<line x1="571.61" y1="961.8" x2="571.61" y2="967.8" stroke="#2a2a2a" stroke-width="1.6"/>
<line x1="603.07" y1="961.8" x2="603.07" y2="972.3" stroke="#2a2a2a" stroke-width="1.6"/>
<line x1="634.52" y1="961.8" x2="634.52" y2="967.8" stroke="#2a2a2a" stroke-width="1.6"/>
<line x1="665.98" y1="961.8" x2="665.98" y2="972.3" stroke="#2a2a2a" stroke-width="1.6"/>
<line x1="697.44" y1="961.8" x2="697.44" y2="967.8" stroke="#2a2a2a" stroke-width="1.6"/>
<line x1="728.89" y1="961.8" x2="728.89" y2="972.3" stroke="#2a2a2a" stroke-width="1.6"/>
<line x1="760.35" y1="961.8" x2="760.35" y2="967.8" stroke="#2a2a2a" stroke-width="1.6"/>
<line x1="791.8" y1="961.8" x2="791.8" y2="972.3" stroke="#2a2a2a" stroke-width="1.6"/>
<text x="540.46" y="987.5" font-size="13" font-weight="normal" text-anchor="middle" fill="#111">20</text>
<text x="603.37" y="987.5" font-size="13" font-weight="normal" text-anchor="middle" fill="#111">40</text>
<text x="666.28" y="987.5" font-size="13" font-weight="normal" text-anchor="middle" fill="#111">60</text>
<text x="729.19" y="987.5" font-size="13" font-weight="normal" text-anchor="middle" fill="#111">80</text>
<text x="792.1" y="987.5" font-size="13" font-weight="normal" text-anchor="middle" fill="#111">100</text>
<text x="520.2" y="771.2" font-size="25" font-weight="bold" text-anchor="start" fill="#fff">d</text>
<rect x="515.6" y="492.8" width="41.2" height="72.8" fill="none" stroke="#c8c8c8" stroke-width="1.2"/>
<text x="538.5" y="513.9" font-size="14.5" font-weight="normal" text-anchor="middle" fill="#fff">VV</text>
<line x1="530.4" y1="557.6" x2="530.4" y2="533.5" stroke="#63e6fb" stroke-width="2"/>
<polygon points="530.4,522 534.15,534 526.65,534" fill="#63e6fb"/>
<line x1="545.2" y1="557.6" x2="545.2" y2="533.5" stroke="#63e6fb" stroke-width="2"/>
<polygon points="545.2,522 548.95,534 541.45,534" fill="#63e6fb"/>
<rect x="515.6" y="784.2" width="58.4" height="66.7" fill="none" stroke="#c8c8c8" stroke-width="1.2"/>
<text x="555" y="804.1" font-size="15" font-weight="normal" text-anchor="middle" fill="#fff">HV</text>
<line x1="565.3" y1="838.8" x2="565.3" y2="816" stroke="#63e6fb" stroke-width="2.2"/>
<polygon points="565.3,804.5 569.05,816.5 561.55,816.5" fill="#63e6fb"/>
<line x1="558.8" y1="825.9" x2="532.7" y2="825.9" stroke="#ee1218" stroke-width="2.2"/>
<polygon points="521.2,825.9 533.2,822.65 533.2,829.15" fill="#ee1218"/>
<defs><linearGradient id="cbD" x1="0" y1="0" x2="0" y2="1"><stop offset="0" stop-color="#ffff50"/><stop offset="0.12" stop-color="#ffd820"/><stop offset="0.3" stop-color="#ff8a10"/><stop offset="0.48" stop-color="#f01810"/><stop offset="0.62" stop-color="#a00808"/><stop offset="0.78" stop-color="#300202"/><stop offset="0.9" stop-color="#000"/><stop offset="1" stop-color="#000"/></linearGradient></defs>
<rect x="517.6" y="888.2" width="59.9" height="66.2" fill="#fff" stroke="none" stroke-width="1"/>
<rect x="521.2" y="895" width="10.2" height="52.8" fill="url(#cbD)" stroke="none" stroke-width="1"/>
<line x1="531.4" y1="896.2" x2="539.4" y2="896.2" stroke="#222" stroke-width="1.3"/>
<line x1="531.4" y1="923.6" x2="539.4" y2="923.6" stroke="#222" stroke-width="1.3"/>
<text x="545.2" y="900.6" font-size="12.6" font-weight="normal" text-anchor="start" fill="#111" textLength="28.6" lengthAdjust="spacingAndGlyphs">1000</text>
<text x="545.2" y="928" font-size="12.6" font-weight="normal" text-anchor="start" fill="#111" textLength="21.2" lengthAdjust="spacingAndGlyphs">500</text>
<text transform="translate(459 563) rotate(-90)" font-size="20.5" font-weight="normal" text-anchor="middle" fill="#000" textLength="79" lengthAdjust="spacingAndGlyphs">Angle (°)</text>
<text transform="translate(459 847) rotate(-90)" font-size="20.5" font-weight="normal" text-anchor="middle" fill="#000" textLength="79" lengthAdjust="spacingAndGlyphs">Angle (°)</text>
<text x="575.5" y="726.9" font-size="19.4" textLength="166.5" lengthAdjust="spacingAndGlyphs">Raman shift (cm<tspan font-size="12" dy="-7">-1</tspan><tspan dy="7">)</tspan></text>
<text x="575.5" y="1015.9" font-size="19.4" textLength="166.5" lengthAdjust="spacingAndGlyphs">Raman shift (cm<tspan font-size="12" dy="-7">-1</tspan><tspan dy="7">)</tspan></text>
<text x="-1.8" y="1085" font-size="46" font-weight="normal" text-anchor="start" fill="#000">c)</text>
<polyline points="49.8,1332.37 50.57,1332.18 51.35,1331.59 52.12,1331.3 52.9,1331.1 53.67,1330.78 54.45,1330.3 55.22,1330.42 56,1330.41 56.77,1330.56 57.55,1330.02 58.33,1329.82 59.11,1329.75 59.88,1329.55 60.66,1328.79 61.44,1328.86 62.22,1328.8 63,1329.16 63.78,1328.37 64.56,1328.66 65.34,1328.47 66.12,1328.66 66.91,1328.62 67.69,1328.41 68.47,1327.94 69.25,1327.06 70.04,1326.25 70.82,1326.86 71.6,1326.72 72.39,1327.05 73.17,1326.92 73.96,1326.41 74.75,1326.67 75.53,1325.59 76.32,1325.76 77.11,1325.11 77.9,1326.05 78.69,1326.65 79.47,1326.79 80.26,1326.49 81.05,1325.78 81.84,1325.94 82.63,1325.35 83.42,1324.78 84.21,1323.96 85,1324.19 85.79,1325.27 86.59,1325.79 87.38,1325.42 88.17,1325.22 88.96,1325.11 89.75,1325.2 90.54,1324.61 91.33,1324.41 92.12,1324.2 92.92,1323.61 93.71,1323.71 94.5,1323.7 95.3,1324.4 96.09,1324.06 96.88,1323.44 97.68,1322.97 98.47,1323.51 99.26,1323.9 100.06,1323.58 100.85,1322.64 101.65,1322.37 102.44,1322.48 103.24,1322.41 104.03,1323.1 104.83,1323.04 105.62,1323.36 106.41,1323.27 107.21,1323.74 108,1323.58 108.8,1323.18 109.59,1322.89 110.39,1322.83 111.18,1322.13 111.98,1322.03 112.77,1322.28 113.57,1322.87 114.36,1322.32 115.16,1321.92 115.95,1321.54 116.75,1321.65 117.55,1322.03 118.34,1322.61 119.14,1322.84 119.93,1322.56 120.73,1322.26 121.52,1322.02 122.32,1321.8 123.11,1321.38 123.91,1321.36 124.71,1322.07 125.5,1322.55 126.3,1322.5 127.09,1321.73 127.89,1321.27 128.68,1321.56 129.48,1321.9 130.27,1321.81 131.07,1321.93 131.86,1321.73 132.66,1322.68 133.45,1322.67 134.25,1323.44 135.04,1322.95 135.84,1322.89 136.63,1322.53 137.43,1323.04 138.22,1323.34 139.02,1322.9 139.81,1322.65 140.61,1322.49 141.4,1322.72 142.2,1322.45 143,1322.94 143.79,1322.92 144.59,1322.82 145.39,1322.45 146.18,1322.55 146.98,1322.72 147.78,1322.71 148.57,1322.75 149.37,1322.8 150.16,1322.78 150.96,1322.64 151.76,1322.27 152.55,1321.78 153.35,1321.45 154.14,1321.61 154.93,1321.3 155.73,1320.81 156.52,1320.68 157.31,1320.51 158.1,1320.37 158.89,1320.36 159.68,1320.45 160.47,1321.09 161.26,1320.71 162.05,1320.48 162.84,1319.84 163.64,1319.73 164.43,1319.85 165.23,1319.84 166.02,1319.77 166.81,1319.25 167.6,1319.34 168.39,1318.73 169.17,1318.96 169.95,1318.99 170.73,1319.68 171.5,1320.06 172.27,1319.19 173.03,1318.89 173.79,1318.53 174.54,1319.07 175.29,1318.34 176.05,1317.85 176.83,1317.85 177.6,1317.4 178.38,1317.12 179.16,1316.58 179.93,1316.49 180.69,1316.17 181.44,1315.15 182.18,1314.74 182.9,1313.93 183.6,1313.91 184.28,1313.71 184.92,1313.81 185.54,1313.02 186.12,1312.56 186.67,1312.09 187.19,1312.05 187.71,1311.15 188.22,1310.48 188.71,1309.55 189.2,1309.41 189.67,1308.61 190.12,1308.42 190.55,1307.61 190.96,1306.23 191.35,1304.71 191.71,1304.14 192.04,1303.87 192.34,1303.88 192.61,1303.01 192.85,1302.14 193.08,1301.39 193.31,1300.32 193.52,1299.18 193.73,1298.72 193.93,1297.62 194.13,1297.66 194.32,1296.55 194.5,1296.38 194.67,1294.9 194.84,1294.13 195,1292.86 195.16,1292.17 195.3,1290.96 195.44,1290.83 195.58,1290.52 195.71,1290.07 195.83,1288.9 195.94,1287.96 196.05,1286.57 196.16,1285.81 196.25,1285.25 196.34,1284.71 196.43,1284.16 196.51,1283.02 196.59,1282.14 196.66,1281.22 196.73,1280.54 196.8,1280.11 196.87,1279.36 196.93,1279.15 196.99,1278.11 197.05,1277.19 197.1,1275.57 197.16,1274.84 197.21,1274.32 197.26,1273.62 197.31,1272.8 197.36,1272.01 197.4,1271.4 197.45,1270.46 197.49,1269.74 197.53,1269.01 197.57,1268.49 197.62,1267.75 197.66,1267.27 197.7,1266.24 197.74,1264.94 197.78,1263.88 197.82,1263.15 197.86,1261.94 197.9,1261.43 197.94,1260.68 197.98,1260.67 198.02,1259.14 198.07,1258.72 198.11,1257.53 198.16,1257.05 198.21,1255.45 198.25,1254.77 198.3,1253.94 198.36,1253.51 198.41,1252.89 198.47,1252.19 198.52,1251.74 198.58,1250.67 198.65,1249.56 198.71,1248.47 198.78,1248 198.85,1247.87 198.93,1247.26 199.01,1245.65 199.09,1244.45 199.17,1243.67 199.26,1243.22 199.35,1241.93 199.44,1240.55 199.54,1239.33 199.63,1238.62 199.73,1237.47 199.83,1236.99 199.94,1235.91 200.04,1234.68 200.15,1233.44 200.25,1232.61 200.36,1231.72 200.47,1230.51 200.58,1228.68 200.68,1228.32 200.79,1227.53 200.9,1226.89 201.01,1225.47 201.12,1225.03 201.23,1225.43 201.34,1225.55 201.44,1225.46 201.55,1224.7 201.65,1224.22 201.75,1224.35 201.86,1224.93 201.96,1225.54 202.06,1225.96 202.16,1225.91 202.27,1226.27 202.37,1226.75 202.47,1228.21 202.57,1229.02 202.68,1229.97 202.78,1230.04 202.88,1231 202.99,1231.34 203.09,1231.98 203.19,1232.93 203.3,1234.26 203.4,1235.71 203.51,1236.65 203.62,1237.84 203.72,1238.56 203.83,1239.19 203.94,1239.62 204.05,1240.67 204.16,1242.54 204.27,1243.83 204.38,1244.89 204.49,1245.24 204.6,1246.9 204.72,1247.82 204.83,1248.58 204.95,1248.61 205.05,1249.78 205.16,1250.87 205.26,1251.3 205.36,1251.56 205.46,1252.48 205.57,1253.53 205.67,1254.19 205.78,1255.16 205.89,1256.21 206,1257.42 206.12,1257.78 206.25,1258.41 206.38,1259.06 206.52,1259.52 206.67,1260.32 206.83,1260.86 207,1262.15 207.18,1262.37 207.38,1263.54 207.63,1264.24 207.94,1266.14 208.28,1266.81 208.66,1267.34 209.05,1267.44 209.44,1268.09 209.81,1268.8 210.16,1269.31 210.48,1269.81 210.79,1270.25 211.08,1269.51 211.36,1269.55 211.64,1269 211.91,1268.42 212.18,1266.12 212.44,1264.61 212.71,1263.75 212.99,1262.77 213.28,1261.83 213.57,1260.76 213.88,1260.24 214.2,1259.47 214.55,1258.94 214.91,1258.22 215.3,1257.37 215.71,1256.24 216.17,1255.61 216.69,1255.05 217.28,1254.91 217.91,1254.5 218.59,1253.36 219.29,1252.93 220.01,1252.2 220.75,1252.48 221.48,1252.43 222.21,1252.51 222.91,1251.72 223.66,1250.38 224.52,1250.4 225.42,1250.43 226.28,1250.71 227.03,1250.31 227.6,1249.93 227.9,1249.26 228.06,1248.23 228.21,1246.83 228.34,1245.94 228.47,1245.64 228.59,1245.93 228.71,1245.89 228.82,1245.23 228.92,1244.67 229.01,1244.09 229.1,1243.15 229.18,1242.28 229.26,1240.81 229.33,1240.6 229.4,1239.9 229.46,1239.72 229.52,1239.07 229.58,1238.55 229.63,1237.53 229.68,1236.44 229.73,1234.82 229.78,1234.08 229.82,1233 229.87,1232.05 229.91,1231.42 229.95,1230.26 229.99,1230.04 230.03,1228.61 230.07,1228.2 230.11,1227.48 230.15,1226.45 230.2,1224.79 230.24,1223.46 230.29,1223.07 230.34,1222.53 230.39,1221.5 230.45,1220.53 230.51,1218.95 230.57,1218.09 230.64,1216.69 230.71,1216.79 230.79,1215.96 230.87,1215.24 230.95,1214.19 231.03,1213.08 231.11,1212.48 231.2,1211.42 231.28,1210.77 231.37,1209.55 231.45,1209 231.54,1208.04 231.63,1207.37 231.71,1206.18 231.8,1204.92 231.89,1203.88 231.98,1202.79 232.07,1202.09 232.16,1200.78 232.25,1199.55 232.35,1198.71 232.44,1198.54 232.53,1197.5 232.63,1196.54 232.72,1194.94 232.82,1194.63 232.92,1193.85 233.01,1193.58 233.11,1191.87 233.21,1190.98 233.31,1189.85 233.41,1190.22 233.51,1189.81 233.61,1189.62 233.71,1189.65 233.81,1190.32 233.92,1189.63 234.02,1189.4 234.13,1189.11 234.24,1190.24 234.35,1190.6 234.46,1190.56 234.58,1190.83 234.7,1191.77 234.82,1193.19 234.93,1194.25 235.06,1194.6 235.18,1195.17 235.3,1195.98 235.42,1197.34 235.54,1198.33 235.67,1199.22 235.79,1200.14 235.91,1200.79 236.03,1202.28 236.15,1203.62 236.27,1204.67 236.39,1205.59 236.5,1205.96 236.62,1207.63 236.73,1208.74 236.84,1209.9 236.95,1210.77 237.05,1211.21 237.15,1211.89 237.25,1212.21 237.35,1213.09 237.44,1213.97 237.54,1214.98 237.63,1215.63 237.72,1216.75 237.81,1217.81 237.89,1218.63 237.98,1218.77 238.06,1219.48 238.14,1220.76 238.22,1221.93 238.3,1222.12 238.38,1222.66 238.46,1223.96 238.54,1224.58 238.62,1225.43 238.7,1225.68 238.77,1226.78 238.85,1227.58 238.93,1228.08 239.01,1229.22 239.09,1230.26 239.17,1231.5 239.24,1231.94 239.32,1231.8 239.41,1232.16 239.49,1232.67 239.57,1234.47 239.65,1235.58 239.74,1236.61 239.83,1236.53 239.92,1237.08 240.01,1238.08 240.1,1238.88 240.19,1240.49 240.29,1241.16 240.39,1242.1 240.49,1242.48 240.59,1243.93 240.7,1245.35 240.81,1245.9 240.92,1246.32 241.03,1246.76 241.15,1247.85 241.27,1248.64 241.39,1249.1 241.52,1249.35 241.64,1250.12 241.77,1250.85 241.91,1252.43 242.05,1253.19 242.19,1254.03 242.33,1254.32 242.48,1254.95 242.64,1256.02 242.8,1257.19 242.96,1257.69 243.14,1257.96 243.31,1258.56 243.5,1259.71 243.69,1261.09 243.89,1261.88 244.1,1262.64 244.32,1263.58 244.54,1263.92 244.78,1264.73 245.04,1264.96 245.33,1265.6 245.67,1266.47 246.03,1267.58 246.43,1268.02 246.84,1268.18 247.28,1268.77 247.73,1270.34 248.19,1271.15 248.66,1271.67 249.13,1271.59 249.6,1273.22 250.06,1274.09 250.52,1275.45 250.95,1275.58 251.37,1276.4 251.76,1277.01 252.13,1277.42 252.48,1278.07 252.83,1278.63 253.19,1279.83 253.54,1280.11 253.88,1280.64 254.23,1281.18 254.57,1282.51 254.9,1283.45 255.23,1283.77 255.56,1284.08 255.87,1284.63 256.18,1286.15 256.48,1287.2 256.77,1288.47 257.05,1288.74 257.32,1289.06 257.58,1289.78 257.82,1290.94 258.06,1292.03 258.28,1292.43 258.49,1293.02 258.7,1293.5 258.9,1294.5 259.1,1294.73 259.29,1295.32 259.48,1296.04 259.67,1297.13 259.85,1298.77 260.02,1299.3 260.19,1299.99 260.36,1299.86 260.52,1300.17 260.68,1300.41 260.83,1301.68 260.97,1302.68 261.12,1304.34 261.25,1305.41 261.38,1306.47 261.51,1307.42 261.63,1307.85 261.75,1309.06 261.86,1309.28 261.96,1310.3 262.05,1310.49 262.14,1311.56 262.21,1311.96 262.28,1313.04 262.35,1313.88 262.41,1314.92 262.46,1315.78 262.52,1316.66 262.57,1317.7 262.62,1318.15 262.67,1318.95 262.72,1319.75 262.77,1320.78 262.82,1321.56 262.88,1321.79 262.94,1323.27 263,1323.89 263.07,1325.06 263.15,1325.78 263.24,1326.58 263.33,1327.54 263.43,1327.61 263.55,1328.21 263.67,1328.32 263.81,1329.26 263.96,1330.41 264.12,1331.54 264.38,1332.52 264.97,1332.63 265.72,1332.98 266.39,1333.05 266.75,1333.66 266.95,1333.89 267.14,1333.7 267.31,1333.22 267.47,1332.44 267.61,1331.68 267.75,1331.03 267.86,1329.97 267.97,1329.04 268.06,1328.1 268.15,1327.25 268.22,1326.36 268.28,1324.67 268.33,1324.25 268.37,1322.45 268.4,1321.46 268.43,1319.77 268.46,1320.13 268.49,1319.79 268.52,1319.23 268.54,1317.57 268.57,1316.78 268.59,1316.1 268.62,1315.48 268.64,1314.13 268.66,1312.97 268.69,1312.45 268.71,1312.19 268.73,1311.75 268.75,1310.84 268.77,1309.42 268.79,1308.62 268.8,1307.56 268.82,1307.31 268.84,1306.64 268.85,1305.95 268.87,1304.83 268.88,1304.19 268.89,1303.7 268.9,1303.02 268.92,1301.02 268.93,1300.1 268.94,1299.69 268.95,1300.12 268.95,1299.13 268.96,1297.95 268.97,1296.68 268.98,1296.34 268.98,1295.38 268.99,1294.68 268.99,1293.35 268.99,1292.98 269,1291.74 269,1291.33 269,1290.3 269,1289.96 269.6,1200 269.8,1068 271.8,1068 272,1200 272.4,1290.35 272.4,1291.62 272.4,1293 272.4,1293.76 272.4,1296.8 272.4,1299.44 272.4,1302.45 272.4,1303.59 272.4,1304.95 272.41,1305.48 272.41,1307.32 272.41,1308.16 272.41,1309.75 272.41,1310.46 272.41,1311.92 272.42,1313.7 272.42,1315.03 272.42,1316.49 272.43,1317.38 272.43,1319.03 272.43,1320 272.44,1321.12 272.44,1321.9 272.45,1322.62 272.45,1323.52 272.46,1324.51 272.47,1326.27 272.47,1327.35 272.48,1327.83 272.49,1328.73 272.49,1329.39 272.5,1330.35 272.51,1330.67 272.52,1331.39 272.53,1331.86 272.54,1332.55 272.55,1332.78 272.56,1333.33 272.57,1333.56 272.59,1334.09 272.6,1334.7 272.61,1335.26 272.62,1335.92 272.64,1336.18 272.65,1336.59 272.67,1337.34 272.68,1337.92 272.7,1337 272.72,1336.99 272.74,1336.26 272.75,1336.76 272.77,1336.51 272.79,1336.7 272.92,1337.68 273.46,1337.75 274.33,1337.74 275.41,1336.57 276.58,1336.23 277.73,1336.6 278.74,1336.91 279.71,1337.18 280.77,1336.79 281.82,1336.8 282.74,1335.93 283.4,1335.61 283.74,1334.98 284.01,1334.05 284.26,1334.1 284.48,1333.44 284.67,1333.26 284.85,1332.05 285.02,1331.2 285.16,1330.24 285.3,1328.94 285.42,1327.49 285.53,1326.8 285.63,1325.7 285.73,1324.78 285.83,1323.54 285.93,1322.51 286.02,1321.43 286.12,1320.28 286.22,1319.27 286.31,1318.75 286.39,1317.91 286.47,1317.22 286.55,1315.85 286.62,1314.83 286.68,1313.43 286.75,1313.03 286.81,1311.72 286.87,1310.42 286.92,1309.23 286.98,1309.48 287.03,1309.57 287.08,1308.81 287.13,1307.88 287.18,1306.57 287.23,1305.57 287.28,1304.17 287.33,1303.41 287.38,1302.53 287.44,1301.22 287.49,1300.2 287.55,1299.63 287.61,1298.47 287.67,1297.38 287.74,1296.56 287.81,1296.81 287.89,1295.55 287.97,1294.37 288.05,1293.2 288.14,1292.79 288.23,1291.6 288.33,1290.59 288.44,1289.6 288.56,1288.66 288.7,1287.23 288.86,1286.1 289.04,1284.71 289.24,1284.35 289.46,1284.39 289.69,1284.3 289.94,1283.02 290.2,1281.78 290.47,1280.79 290.75,1279.45 291.03,1278.07 291.32,1277.38 291.61,1276.91 291.9,1275.94 292.19,1274.51 292.48,1274.04 292.77,1273.18 293.05,1273.09 293.32,1272.08 293.59,1271.37 293.88,1270.07 294.17,1269.11 294.48,1268.65 294.8,1267.96 295.13,1267.49 295.46,1266.8 295.79,1265.71 296.13,1264.38 296.46,1262.97 296.8,1262.11 297.13,1261.33 297.47,1260.04 297.79,1259.37 298.11,1258.48 298.42,1258.25 298.72,1256.97 299.01,1255.95 299.28,1254.93 299.54,1254.44 299.79,1253.01 300.01,1252.27 300.22,1251.56 300.4,1251.15 300.57,1250.09 300.71,1249.28 300.85,1249.46 300.99,1249.04 301.12,1248.13 301.25,1246.46 301.37,1245.61 301.49,1244.7 301.6,1243.51 301.71,1242.5 301.82,1241.69 301.93,1240.86 302.03,1239.96 302.13,1239.16 302.23,1238.76 302.32,1237.74 302.41,1237.07 302.5,1236.18 302.59,1235.21 302.67,1233.09 302.75,1231.77 302.84,1230.98 302.92,1230.54 302.99,1229.74 303.07,1229.28 303.15,1228.72 303.22,1228.21 303.3,1226.39 303.37,1225.24 303.45,1224.32 303.52,1223.57 303.6,1223.24 303.67,1221.54 303.74,1220.68 303.82,1219.64 303.89,1218.46 303.97,1217.98 304.05,1216.24 304.13,1215.63 304.21,1214.49 304.29,1213.94 304.37,1213.55 304.45,1212.58 304.54,1211.6 304.62,1210.18 304.7,1209.4 304.78,1207.84 304.86,1207.48 304.94,1206.55 305.01,1206.8 305.09,1206.12 305.16,1204.72 305.23,1203.58 305.3,1202.01 305.37,1201.38 305.44,1200.53 305.51,1200 305.58,1199.38 305.65,1198.21 305.72,1197.23 305.8,1195.85 305.87,1194.77 305.94,1193.99 306.02,1193.06 306.1,1192.16 306.18,1191.3 306.26,1190.73 306.34,1189.77 306.43,1188.73 306.52,1188.23 306.61,1187.28 306.71,1185.83 306.81,1184.57 306.91,1183.7 307.01,1183.15 307.12,1182.05 307.24,1181.13 307.37,1180.24 307.51,1179.38 307.67,1178.18 307.84,1177.31 308.01,1176.46 308.19,1175.54 308.38,1174.15 308.57,1173.11 308.76,1171.77 308.94,1170.5 309.13,1169.17 309.31,1168.95 309.47,1169.03 309.63,1169 309.78,1168.46 309.93,1168.78 310.08,1169.43 310.23,1170.21 310.38,1170.69 310.52,1170.9 310.67,1171.93 310.81,1172.52 310.95,1174.21 311.09,1175.18 311.22,1176.51 311.36,1177.38 311.48,1178.58 311.61,1179.72 311.73,1180.71 311.84,1182.64 311.95,1183.46 312.05,1184.55 312.15,1185.1 312.24,1186.33 312.33,1187.65 312.41,1188.49 312.49,1189.35 312.57,1190.09 312.64,1191.38 312.71,1192.17 312.77,1193.09 312.84,1193.84 312.9,1195 312.96,1195.41 313.01,1196.37 313.07,1197.49 313.12,1198.36 313.17,1198.86 313.22,1200.11 313.27,1201.11 313.31,1201.56 313.36,1201.85 313.41,1203.01 313.45,1204.76 313.5,1205.64 313.55,1207.1 313.59,1207.66 313.64,1208.75 313.69,1209.4 313.74,1210.48 313.79,1210.61 313.84,1211.41 313.89,1212.37 313.94,1213.8 314,1214.84 314.06,1215.99 314.12,1216.94 314.18,1217.06 314.25,1217.1 314.32,1218.11 314.39,1219.28 314.47,1220.68 314.55,1220.84 314.63,1221.91 314.72,1222.47 314.81,1224.06 314.9,1225.62 315,1226.89 315.11,1228.2 315.22,1228.54 315.34,1229.7 315.48,1230.41 315.63,1231.25 315.81,1232.35 316,1232.91 316.21,1233.72 316.45,1234.45 316.71,1235.74 316.99,1237.31 317.31,1237.85 317.66,1238.34 318.21,1238.3 318.95,1238.24 319.82,1239.08 320.78,1239.21 321.79,1240.18 322.81,1239.81 323.77,1239.85 324.65,1240.02 325.38,1240.64 325.94,1241.73 326.41,1242.21 326.84,1243.74 327.23,1244.4 327.6,1245.06 327.94,1245.18 328.27,1246.47 328.59,1247.79 328.91,1248.44 329.25,1248.77 329.59,1249.83 329.96,1251.45 330.31,1252.4 330.67,1253.7 331.02,1254.13 331.38,1255.99 331.74,1256.35 332.1,1256.82 332.48,1256.44 332.87,1256.45 333.31,1256.7 333.78,1256.52 334.26,1255.92 334.75,1254.47 335.21,1253.15 335.64,1251.79 336.03,1251.04 336.34,1249.87 336.57,1248.81 336.74,1248.7 336.89,1247.85 337.04,1246.67 337.18,1244.89 337.31,1244.46 337.43,1244.27 337.54,1243.25 337.64,1242.32 337.74,1241.95 337.84,1240.88 337.93,1239.67 338.01,1238.31 338.09,1238.19 338.17,1237.37 338.24,1236.52 338.31,1234.9 338.38,1234.34 338.45,1232.87 338.52,1231.69 338.58,1230.35 338.65,1229.69 338.72,1229.07 338.79,1227.95 338.86,1227.13 338.94,1226.36 339.02,1225.41 339.1,1224.62 339.19,1224.01 339.28,1223.01 339.38,1221.86 339.48,1220.56 339.58,1219.93 339.69,1219.12 339.8,1218.54 339.9,1217.23 340.01,1215.95 340.12,1214.24 340.23,1213.42 340.34,1212.23 340.46,1211.18 340.57,1209.85 340.68,1208.04 340.8,1206.66 340.91,1205.41 341.03,1205.23 341.14,1204.31 341.26,1203.41 341.37,1202.43 341.49,1201.53 341.6,1200.75 341.72,1199.51 341.83,1199.72 341.95,1199.11 342.06,1199.1 342.17,1197.95 342.29,1197.79 342.4,1197.32 342.51,1197.99 342.63,1197.77 342.75,1198.9 342.87,1199.1 343,1200.3 343.12,1200.28 343.25,1201.17 343.38,1201.99 343.51,1203.2 343.63,1204.32 343.75,1204.98 343.87,1205.3 343.99,1206.59 344.1,1207.75 344.21,1209.98 344.31,1210.51 344.41,1211.97 344.49,1213.61 344.57,1215.62 344.65,1216.79 344.71,1216.87 344.77,1217.57 344.82,1217.8 344.87,1219.32 344.92,1219.76 344.97,1221.07 345.02,1221.56 345.06,1222.45 345.11,1223.4 345.15,1224.55 345.19,1225.63 345.23,1226.53 345.26,1227.29 345.3,1228.39 345.33,1229.77 345.36,1230.47 345.39,1230.98 345.42,1231.99 345.45,1232.94 345.48,1234.35 345.51,1234.48 345.54,1235.12 345.56,1235.82 345.59,1237.26 345.62,1238.68 345.64,1239.89 345.67,1241.13 345.69,1241.75 345.72,1242.31 345.74,1243.05 345.77,1244.15 345.79,1245.08 345.82,1246.36 345.84,1247.58 345.87,1247.93 345.9,1248.05 345.92,1248.47 345.95,1250.47 345.98,1251.05 346.01,1252.24 346.04,1252.65 346.07,1253.88 346.11,1254.85 346.14,1255.59 346.18,1256.2 346.22,1256.51 346.25,1257.93 346.29,1259.13 346.34,1260.8 346.38,1261.34 346.43,1261.9 346.48,1261.91 346.53,1262.9 346.58,1264.81 346.63,1266.18 346.69,1266.85 346.75,1267.2 346.81,1268.1 346.88,1269.11 346.95,1269.94 347.03,1270.77 347.11,1271.49 347.19,1272.5 347.28,1273.13 347.38,1274.18 347.47,1275.34 347.58,1276.72 347.68,1277.34 347.8,1278.38 347.91,1279.72 348.03,1280.46 348.16,1281.41 348.29,1282.09 348.42,1283.32 348.56,1283.27 348.71,1284.12 348.86,1285.53 349.01,1287.32 349.17,1288.33 349.33,1289.21 349.51,1289.81 349.71,1290.7 349.93,1291.66 350.17,1292.62 350.42,1292.85 350.7,1293.94 350.99,1294.74 351.29,1295.56 351.61,1296.13 351.94,1297.41 352.29,1298.79 352.66,1299.44 353.03,1300.2 353.42,1300.51 353.85,1301.16 354.33,1301.34 354.84,1302.67 355.4,1303.37 355.98,1305.04 356.59,1305.64 357.23,1306.08 357.88,1305.57 358.54,1306.63 359.21,1308.06 359.88,1309.16 360.57,1309.13 361.28,1309.36 362.02,1309.65 362.79,1309.08 363.57,1308.91 364.38,1309.43 365.19,1311.09 366.02,1312.04 366.85,1312.75 367.69,1312.7 368.52,1312.74 369.35,1312.71 370.18,1313.6 371.02,1313.66 371.87,1313.83 372.72,1314.2 373.58,1314.94 374.45,1315.65 375.32,1315.2 376.19,1315.74 377.07,1316.33 377.95,1317.31 378.83,1317.51 379.72,1317.33 380.6,1317.34 381.49,1317.45 382.39,1318.16 383.28,1318.63 384.19,1318.57 385.09,1318.04 386,1317.64 386.91,1317.42 387.82,1317.56 388.73,1317.56 389.64,1318.24 390.56,1318.13 391.47,1318.33 392.39,1318.28 393.3,1318.18 394.21,1318.36 395.12,1317.82 396.03,1318.1 396.94,1317.58 397.85,1317.49 398.76,1317.4 399.67,1317.35 400.58,1317.18 401.49,1316.66 402.4,1316.54 403.31,1316.96 404.21,1316.79 405.11,1316.65 406.01,1316.57 406.91,1317.35 407.8,1317.29 408.69,1317.1 409.57,1316.79 410.45,1316.89 411.33,1316.96 412.21,1316.54 413.09,1315.85 413.96,1315.63 414.85,1315.33 415.73,1316.3 416.62,1315.87 417.51,1316.2 418.41,1315.65 419.31,1315.6 420.22,1315.09 421.13,1315.06 422.04,1315.38 422.95,1315.45 423.86,1315.45 424.76,1315.36 425.65,1315.53 426.55,1316.21 427.43,1316.75 428.32,1316.51 429.2,1316.43 430.08,1316.36 430.96,1317.48 431.84,1317.41 432.72,1317.52 433.6,1317.38 434.48,1317.36 435.37,1317.66 436.25,1318.36 437.14,1319.2 438.03,1319.76 438.92,1319.35 439.82,1318.88 440.72,1318.03 441.62,1318.19 442.53,1319.06 443.43,1320.05 444.34,1320.32 445.25,1320.18 446.16,1319.99 447.08,1319.79 447.99,1319.64 448.9,1319.06 449.81,1318.61 450.73,1318.08 451.64,1317.94 452.56,1318.48 453.47,1318.87 454.38,1319.49 455.29,1319.29 456.2,1319.24 457.11,1318.9 458.02,1319.63 458.93,1320.06 459.83,1320.62 460.74,1320.57 461.64,1320.19 462.54,1320.31 463.44,1320.03 464.35,1320.28 465.25,1320.29 466.15,1320.49 467.05,1320.21 467.95,1320.74 468.85,1320.44 469.74,1321.09 470.64,1320.66 471.54,1321 472.43,1320.89 473.32,1321.01 474.22,1321.29 475.11,1321.93 475.99,1322.55 476.88,1322.69 477.77,1323.5 478.65,1323.39 479.53,1323.84 480.42,1323.23 481.3,1323.68 482.18,1323.43 483.06,1323.48 483.94,1323.15 484.82,1323.74 485.69,1324.07 486.57,1324.96 487.44,1325.15 488.32,1325.74 489.19,1325.74 490.06,1326.75 490.93,1326.69 491.8,1327.2 492.67,1326.47 493.53,1326.87 494.4,1326.95" fill="none" stroke="#1a1ee6" stroke-width="1.9" stroke-linejoin="round"/>
<rect x="268.8" y="1063.6" width="4.2" height="181" fill="#f3a8c4" opacity="0.88"/>
<polyline points="49.8,1237.66 50.42,1238.69 51.05,1238.16 51.67,1238.2 52.3,1237.6 52.92,1237.09 53.55,1236.56 54.17,1235.69 54.8,1235.81 55.43,1235.33 56.05,1234.97 56.68,1234.78 57.31,1235.51 57.93,1234.62 58.56,1234.28 59.19,1234.39 59.82,1235.99 60.45,1235.42 61.07,1235.01 61.7,1233.44 62.33,1233.61 62.96,1232.7 63.59,1232.83 64.22,1233.61 64.86,1234.26 65.49,1234.35 66.12,1233.53 66.75,1233.04 67.38,1232.82 68.02,1233.27 68.65,1232.82 69.28,1232.74 69.92,1232.17 70.55,1232.33 71.19,1232.33 71.82,1232.36 72.46,1232.93 73.1,1232.64 73.73,1233.2 74.37,1232.26 75.01,1231.94 75.64,1231.09 76.28,1231.31 76.92,1231.56 77.56,1232.05 78.2,1232.32 78.84,1232.32 79.48,1231.39 80.12,1230.66 80.76,1231.01 81.4,1231.18 82.04,1230.47 82.68,1229.31 83.32,1228.8 83.96,1229.93 84.6,1230.12 85.24,1231.44 85.88,1231.09 86.52,1231.1 87.17,1229.66 87.81,1229.72 88.45,1229.44 89.09,1229.15 89.73,1228.85 90.38,1228.89 91.02,1229.8 91.66,1229.39 92.3,1227.87 92.95,1227.58 93.59,1226.6 94.23,1228.71 94.88,1229.14 95.52,1229.79 96.16,1228.36 96.81,1226.67 97.45,1227.24 98.09,1227.65 98.73,1227.98 99.38,1227.35 100.02,1228.42 100.67,1228.83 101.31,1229.26 101.96,1228.54 102.6,1228.81 103.25,1228.91 103.89,1228.11 104.54,1227.43 105.18,1226.47 105.83,1226.41 106.48,1227.04 107.12,1227.11 107.77,1227.38 108.42,1226.41 109.07,1226.31 109.71,1226.7 110.36,1226.77 111.01,1226.78 111.66,1226.58 112.3,1227 112.95,1227.59 113.6,1227.38 114.25,1226.21 114.89,1226.08 115.54,1226.19 116.19,1227.53 116.83,1226.74 117.48,1227.7 118.13,1226.52 118.78,1227.25 119.42,1225.96 120.07,1226.28 120.71,1226.26 121.36,1226.04 122,1225.06 122.65,1224.01 123.29,1224.31 123.94,1226.53 124.58,1226.31 125.23,1226.01 125.87,1225.54 126.51,1226.51 127.15,1226.26 127.8,1224.75 128.44,1223.47 129.08,1223.21 129.73,1223.65 130.37,1223.34 131.02,1222.78 131.66,1223.03 132.3,1223.87 132.95,1224.25 133.6,1223.8 134.24,1223.51 134.89,1224.26 135.53,1225.19 136.18,1226.54 136.82,1226.33 137.47,1225.79 138.11,1225.38 138.76,1225.79 139.4,1226.05 140.05,1225.82 140.69,1224.52 141.33,1222.88 141.97,1222.6 142.62,1222.76 143.26,1223.42 143.9,1222.42 144.54,1221.7 145.18,1222.31 145.82,1222.86 146.46,1222.85 147.09,1222.22 147.73,1222.01 148.37,1222.68 149,1223.47 149.63,1223.16 150.26,1222.12 150.9,1220.89 151.53,1220.44 152.15,1221.21 152.78,1221.15 153.41,1221.5 154.03,1220.79 154.65,1220.74 155.28,1220.16 155.9,1220.54 156.51,1220.02 157.13,1219.55 157.75,1219.36 158.36,1218.97 158.97,1220.05 159.58,1219.82 160.19,1220.19 160.8,1219.3 161.41,1218.82 162.01,1217.15 162.62,1217.47 163.22,1216.84 163.82,1218.26 164.42,1217.07 165.02,1217.15 165.62,1216.29 166.22,1215.83 166.81,1215.54 167.41,1215.62 168,1215.67 168.59,1214.85 169.19,1214.05 169.78,1214.11 170.37,1215.05 170.96,1215.49 171.55,1215.24 172.15,1213.91 172.74,1213.68 173.34,1213.28 173.94,1213.39 174.55,1213.12 175.15,1213.15 175.74,1213.24 176.34,1211.93 176.93,1211.04 177.52,1209.65 178.11,1210.03 178.69,1210.05 179.26,1211.06 179.83,1210.76 180.38,1210.24 180.93,1210.5 181.47,1209.55 182,1208.72 182.51,1207 183.03,1207.41 183.55,1207.52 184.07,1207.2 184.6,1205.97 185.12,1206.45 185.64,1205.92 186.14,1205.5 186.64,1204.24 187.12,1203.68 187.59,1203.62 188.03,1203.86 188.45,1203.55 188.85,1203.14 189.22,1201.78 189.56,1201.4 189.86,1201.32 190.15,1201.24 190.43,1200.63 190.69,1199.2 190.95,1198.31 191.2,1198.32 191.45,1198.2 191.68,1197.61 191.91,1195.69 192.13,1195.59 192.34,1194.29 192.55,1193.94 192.75,1192.63 192.95,1192.76 193.14,1192.78 193.33,1191.95 193.51,1191.13 193.69,1190.16 193.87,1188.99 194.05,1188.37 194.22,1187.68 194.39,1188.14 194.56,1187.55 194.73,1187.73 194.89,1187.23 195.06,1187.11 195.23,1186.6 195.39,1185.96 195.56,1184.8 195.73,1184.25 195.9,1182.81 196.06,1182.25 196.21,1181.38 196.37,1181.07 196.51,1180.81 196.66,1179.35 196.8,1178.59 196.95,1177.87 197.08,1178 197.22,1178.23 197.35,1177.29 197.49,1176.44 197.62,1175.52 197.75,1175.15 197.87,1173.72 198,1172.48 198.13,1172.33 198.26,1171.72 198.38,1171.68 198.51,1170.11 198.63,1170.59 198.76,1169.25 198.89,1168.85 199.02,1166.7 199.15,1166.43 199.28,1166.31 199.41,1165.93 199.55,1165.91 199.68,1164.38 199.82,1164.47 199.96,1161.86 200.11,1162.13 200.26,1161.08 200.41,1161.57 200.56,1159.77 200.72,1159.08 200.88,1159.3 201.04,1159.06 201.21,1159.38 201.39,1158.1 201.57,1157.9 201.74,1156.53 201.92,1156.1 202.1,1156.45 202.28,1156.24 202.47,1155.47 202.66,1153.12 202.86,1152.51 203.06,1152.16 203.28,1150.81 203.5,1148.93 203.74,1148.69 203.98,1149.21 204.25,1149.51 204.52,1148.39 204.82,1148.5 205.13,1148.73 205.49,1148.4 205.95,1149.13 206.47,1149.12 207.03,1149.28 207.6,1148.51 208.13,1148.99 208.6,1149.75 209,1150.44 209.38,1151.24 209.73,1150.43 210.06,1150.83 210.38,1151.88 210.69,1154.55 210.99,1155.35 211.28,1155.3 211.58,1156.29 211.87,1157.16 212.17,1157.79 212.48,1158.65 212.8,1159 213.14,1159.9 213.49,1159.11 213.86,1159.33 214.27,1158.38 214.71,1157.73 215.17,1157.97 215.65,1157.41 216.13,1157.43 216.61,1155.62 217.09,1155.45 217.54,1154.65 217.98,1153.8 218.38,1153.87 218.74,1153.22 219.07,1154.1 219.38,1152.54 219.68,1152.54 219.98,1152.55 220.27,1152.56 220.56,1151.22 220.83,1149.71 221.11,1149.1 221.37,1148.73 221.63,1147.83 221.89,1146.88 222.14,1146.59 222.38,1145.85 222.62,1145.1 222.85,1144.68 223.08,1144.17 223.31,1145.3 223.53,1144.14 223.74,1143.24 223.95,1141.01 224.16,1140.69 224.37,1140.07 224.57,1139.08 224.77,1139.08 224.96,1138.18 225.15,1138.93 225.34,1137.55 225.53,1137.02 225.71,1136.46 225.89,1135.67 226.07,1135.07 226.25,1133.65 226.42,1133.78 226.59,1134 226.75,1133.76 226.91,1133.37 227.06,1132.5 227.21,1131.65 227.36,1130.03 227.5,1128.56 227.63,1127.67 227.77,1127.95 227.9,1127.18 228.03,1127.28 228.16,1125.97 228.28,1125.74 228.41,1124.46 228.53,1124.58 228.65,1124.1 228.77,1123.83 228.89,1122.86 229.01,1122.06 229.13,1121.34 229.25,1120.4 229.37,1119.97 229.49,1119.35 229.61,1118.27 229.74,1117.57 229.86,1115.98 229.99,1115.71 230.12,1115.15 230.26,1114.85 230.39,1113.45 230.53,1112.35 230.67,1111.6 230.82,1111.91 230.97,1111.56 231.13,1112.05 231.29,1111.26 231.45,1111.12 231.62,1109.18 231.8,1109.33 231.98,1107.92 232.17,1108.16 232.35,1107.38 232.55,1107.32 232.74,1106.02 232.95,1104.47 233.16,1104.34 233.38,1104.68 233.61,1104.33 233.85,1102.7 234.11,1101.07 234.38,1100.31 234.67,1099.69 234.98,1099.44 235.31,1100.06 235.66,1099.83 236.07,1104.78 236.55,1097.61 237.09,1097.19 237.67,1090.69 238.3,1097.05 238.95,1096.14 239.62,1096.05 240.31,1099.18 241.01,1099.66 241.7,1094.56 242.38,1094.41 243.04,1095.05 243.67,1098.64 244.31,1098.86 244.97,1093.2 245.66,1093.99 246.35,1097.8 247.05,1100.15 247.75,1094.32 248.43,1092.55 249.09,1097.02 249.73,1093.21 250.33,1095.67 250.89,1097.9 251.39,1095.86 251.84,1094.94 252.25,1096.18 252.66,1093.53 253.04,1094.67 253.41,1094.87 253.76,1095.08 254.09,1095.19 254.4,1096.48 254.69,1098.12 254.95,1099.43 255.2,1100.63 255.41,1100.28 255.61,1102.13 255.79,1102.34 255.96,1103.11 256.13,1104.15 256.29,1103.88 256.45,1104.8 256.6,1104.44 256.74,1105.93 256.87,1106.77 257,1107.7 257.13,1108.31 257.25,1108.86 257.37,1108.64 257.48,1108.89 257.6,1109.97 257.7,1110.5 257.81,1111.38 257.91,1110.55 258.01,1111.44 258.11,1111.22 258.21,1113.51 258.3,1113.6 258.4,1114.93 258.5,1115.31 258.59,1117.17 258.69,1118.32 258.78,1119.12 258.88,1119.7 258.98,1120.37 259.07,1120.45 259.16,1120.84 259.26,1120.19 259.35,1120.94 259.44,1122.23 259.53,1123.38 259.62,1123.36 259.71,1123.41 259.79,1125 259.88,1126.83 259.96,1126.68 260.05,1126.98 260.13,1126.69 260.21,1128.22 260.29,1127.52 260.36,1128.95 260.44,1129.26 260.51,1131.14 260.58,1131.23 260.65,1131.56 260.72,1132.36 260.78,1132.86 260.84,1133.68 260.9,1134.39 260.96,1135.23 261.02,1135.87 261.07,1136.66 261.12,1137.05 261.17,1138.03 261.21,1138.57 261.25,1139.99 261.29,1141.25 261.33,1142.36 261.36,1142.55 261.39,1142.2 261.43,1142.84 261.46,1144.16 261.49,1145.06 261.53,1145.23 261.56,1144.99 261.59,1145.01 261.62,1145.82 261.65,1146.83 261.67,1148.32 261.7,1149.29 261.73,1150.48 261.76,1150.75 261.78,1149.99 261.81,1148.98 261.84,1149.95 261.86,1150.96 261.89,1152.73 261.91,1153.38 261.93,1153.9 261.96,1154.16 261.98,1154.02 262,1155.61 262.02,1156.2 262.05,1157.93 262.07,1157.63 262.09,1158.58 262.11,1159.24 262.13,1160.08 262.15,1160.29 262.17,1161.78 262.19,1162.47 262.21,1163.81 262.22,1163.25 262.24,1163.61 262.26,1164.63 262.28,1165.52 262.3,1166.72 262.31,1165.58 262.33,1166.17 262.35,1167.07 262.36,1169 262.38,1169.43 262.4,1170.26 262.41,1170.89 262.43,1171.9 262.45,1172.47 262.46,1173.5 262.48,1173.2 262.49,1173.5 262.51,1173.26 262.53,1173.57 262.54,1174.19 262.56,1174.35 262.57,1175.77 262.59,1175.02 262.6,1176.03 262.62,1176.68 262.63,1178.58 262.65,1179.46 262.67,1179.89 262.68,1180.09 262.7,1181.77 262.71,1182.65 262.73,1183.7 262.74,1184.52 262.76,1184.54 262.78,1184.2 262.79,1183.4 262.81,1184.72 262.83,1185.83 262.84,1186.97 262.86,1187.77 262.88,1188.21 262.9,1188.97 262.91,1188.94 262.93,1190.71 262.95,1191.39 262.97,1193.85 262.99,1194.56 263.01,1195 263.02,1194.72 263.04,1195.03 263.06,1195.41 263.08,1195.16 263.11,1196.28 263.13,1198.06 263.15,1199.2 263.17,1199.17 263.19,1198.82 263.21,1200.2 263.24,1201.59 263.26,1202.04 263.28,1202.02 263.31,1201.79 263.33,1202.98 263.36,1204.18 263.38,1205.63 263.41,1206.04 263.44,1205.81 263.46,1206.19 263.49,1207.28 263.51,1208.24 263.53,1208.71 263.56,1209.24 263.58,1210.51 263.6,1211.11 263.63,1211.82 263.65,1212.12 263.67,1212.26 263.69,1213.02 263.72,1213.63 263.74,1215.29 263.76,1215 263.78,1215.25 263.81,1215.53 263.83,1215.92 263.85,1216.86 263.88,1217.12 263.9,1218.42 263.92,1219.01 263.95,1218.77 263.97,1219.65 264,1220.47 264.03,1222.76 264.05,1224.11 264.08,1224.9 264.11,1225.49 264.14,1224.22 264.17,1224.96 264.2,1225.7 264.23,1227.98 264.27,1228.48 264.3,1228.39 264.34,1228.42 264.37,1228.96 264.41,1230 264.45,1231.12 264.49,1231.7 264.53,1231.51 264.58,1232.78 264.62,1233.04 264.67,1232.97 264.71,1233.41 264.76,1234.99 264.82,1237.07 264.87,1237.48 264.92,1237.84 264.98,1237.97 265.04,1238.18 265.1,1237.98 265.16,1238.71 265.22,1238.86 265.3,1240.29 265.39,1241.96 265.49,1242.91 265.62,1243.88 265.76,1243.05 265.94,1243.5 266.14,1244.05 266.38,1245.92 266.65,1247.02 267.23,1247.29 268,1246.81 268.3,1200 268.5,1100 268.6,1063.6 273,1063.6 273.1,1100 273.3,1200 273.8,1247.81 274.48,1248.14 275.15,1248.02 275.83,1246.53 276.5,1246.95 277.18,1247.97 277.93,1248.41 278.7,1248.66 279.43,1247.74 280.03,1249.63 280.44,1248.92 280.79,1248.68 281.12,1247.59 281.44,1246.85 281.74,1246.51 282.02,1245.29 282.27,1244.46 282.51,1243.97 282.73,1243.56 282.93,1243.01 283.1,1242.8 283.26,1240.92 283.39,1239.73 283.49,1238.48 283.57,1237.86 283.64,1238.2 283.7,1237.48 283.75,1237.31 283.81,1236.13 283.86,1234.81 283.91,1233.49 283.97,1232.98 284.01,1233.07 284.06,1233.2 284.11,1232.09 284.15,1229.88 284.2,1228.72 284.24,1227.82 284.28,1228.33 284.32,1228.76 284.36,1228.05 284.39,1226.86 284.43,1225.97 284.46,1225.48 284.5,1224.5 284.53,1223.95 284.56,1222.9 284.59,1222.62 284.62,1220.8 284.65,1220.72 284.68,1220.85 284.7,1220.5 284.73,1219.83 284.76,1218.36 284.78,1219.03 284.8,1218.89 284.83,1218.14 284.85,1216.54 284.87,1215.57 284.89,1215.39 284.91,1214.06 284.93,1212.81 284.95,1212.27 284.97,1212.18 284.99,1211.14 285.01,1210.3 285.03,1208.88 285.05,1207.55 285.07,1206.72 285.09,1207.01 285.1,1207.6 285.12,1207.55 285.14,1207.26 285.16,1206.52 285.18,1204.77 285.19,1203.18 285.21,1201.58 285.23,1201.19 285.25,1200.48 285.27,1200.6 285.28,1200.47 285.3,1198.76 285.32,1198.35 285.34,1196.84 285.36,1197.61 285.38,1196.63 285.4,1195.69 285.43,1195.04 285.45,1193.89 285.47,1193.98 285.49,1192.56 285.52,1192 285.54,1191.11 285.57,1191.67 285.59,1191.57 285.62,1190.82 285.64,1190.01 285.67,1188.99 285.7,1188.16 285.72,1186.16 285.75,1185.54 285.77,1185.06 285.79,1184.52 285.82,1182.79 285.84,1181.98 285.87,1181.69 285.89,1181.76 285.91,1180.67 285.94,1179.39 285.96,1178.66 285.98,1179.13 286,1179.05 286.03,1177.79 286.05,1176.75 286.07,1175.76 286.09,1177.06 286.12,1175.89 286.14,1175.4 286.16,1173.64 286.18,1173.25 286.2,1172.62 286.22,1171.86 286.25,1170.92 286.27,1169.93 286.29,1169.03 286.31,1167.87 286.33,1167.19 286.35,1166.36 286.38,1166.05 286.4,1165.4 286.42,1164.98 286.44,1164.73 286.46,1164.11 286.49,1163.54 286.51,1162.77 286.53,1162.08 286.55,1161.27 286.58,1160.63 286.6,1159.25 286.62,1158.96 286.65,1157.86 286.67,1156.18 286.69,1155.43 286.72,1154.38 286.74,1155.98 286.77,1154.54 286.79,1154.35 286.82,1153.55 286.84,1152.95 286.87,1151.88 286.89,1150.8 286.92,1151.2 286.95,1151.56 286.97,1151.63 287,1150.45 287.03,1149.46 287.06,1148.6 287.09,1148.01 287.11,1146.68 287.14,1145.85 287.17,1144.63 287.2,1143.94 287.23,1142.93 287.27,1142.45 287.3,1142.61 287.33,1141.99 287.36,1141.13 287.4,1139.98 287.43,1138.87 287.46,1138.24 287.5,1138.21 287.53,1138.02 287.57,1137.31 287.61,1135.83 287.64,1134.64 287.68,1134.04 287.72,1132.77 287.76,1132.69 287.79,1131.96 287.83,1132.36 287.87,1131.85 287.92,1131.46 287.96,1129.92 288,1128.14 288.04,1127.71 288.09,1127.94 288.13,1127.18 288.18,1125.61 288.23,1125.05 288.28,1125.09 288.32,1125.89 288.37,1124.92 288.43,1124.66 288.48,1122.92 288.53,1121.75 288.59,1119.88 288.64,1117.88 288.7,1117.98 288.76,1118.42 288.81,1118.83 288.87,1118.12 288.94,1116.31 289,1116.66 289.06,1115.69 289.13,1116.58 289.2,1114.27 289.27,1114.06 289.34,1113 289.41,1113.33 289.48,1111.5 289.56,1110.53 289.64,1109.8 289.72,1109.24 289.81,1107.69 289.9,1106.34 289.99,1105.69 290.08,1106.26 290.18,1106.7 290.28,1107.12 290.39,1106.11 290.5,1104.11 290.61,1102.21 290.72,1100.71 290.84,1100.62 290.96,1101 291.09,1100.81 291.22,1100.05 291.36,1098.96 291.5,1098.74 291.64,1098.78 291.79,1097.38 291.94,1095.91 292.1,1094.71 292.26,1095.5 292.43,1098.26 292.61,1089.66 292.81,1096.92 293.03,1091.85 293.27,1088.96 293.53,1090 293.81,1089.86 294.11,1091.78 294.43,1085.72 294.77,1089.04 295.13,1088.49 295.52,1083.13 295.97,1083.51 296.52,1088.25 297.14,1088.38 297.82,1090.16 298.53,1088.18 299.26,1089.06 299.98,1087.57 300.68,1089.18 301.36,1082.2 302.08,1084.53 302.83,1087.53 303.61,1083.32 304.38,1090.43 305.13,1084.7 305.84,1085.11 306.49,1090.22 307.06,1081.15 307.53,1082.7 307.91,1089.15 308.26,1083.04 308.59,1085.08 308.89,1087.25 309.17,1087.58 309.44,1088.57 309.68,1089.81 309.91,1093.61 310.13,1091.14 310.34,1091.7 310.55,1092.5 310.74,1092.54 310.93,1093.53 311.11,1093.79 311.29,1094.82 311.46,1094.57 311.62,1095.6 311.77,1096.15 311.92,1097.04 312.07,1098.27 312.21,1098.65 312.35,1098.21 312.48,1098.67 312.61,1099.87 312.74,1101.81 312.87,1102.2 313,1102.56 313.12,1102.99 313.25,1102.46 313.37,1103.27 313.5,1103.9 313.62,1104.85 313.75,1105.22 313.88,1105.79 314.01,1107.21 314.15,1108.14 314.29,1109.57 314.43,1110.45 314.58,1111.62 314.73,1110.71 314.89,1110.81 315.06,1111.17 315.23,1112.52 315.4,1113.5 315.58,1113.77 315.75,1114.21 315.93,1114.74 316.11,1115.73 316.29,1116.67 316.47,1117.34 316.66,1118.45 316.84,1119.52 317.03,1120.61 317.22,1121.1 317.42,1121.57 317.61,1121.67 317.81,1122.96 318.01,1123.64 318.22,1124.87 318.42,1124.31 318.63,1124.2 318.84,1123.86 319.06,1124.68 319.28,1125.46 319.5,1127.12 319.73,1127.72 319.96,1128.72 320.19,1129.79 320.43,1130.46 320.67,1131.11 320.92,1132.27 321.17,1133.3 321.42,1134.21 321.68,1133.29 321.94,1134.33 322.21,1135.49 322.49,1135.12 322.76,1135.1 323.06,1135.29 323.38,1137.47 323.72,1137.57 324.08,1138.18 324.45,1139.53 324.83,1141.51 325.22,1141.8 325.62,1141.86 326.03,1141.65 326.43,1143.26 326.84,1142.29 327.24,1143.7 327.63,1143.95 328.02,1146.39 328.4,1145.72 328.76,1145.74 329.11,1144.84 329.43,1145.72 329.74,1145.88 330.04,1147.2 330.33,1147.03 330.61,1145.4 330.88,1144.1 331.15,1143.2 331.41,1144.18 331.67,1143.66 331.93,1142.45 332.18,1141 332.44,1140.39 332.7,1139.57 332.97,1138.96 333.24,1137.06 333.52,1137.18 333.81,1136.89 334.11,1136.69 334.42,1134.95 334.74,1133.48 335.09,1132.71 335.47,1132.3 335.88,1131.92 336.31,1130.54 336.73,1129.39 337.14,1128.22 337.52,1128.99 337.86,1128.86 338.17,1129.47 338.47,1129.73 338.77,1130.02 339.07,1129.54 339.35,1128.83 339.62,1130.55 339.88,1132.5 340.12,1134.15 340.34,1134.23 340.55,1134.88 340.73,1134.99 340.9,1136.44 341.04,1137.09 341.18,1138.51 341.31,1139.65 341.43,1139.77 341.55,1139.89 341.66,1140.07 341.76,1141.82 341.86,1142.57 341.96,1142.52 342.05,1142.56 342.14,1144.01 342.22,1144.83 342.3,1146.08 342.38,1147.54 342.46,1148.55 342.54,1148.49 342.61,1149.2 342.69,1149.27 342.77,1150.79 342.84,1150.91 342.92,1151.5 343,1151.96 343.08,1152.86 343.17,1154.09 343.26,1153.28 343.35,1152.84 343.44,1154.68 343.54,1155.99 343.65,1157.57 343.76,1156.65 343.88,1157.6 344,1157.39 344.12,1158.64 344.25,1159.81 344.38,1160.89 344.51,1161.2 344.65,1161.59 344.79,1162.16 344.93,1163.07 345.07,1163.51 345.22,1163.93 345.36,1164.93 345.51,1166.96 345.67,1168 345.82,1168.66 345.98,1167.83 346.14,1168.19 346.3,1169.46 346.47,1170.39 346.64,1171.56 346.81,1171.94 346.98,1172.49 347.16,1173.49 347.34,1174.1 347.52,1175.35 347.7,1175.04 347.89,1175.4 348.08,1174.81 348.27,1175.95 348.46,1176.6 348.66,1178 348.86,1178.78 349.06,1178.66 349.26,1179.17 349.47,1178.9 349.68,1180.3 349.89,1181.05 350.11,1182.93 350.33,1183.13 350.55,1184.26 350.78,1184.41 351.01,1185.6 351.25,1186.37 351.49,1187.81 351.74,1188.99 352,1188.61 352.26,1188.75 352.53,1188.22 352.81,1189.69 353.09,1189.64 353.38,1191.27 353.68,1192.13 353.99,1193.2 354.31,1192.83 354.63,1192.23 354.97,1192.09 355.31,1193 355.66,1194.63 356.03,1196.31 356.41,1197.47 356.82,1197.22 357.26,1197.2 357.72,1197.59 358.2,1198.8 358.71,1199.24 359.23,1198.64 359.77,1199.7 360.33,1200.16 360.89,1200.41 361.46,1200.13 362.04,1200.7 362.62,1201.83 363.21,1202.01 363.79,1201.68 364.37,1202.8 364.94,1203.17 365.51,1203.18 366.09,1202.75 366.67,1201.83 367.25,1203.22 367.85,1203.31 368.45,1205.12 369.05,1205.75 369.66,1206.45 370.28,1207.82 370.9,1207.87 371.52,1208.53 372.14,1207.69 372.77,1207.8 373.4,1207.43 374.03,1208.26 374.66,1209.03 375.29,1210.46 375.93,1209.89 376.56,1209.43 377.19,1208.82 377.82,1209.41 378.46,1209.98 379.09,1209.42 379.73,1209.58 380.37,1210.02 381.01,1211.42 381.65,1211.59 382.29,1211.71 382.94,1212.31 383.58,1213.34 384.23,1213.65 384.88,1213.34 385.53,1212.97 386.19,1213.59 386.84,1213.91 387.49,1214.21 388.15,1214.71 388.81,1214.55 389.47,1214.18 390.12,1213.63 390.78,1215 391.45,1215.94 392.11,1215.4 392.77,1215.12 393.43,1215.12 394.1,1216.18 394.76,1215.12 395.43,1214.81 396.09,1214.51 396.76,1215.79 397.43,1215.81 398.1,1215.75 398.78,1214.71 399.45,1215.61 400.13,1215.95 400.8,1217.16 401.48,1216.83 402.16,1217.42 402.84,1216.73 403.52,1217.17 404.2,1216.69 404.89,1216.82 405.57,1217.1 406.26,1216.84 406.94,1217.35 407.63,1217.12 408.31,1217.93 409,1217.98 409.69,1218.39 410.37,1218.02 411.06,1218.8 411.75,1219.09 412.43,1219.62 413.12,1218.92 413.81,1217.7 414.5,1217.19 415.18,1216.95 415.87,1217.68 416.55,1219 417.24,1218.64 417.92,1219.09 418.61,1218.46 419.29,1219.49 419.97,1219.2 420.66,1218.86 421.34,1218.59 422.02,1218.63 422.71,1219.61 423.39,1219.74 424.07,1220.45 424.75,1220.52 425.44,1220.61 426.12,1220.19 426.8,1220.32 427.49,1219.92 428.17,1219.4 428.86,1219.28 429.54,1220.33 430.22,1220.46 430.91,1219.63 431.59,1219.56 432.27,1220.6 432.96,1220.91 433.64,1220.27 434.32,1220.27 435.01,1220.99 435.69,1220.91 436.37,1219.98 437.06,1219.5 437.74,1220.66 438.42,1221.54 439.11,1221.75 439.79,1220.4 440.47,1221.32 441.16,1221.02 441.84,1222.85 442.52,1222.48 443.2,1223.23 443.89,1222.69 444.57,1221.6 445.25,1220.83 445.93,1220.25 446.61,1220.02 447.3,1220.59 447.98,1220.46 448.66,1221.92 449.34,1223.31 450.02,1222.87 450.71,1221.58 451.39,1220.75 452.07,1222.15 452.76,1222.76 453.44,1222.45 454.12,1222.62 454.8,1222.61 455.49,1223.1 456.17,1223.63 456.85,1224.62 457.53,1225.32 458.21,1224.92 458.9,1224.62 459.58,1222.96 460.26,1222.8 460.94,1222.18 461.62,1223.72 462.3,1224.88 462.98,1225.28 463.65,1224.58 464.33,1223.46 465.01,1223.71 465.69,1223.6 466.36,1224.44 467.04,1224.45 467.71,1225.8 468.38,1225.89 469.06,1225.98 469.73,1225 470.41,1225.16 471.08,1225.27 471.76,1224.86 472.44,1224.42 473.11,1224.34 473.79,1226.35 474.46,1226.61 475.14,1226.9 475.81,1224.9 476.49,1225.68 477.16,1226.38 477.83,1227.67 478.5,1227.12 479.17,1227.12 479.84,1227.69 480.5,1228.08 481.16,1227.93 481.82,1227.85 482.48,1226.84 483.14,1226.99 483.79,1226.89 484.44,1227.84 485.09,1228.23 485.73,1228.99 486.37,1229.51 487.01,1229.13 487.64,1229.18 488.27,1229.97 488.89,1231.43 489.52,1231.9 490.14,1232.27 490.75,1232.07 491.37,1230.74 491.98,1230.31 492.59,1230.08 493.19,1231.81 493.8,1232.71 494.4,1233.68" fill="none" stroke="#f01218" stroke-width="1.9" stroke-linejoin="round"/>
<rect x="49.8" y="1064.2" width="444.6" height="345.8" fill="none" stroke="#2a2a2a" stroke-width="1.8"/>
<line x1="123.6" y1="1064.2" x2="123.6" y2="1079.7" stroke="#2a2a2a" stroke-width="1.6"/>
<line x1="123.6" y1="1410" x2="123.6" y2="1394.5" stroke="#2a2a2a" stroke-width="1.6"/>
<line x1="197.4" y1="1064.2" x2="197.4" y2="1079.7" stroke="#2a2a2a" stroke-width="1.6"/>
<line x1="197.4" y1="1410" x2="197.4" y2="1394.5" stroke="#2a2a2a" stroke-width="1.6"/>
<line x1="345" y1="1064.2" x2="345" y2="1079.7" stroke="#2a2a2a" stroke-width="1.6"/>
<line x1="345" y1="1410" x2="345" y2="1394.5" stroke="#2a2a2a" stroke-width="1.6"/>
<line x1="418.8" y1="1064.2" x2="418.8" y2="1079.7" stroke="#2a2a2a" stroke-width="1.6"/>
<line x1="418.8" y1="1410" x2="418.8" y2="1394.5" stroke="#2a2a2a" stroke-width="1.6"/>
<line x1="49.8" y1="1375.42" x2="58.3" y2="1375.42" stroke="#2a2a2a" stroke-width="1.6"/>
<line x1="494.4" y1="1375.42" x2="485.9" y2="1375.42" stroke="#2a2a2a" stroke-width="1.6"/>
<line x1="49.8" y1="1340.84" x2="65.8" y2="1340.84" stroke="#2a2a2a" stroke-width="1.6"/>
<line x1="494.4" y1="1340.84" x2="478.4" y2="1340.84" stroke="#2a2a2a" stroke-width="1.6"/>
<line x1="49.8" y1="1306.26" x2="58.3" y2="1306.26" stroke="#2a2a2a" stroke-width="1.6"/>
<line x1="494.4" y1="1306.26" x2="485.9" y2="1306.26" stroke="#2a2a2a" stroke-width="1.6"/>
<line x1="49.8" y1="1271.68" x2="65.8" y2="1271.68" stroke="#2a2a2a" stroke-width="1.6"/>
<line x1="494.4" y1="1271.68" x2="478.4" y2="1271.68" stroke="#2a2a2a" stroke-width="1.6"/>
<line x1="49.8" y1="1237.1" x2="58.3" y2="1237.1" stroke="#2a2a2a" stroke-width="1.6"/>
<line x1="494.4" y1="1237.1" x2="485.9" y2="1237.1" stroke="#2a2a2a" stroke-width="1.6"/>
<line x1="49.8" y1="1202.52" x2="65.8" y2="1202.52" stroke="#2a2a2a" stroke-width="1.6"/>
<line x1="494.4" y1="1202.52" x2="478.4" y2="1202.52" stroke="#2a2a2a" stroke-width="1.6"/>
<line x1="49.8" y1="1167.94" x2="58.3" y2="1167.94" stroke="#2a2a2a" stroke-width="1.6"/>
<line x1="494.4" y1="1167.94" x2="485.9" y2="1167.94" stroke="#2a2a2a" stroke-width="1.6"/>
<line x1="49.8" y1="1133.36" x2="65.8" y2="1133.36" stroke="#2a2a2a" stroke-width="1.6"/>
<line x1="494.4" y1="1133.36" x2="478.4" y2="1133.36" stroke="#2a2a2a" stroke-width="1.6"/>
<line x1="49.8" y1="1098.78" x2="58.3" y2="1098.78" stroke="#2a2a2a" stroke-width="1.6"/>
<line x1="494.4" y1="1098.78" x2="485.9" y2="1098.78" stroke="#2a2a2a" stroke-width="1.6"/>
<line x1="314.1" y1="1367.5" x2="314.1" y2="1410" stroke="#5b9e2c" stroke-width="2.1"/>
<line x1="334.7" y1="1339.2" x2="334.7" y2="1410" stroke="#5b9e2c" stroke-width="2.1"/>
<line x1="341.9" y1="1292" x2="341.9" y2="1410" stroke="#5b9e2c" stroke-width="2.1"/>
<line x1="345.3" y1="1261.3" x2="345.3" y2="1410" stroke="#5b9e2c" stroke-width="2.1"/>
<line x1="353.3" y1="1368.8" x2="353.3" y2="1410" stroke="#5b9e2c" stroke-width="2.1"/>
<line x1="355.2" y1="1372" x2="355.2" y2="1410" stroke="#5b9e2c" stroke-width="2.1"/>
<line x1="369.9" y1="1404.8" x2="369.9" y2="1410" stroke="#5b9e2c" stroke-width="2.1"/>
<line x1="382.1" y1="1380.8" x2="382.1" y2="1410" stroke="#5b9e2c" stroke-width="2.1"/>
<line x1="415.2" y1="1397.3" x2="415.2" y2="1410" stroke="#5b9e2c" stroke-width="2.1"/>
<line x1="426.1" y1="1395.5" x2="426.1" y2="1410" stroke="#5b9e2c" stroke-width="2.1"/>
<line x1="436" y1="1376" x2="436" y2="1410" stroke="#5b9e2c" stroke-width="2.1"/>
<text x="49.8" y="1439" font-size="20" font-weight="normal" text-anchor="middle" fill="#111">-150</text>
<text x="123.6" y="1439" font-size="20" font-weight="normal" text-anchor="middle" fill="#111">-100</text>
<text x="197.4" y="1439" font-size="20" font-weight="normal" text-anchor="middle" fill="#111">-50</text>
<text x="271.2" y="1439" font-size="20" font-weight="normal" text-anchor="middle" fill="#111">0</text>
<text x="345" y="1439" font-size="20" font-weight="normal" text-anchor="middle" fill="#111">50</text>
<text x="418.8" y="1439" font-size="20" font-weight="normal" text-anchor="middle" fill="#111">100</text>
<text x="492.6" y="1439" font-size="20" font-weight="normal" text-anchor="middle" fill="#111">150</text>
<text x="183.6" y="1467" font-size="20" fill="#111" textLength="181" lengthAdjust="spacingAndGlyphs">Wavenumber (cm<tspan font-size="12" dy="-7">-1</tspan><tspan dy="7">)</tspan></text>
<text x="199.3" y="1058.8" font-size="18.6" font-weight="normal" text-anchor="start" fill="#111" textLength="145" lengthAdjust="spacingAndGlyphs">n = 2 BA:MAPbI</text>
<text transform="translate(36.4 1228.3) rotate(-90)" font-size="20" font-weight="normal" text-anchor="middle" fill="#000" textLength="221.6" lengthAdjust="spacingAndGlyphs">Raman Intensity (norm.)</text>
<line x1="69.7" y1="1112.7" x2="97.5" y2="1112.7" stroke="#f01218" stroke-width="1.9"/>
<line x1="69.7" y1="1130.2" x2="97.5" y2="1130.2" stroke="#1a1ee6" stroke-width="1.9"/>
<line x1="84.1" y1="1143.6" x2="84.1" y2="1152.2" stroke="#5b9e2c" stroke-width="2.1"/>
<text x="105.2" y="1118.2" font-size="15.2" font-weight="normal" text-anchor="start" fill="#111">RT</text>
<text x="105.2" y="1135.6" font-size="15.2" font-weight="normal" text-anchor="start" fill="#111">77 K</text>
<text x="105.2" y="1152.8" font-size="15.2" font-weight="normal" text-anchor="start" fill="#111">0 K DFT</text>
<defs><linearGradient id="gTop" gradientUnits="userSpaceOnUse" x1="624" y1="0" x2="777" y2="0"><stop offset="0" stop-color="#4a0a86"/><stop offset="0.3" stop-color="#400a9c"/><stop offset="0.62" stop-color="#1410e8"/><stop offset="1" stop-color="#1010f0"/></linearGradient></defs>
<polyline points="623.83,1089.03 625.77,1089.02 627.71,1089.01 629.64,1089 631.58,1088.99 633.52,1088.98 635.45,1088.97 637.39,1088.96 639.33,1088.95 641.26,1088.94 643.2,1088.93 645.14,1088.92 647.08,1088.91 649.01,1088.9 650.95,1088.89 652.89,1088.88 654.82,1088.87 656.76,1088.86 658.7,1088.85 660.63,1088.84 662.57,1088.84 664.51,1088.83 666.44,1088.82 668.38,1088.81 670.32,1088.8 672.25,1088.79 674.19,1088.78 676.13,1088.77 678.07,1088.76 680,1088.75 681.94,1088.74 683.88,1088.73 685.81,1088.72 687.75,1088.71 689.69,1088.7 691.62,1088.69 693.56,1088.68 695.5,1088.67 697.43,1088.66 699.37,1088.65 701.31,1088.64 703.24,1088.63 705.18,1088.62 707.12,1088.61 709.05,1088.6 710.99,1088.59 712.93,1088.58 714.87,1088.57 716.8,1088.56 718.74,1088.56 720.68,1088.55 722.61,1088.54 724.55,1088.53 726.49,1088.52 728.42,1088.51 730.36,1088.5 732.3,1088.49 734.23,1088.48 736.17,1088.47 738.11,1088.46 740.04,1088.45 741.98,1088.44 743.92,1088.43 745.86,1088.42 747.79,1088.41 749.73,1088.4 751.67,1088.39 753.6,1088.38 755.54,1088.37 757.48,1088.36 759.41,1088.35 761.35,1088.34 763.29,1088.33 765.22,1088.32 767.16,1088.31 769.1,1088.3 771.03,1088.29 772.97,1088.28 774.91,1088.28 776.85,1088.27" fill="none" stroke="#f27f90" stroke-width="5.2" stroke-linecap="butt" opacity="1"/>
<polyline points="623.83,1088.48 625.77,1088.41 627.71,1088.34 629.64,1088.28 631.58,1088.21 633.52,1088.14 635.45,1088.07 637.39,1088 639.33,1087.93 641.26,1087.86 643.2,1087.79 645.14,1087.72 647.08,1087.65 649.01,1087.58 650.95,1087.51 652.89,1087.44 654.82,1087.38 656.76,1087.31 658.7,1087.24 660.63,1087.17 662.57,1087.1 664.51,1087.03 666.44,1086.96 668.38,1086.89 670.32,1086.82 672.25,1086.75 674.19,1086.68 676.13,1086.61 678.07,1086.55 680,1086.48 681.94,1086.41 683.88,1086.34 685.81,1086.27 687.75,1086.2 689.69,1086.13 691.62,1086.06 693.56,1085.99 695.5,1085.92 697.43,1085.85 699.37,1085.78 701.31,1085.71 703.24,1085.65 705.18,1085.58 707.12,1085.51 709.05,1085.44 710.99,1085.37 712.93,1085.3 714.87,1085.23 716.8,1085.16 718.74,1085.09 720.68,1085.02 722.61,1084.95 724.55,1084.88 726.49,1084.82 728.42,1084.75 730.36,1084.68 732.3,1084.61 734.23,1084.54 736.17,1084.47 738.11,1084.4 740.04,1084.33 741.98,1084.26 743.92,1084.19 745.86,1084.12 747.79,1084.05 749.73,1083.98 751.67,1083.92 753.6,1083.85 755.54,1083.78 757.48,1083.71 759.41,1083.64 761.35,1083.57 763.29,1083.5 765.22,1083.43 767.16,1083.36 769.1,1083.29 771.03,1083.22 772.97,1083.15 774.91,1083.09 776.85,1083.02" fill="none" stroke="url(#gTop)" stroke-width="5.2" stroke-linecap="butt" opacity="1"/>
<polyline points="623.83,1167.33 625.77,1167.34 627.71,1167.36 629.64,1167.39 631.58,1167.44 633.52,1167.49 635.45,1167.56 637.39,1167.63 639.33,1167.72 641.26,1167.81 643.2,1167.92 645.14,1168.03 647.08,1168.16 649.01,1168.29 650.95,1168.44 652.89,1168.59 654.82,1168.76 656.76,1168.93 658.7,1169.11 660.63,1169.29 662.57,1169.49 664.51,1169.69 666.44,1169.9 668.38,1170.12 670.32,1170.35 672.25,1170.58 674.19,1170.81 676.13,1171.06 678.07,1171.3 680,1171.55 681.94,1171.81 683.88,1172.07 685.81,1172.34 687.75,1172.6 689.69,1172.87 691.62,1173.15 693.56,1173.42 695.5,1173.7 697.43,1173.97 699.37,1174.25 701.31,1174.53 703.24,1174.81 705.18,1175.08 707.12,1175.36 709.05,1175.63 710.99,1175.91 712.93,1176.18 714.87,1176.45 716.8,1176.71 718.74,1176.97 720.68,1177.23 722.61,1177.48 724.55,1177.73 726.49,1177.98 728.42,1178.22 730.36,1178.45 732.3,1178.67 734.23,1178.89 736.17,1179.11 738.11,1179.31 740.04,1179.51 741.98,1179.7 743.92,1179.88 745.86,1180.06 747.79,1180.22 749.73,1180.38 751.67,1180.53 753.6,1180.67 755.54,1180.8 757.48,1180.91 759.41,1181.02 761.35,1181.12 763.29,1181.21 765.22,1181.29 767.16,1181.36 769.1,1181.41 771.03,1181.46 772.97,1181.5 774.91,1181.52 776.85,1181.54" fill="none" stroke="#1010f0" stroke-width="5.6" stroke-linecap="butt" opacity="1"/>
<polyline points="623.83,1209.32 625.77,1209.31 627.71,1209.29 629.64,1209.26 631.58,1209.21 633.52,1209.16 635.45,1209.1 637.39,1209.03 639.33,1208.95 641.26,1208.86 643.2,1208.76 645.14,1208.64 647.08,1208.52 649.01,1208.4 650.95,1208.26 652.89,1208.11 654.82,1207.96 656.76,1207.79 658.7,1207.62 660.63,1207.44 662.57,1207.25 664.51,1207.06 666.44,1206.86 668.38,1206.65 670.32,1206.44 672.25,1206.22 674.19,1205.99 676.13,1205.76 678.07,1205.52 680,1205.28 681.94,1205.04 683.88,1204.79 685.81,1204.54 687.75,1204.28 689.69,1204.03 691.62,1203.77 693.56,1203.5 695.5,1203.24 697.43,1202.98 699.37,1202.71 701.31,1202.44 703.24,1202.18 705.18,1201.91 707.12,1201.65 709.05,1201.39 710.99,1201.13 712.93,1200.87 714.87,1200.61 716.8,1200.36 718.74,1200.11 720.68,1199.86 722.61,1199.62 724.55,1199.39 726.49,1199.15 728.42,1198.93 730.36,1198.7 732.3,1198.49 734.23,1198.28 736.17,1198.07 738.11,1197.88 740.04,1197.69 741.98,1197.51 743.92,1197.33 745.86,1197.17 747.79,1197.01 749.73,1196.86 751.67,1196.72 753.6,1196.59 755.54,1196.46 757.48,1196.35 759.41,1196.24 761.35,1196.15 763.29,1196.07 765.22,1195.99 767.16,1195.93 769.1,1195.87 771.03,1195.83 772.97,1195.79 774.91,1195.77 776.85,1195.76" fill="none" stroke="#1010f0" stroke-width="5.6" stroke-linecap="butt" opacity="1"/>
<polyline points="623.83,1302.08 625.77,1302.09 627.71,1302.1 629.64,1302.11 631.58,1302.13 633.52,1302.15 635.45,1302.17 637.39,1302.2 639.33,1302.23 641.26,1302.27 643.2,1302.31 645.14,1302.35 647.08,1302.4 649.01,1302.45 650.95,1302.51 652.89,1302.57 654.82,1302.63 656.76,1302.69 658.7,1302.76 660.63,1302.83 662.57,1302.91 664.51,1302.99 666.44,1303.07 668.38,1303.15 670.32,1303.24 672.25,1303.32 674.19,1303.41 676.13,1303.51 678.07,1303.6 680,1303.7 681.94,1303.8 683.88,1303.89 685.81,1304 687.75,1304.1 689.69,1304.2 691.62,1304.3 693.56,1304.41 695.5,1304.51 697.43,1304.62 699.37,1304.73 701.31,1304.83 703.24,1304.94 705.18,1305.04 707.12,1305.15 709.05,1305.26 710.99,1305.36 712.93,1305.46 714.87,1305.57 716.8,1305.67 718.74,1305.77 720.68,1305.86 722.61,1305.96 724.55,1306.06 726.49,1306.15 728.42,1306.24 730.36,1306.33 732.3,1306.42 734.23,1306.5 736.17,1306.58 738.11,1306.66 740.04,1306.74 741.98,1306.81 743.92,1306.88 745.86,1306.94 747.79,1307.01 749.73,1307.07 751.67,1307.12 753.6,1307.18 755.54,1307.23 757.48,1307.27 759.41,1307.31 761.35,1307.35 763.29,1307.38 765.22,1307.41 767.16,1307.44 769.1,1307.46 771.03,1307.48 772.97,1307.49 774.91,1307.5 776.85,1307.51" fill="none" stroke="#1010f0" stroke-width="5.4" stroke-linecap="butt" opacity="1"/>
<polyline points="623.83,1413.91 625.77,1413.52 627.71,1413.12 629.64,1412.73 631.58,1412.33 633.52,1411.94 635.45,1411.55 637.39,1411.16 639.33,1410.77 641.26,1410.38 643.2,1410 645.14,1409.61 647.08,1409.23 649.01,1408.85 650.95,1408.47 652.89,1408.09 654.82,1407.71 656.76,1407.34 658.7,1406.97 660.63,1406.6 662.57,1406.24 664.51,1405.88 666.44,1405.52 668.38,1405.16 670.32,1404.81 672.25,1404.46 674.19,1404.12 676.13,1403.78 678.07,1403.44 680,1403.11 681.94,1402.78 683.88,1402.46 685.81,1402.14 687.75,1401.82 689.69,1401.51 691.62,1401.21 693.56,1400.9 695.5,1400.61 697.43,1400.32 699.37,1400.03 701.31,1399.75 703.24,1399.48 705.18,1399.21 707.12,1398.95 709.05,1398.69 710.99,1398.44 712.93,1398.19 714.87,1397.96 716.8,1397.72 718.74,1397.5 720.68,1397.28 722.61,1397.06 724.55,1396.85 726.49,1396.65 728.42,1396.46 730.36,1396.27 732.3,1396.09 734.23,1395.92 736.17,1395.75 738.11,1395.59 740.04,1395.44 741.98,1395.29 743.92,1395.16 745.86,1395.02 747.79,1394.9 749.73,1394.78 751.67,1394.68 753.6,1394.57 755.54,1394.48 757.48,1394.39 759.41,1394.31 761.35,1394.24 763.29,1394.18 765.22,1394.12 767.16,1394.07 769.1,1394.03 771.03,1394 772.97,1393.98 774.91,1393.96 776.85,1393.95" fill="none" stroke="#1010f0" stroke-width="5.4" stroke-linecap="butt" opacity="1"/>
<rect x="623.9" y="1065.2" width="152.9" height="348" fill="none" stroke="#2a2a2a" stroke-width="1.7"/>
<line x1="623.9" y1="1349.5" x2="639.9" y2="1349.5" stroke="#2a2a2a" stroke-width="1.6"/>
<line x1="776.8" y1="1349.5" x2="760.8" y2="1349.5" stroke="#2a2a2a" stroke-width="1.6"/>
<line x1="623.9" y1="1284.9" x2="639.9" y2="1284.9" stroke="#2a2a2a" stroke-width="1.6"/>
<line x1="776.8" y1="1284.9" x2="760.8" y2="1284.9" stroke="#2a2a2a" stroke-width="1.6"/>
<line x1="623.9" y1="1220.3" x2="639.9" y2="1220.3" stroke="#2a2a2a" stroke-width="1.6"/>
<line x1="776.8" y1="1220.3" x2="760.8" y2="1220.3" stroke="#2a2a2a" stroke-width="1.6"/>
<line x1="623.9" y1="1155.7" x2="639.9" y2="1155.7" stroke="#2a2a2a" stroke-width="1.6"/>
<line x1="776.8" y1="1155.7" x2="760.8" y2="1155.7" stroke="#2a2a2a" stroke-width="1.6"/>
<line x1="623.9" y1="1091.1" x2="639.9" y2="1091.1" stroke="#2a2a2a" stroke-width="1.6"/>
<line x1="776.8" y1="1091.1" x2="760.8" y2="1091.1" stroke="#2a2a2a" stroke-width="1.6"/>
<text x="615.6" y="1421" font-size="19.4" font-weight="normal" text-anchor="end" fill="#111">0</text>
<text x="615.6" y="1356.4" font-size="19.4" font-weight="normal" text-anchor="end" fill="#111">5</text>
<text x="615.6" y="1291.8" font-size="19.4" font-weight="normal" text-anchor="end" fill="#111">10</text>
<text x="615.6" y="1227.2" font-size="19.4" font-weight="normal" text-anchor="end" fill="#111">15</text>
<text x="615.6" y="1162.6" font-size="19.4" font-weight="normal" text-anchor="end" fill="#111">20</text>
<text x="615.6" y="1098" font-size="19.4" font-weight="normal" text-anchor="end" fill="#111">25</text>
<line x1="654" y1="1065.2" x2="654" y2="1073.2" stroke="#2a2a2a" stroke-width="1.6"/>
<line x1="654" y1="1413.2" x2="654" y2="1405.2" stroke="#2a2a2a" stroke-width="1.6"/>
<line x1="685.1" y1="1065.2" x2="685.1" y2="1080.7" stroke="#2a2a2a" stroke-width="1.6"/>
<line x1="685.1" y1="1413.2" x2="685.1" y2="1397.7" stroke="#2a2a2a" stroke-width="1.6"/>
<line x1="716.2" y1="1065.2" x2="716.2" y2="1073.2" stroke="#2a2a2a" stroke-width="1.6"/>
<line x1="716.2" y1="1413.2" x2="716.2" y2="1405.2" stroke="#2a2a2a" stroke-width="1.6"/>
<line x1="747.3" y1="1065.2" x2="747.3" y2="1080.7" stroke="#2a2a2a" stroke-width="1.6"/>
<line x1="747.3" y1="1413.2" x2="747.3" y2="1397.7" stroke="#2a2a2a" stroke-width="1.6"/>
<text x="685.1" y="1441.8" font-size="19.4" font-weight="normal" text-anchor="middle" fill="#111">0.4</text>
<text x="746.8" y="1441.8" font-size="19.4" font-weight="normal" text-anchor="middle" fill="#111">0.8</text>
<text x="620" y="1463.6" font-size="19.6" font-weight="normal" text-anchor="start" fill="#111" textLength="169" lengthAdjust="spacingAndGlyphs">Wavevector (kd/π)</text>
<text transform="translate(583.3 1234.2) rotate(-90)" font-size="20.5" text-anchor="middle" fill="#111" textLength="157" lengthAdjust="spacingAndGlyphs">Frequency (cm<tspan font-size="12" dy="-7">-1</tspan><tspan dy="7">)</tspan></text>
</svg>
</body></html>
